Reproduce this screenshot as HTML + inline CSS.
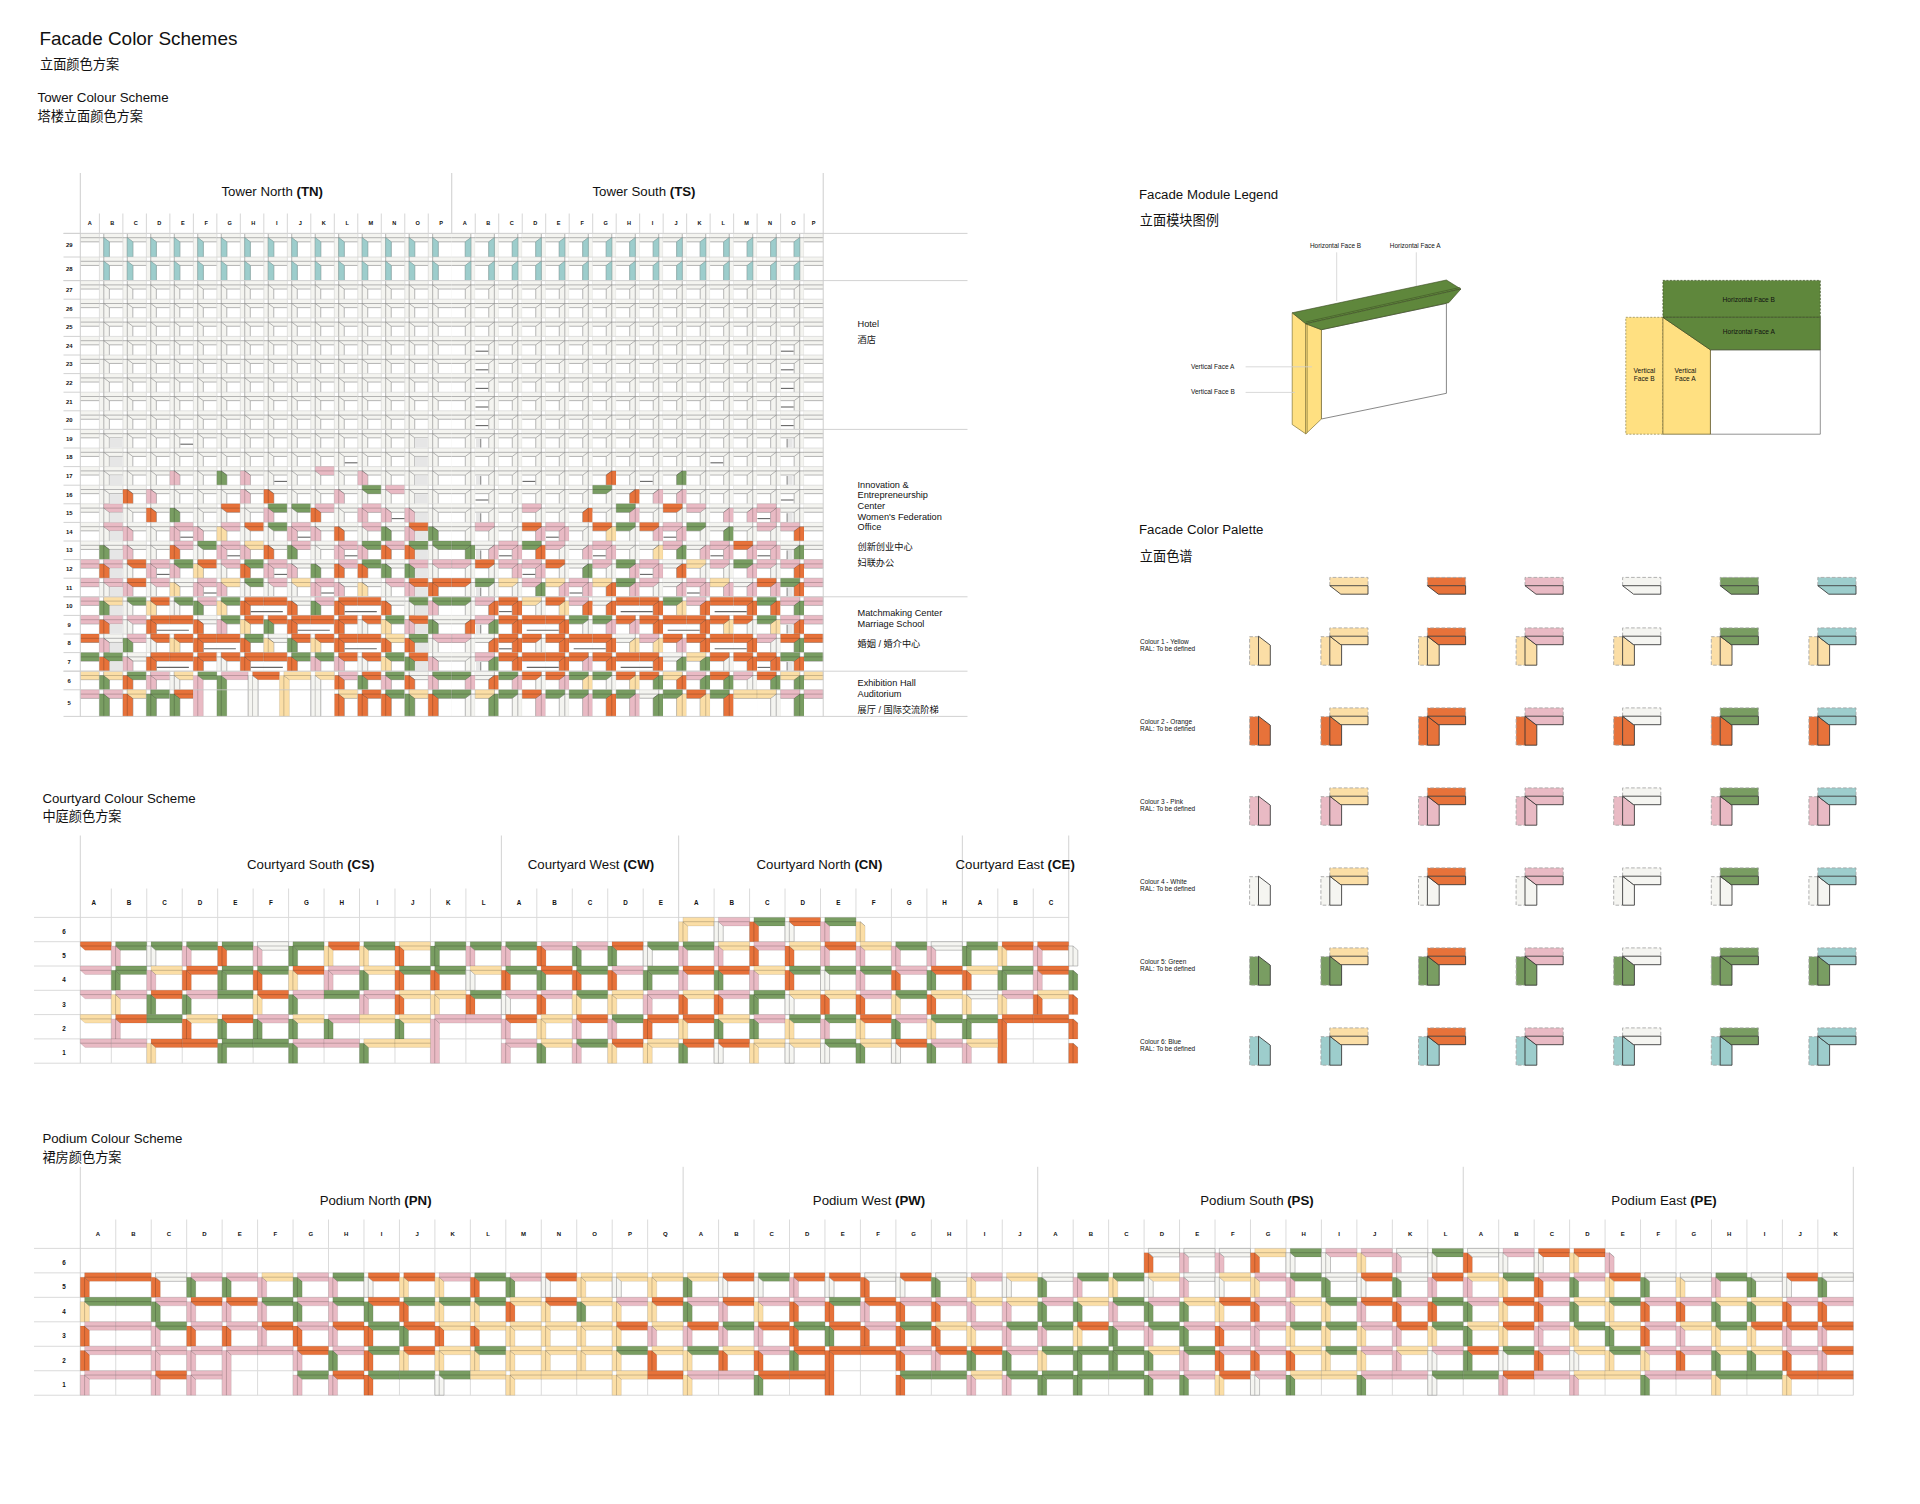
<!DOCTYPE html><html><head><meta charset="utf-8"><title>Facade Color Schemes</title><style>html,body{margin:0;padding:0;background:#fff}svg{display:block}</style></head><body><svg width="1920" height="1504" viewBox="0 0 1920 1504" font-family="'Liberation Sans','Noto Sans CJK SC',sans-serif" fill="#111"><defs><g id="d0"><rect width="19.1" height="23.6" fill="#f4f4f0"/><polygon points="0,8.45 19.1,8.45 19.1,23.6 0,23.6" fill="#fff"/><path d="M0 0L19.1 0" stroke="#d0d0d0" stroke-width=".6" fill="none"/><path d="M0 4.3L19.1 4.3M0 8.45L19.1 8.45" stroke="#8f8f8f" stroke-width=".65" fill="none"/></g><g id="d1"><rect width="23.49" height="23.6" fill="#f4f4f0"/><polygon points="0.6,0.6 4,0.6 4,3.9 0.6,3.9" fill="#fff"/><polygon points="9.95,8.45 23.49,8.45 23.49,23.6 9.95,23.6" fill="#fff"/><path d="M0 0L0 23.6M0 0L23.49 0" stroke="#d0d0d0" stroke-width=".6" fill="none"/><path d="M4.4 0L4.4 23.6M0 4.3L23.49 4.3M4.4 4.3L9.95 8.45M9.95 23.6L9.95 8.45M9.95 8.45L23.49 8.45" stroke="#8f8f8f" stroke-width=".65" fill="none"/></g><g id="d2"><polygon points="4.4,4.3 9.95,8.45 9.95,23.6 4.4,23.6" stroke="#6f9c9b" stroke-width=".4"/></g><g id="d3"><rect width="19.1" height="18.6" fill="#f4f4f0"/><polygon points="0,8.45 19.1,8.45 19.1,18.6 0,18.6" fill="#fff"/><path d="M0 0L19.1 0" stroke="#d0d0d0" stroke-width=".6" fill="none"/><path d="M0 4.3L19.1 4.3M0 8.45L19.1 8.45" stroke="#8f8f8f" stroke-width=".65" fill="none"/></g><g id="d4"><rect width="23.49" height="18.6" fill="#f4f4f0"/><polygon points="0.6,0.6 4,0.6 4,3.9 0.6,3.9" fill="#fff"/><polygon points="9.95,8.45 23.49,8.45 23.49,18.6 9.95,18.6" fill="#fff"/><path d="M0 0L0 18.6M0 0L23.49 0" stroke="#d0d0d0" stroke-width=".6" fill="none"/><path d="M4.4 0L4.4 18.6M0 4.3L23.49 4.3M4.4 4.3L9.95 8.45M9.95 18.6L9.95 8.45M9.95 8.45L23.49 8.45" stroke="#8f8f8f" stroke-width=".65" fill="none"/></g><g id="d5"><polygon points="0,4.3 4.4,4.3 9.95,8.45 9.95,18.6 0,18.6" stroke="#000" stroke-opacity=".2" stroke-width=".45"/><path d="M4.4 4.3L4.4 18.6M4.4 4.3L9.95 8.45" stroke="#000" stroke-opacity="0.32" stroke-width=".6" fill="none"/></g><g id="d6"><polygon points="4.4,0 23.49,0 23.49,8.45 9.95,8.45 4.4,4.3" stroke="#000" stroke-opacity=".2" stroke-width=".45"/><path d="M4.4 4.3L23.49 4.3" stroke="#000" stroke-opacity=".32" stroke-width=".6" fill="none"/></g><g id="d7"><polygon points="0,0 19.1,0 19.1,8.45 0,8.45" stroke="#000" stroke-opacity=".2" stroke-width=".45"/><path d="M0 4.3L19.1 4.3" stroke="#000" stroke-opacity=".32" stroke-width=".6" fill="none"/></g><g id="d8"><rect width="23.49" height="18.6" fill="#f4f4f0"/><polygon points="0,8.45 23.49,8.45 23.49,18.6 0,18.6" fill="#fff"/><path d="M0 0L23.49 0" stroke="#d0d0d0" stroke-width=".6" fill="none"/><path d="M0 4.3L23.49 4.3M0 8.45L23.49 8.45" stroke="#8f8f8f" stroke-width=".65" fill="none"/></g><g id="d9"><polygon points="0,0 23.49,0 23.49,8.45 0,8.45" stroke="#000" stroke-opacity=".2" stroke-width=".45"/><path d="M0 4.3L23.49 4.3" stroke="#000" stroke-opacity=".32" stroke-width=".6" fill="none"/></g><g id="d10"><rect width="19.1" height="26.6" fill="#f4f4f0"/><polygon points="0,8.45 19.1,8.45 19.1,26.6 0,26.6" fill="#fff"/><path d="M0 0L19.1 0" stroke="#d0d0d0" stroke-width=".6" fill="none"/><path d="M0 4.3L19.1 4.3M0 8.45L19.1 8.45" stroke="#8f8f8f" stroke-width=".65" fill="none"/></g><g id="d11"><rect width="23.49" height="26.6" fill="#f4f4f0"/><polygon points="0.6,0.6 4,0.6 4,3.9 0.6,3.9" fill="#fff"/><polygon points="9.95,8.45 23.49,8.45 23.49,26.6 9.95,26.6" fill="#fff"/><path d="M0 0L0 26.6M0 0L23.49 0" stroke="#d0d0d0" stroke-width=".6" fill="none"/><path d="M4.4 0L4.4 26.6M0 4.3L23.49 4.3M4.4 4.3L9.95 8.45M9.95 26.6L9.95 8.45M9.95 8.45L23.49 8.45" stroke="#8f8f8f" stroke-width=".65" fill="none"/></g><g id="d12"><polygon points="0,4.3 4.4,4.3 9.95,8.45 9.95,26.6 0,26.6" stroke="#000" stroke-opacity=".2" stroke-width=".45"/><path d="M4.4 4.3L4.4 26.6M4.4 4.3L9.95 8.45" stroke="#000" stroke-opacity="0.32" stroke-width=".6" fill="none"/></g><g id="d13"><rect width="23.49" height="23.6" fill="#f4f4f0"/><polygon points="22.89,0.6 19.49,0.6 19.49,3.9 22.89,3.9" fill="#fff"/><polygon points="13.54,8.45 0,8.45 0,23.6 13.54,23.6" fill="#fff"/><path d="M23.49 0L23.49 23.6M23.49 0L0 0" stroke="#d0d0d0" stroke-width=".6" fill="none"/><path d="M19.09 0L19.09 23.6M23.49 4.3L0 4.3M19.09 4.3L13.54 8.45M13.54 23.6L13.54 8.45M13.54 8.45L0 8.45" stroke="#8f8f8f" stroke-width=".65" fill="none"/></g><g id="d14"><polygon points="19.09,4.3 13.54,8.45 13.54,23.6 19.09,23.6" stroke="#6f9c9b" stroke-width=".4"/></g><g id="d15"><rect width="19.1" height="23.6" fill="#f4f4f0"/><polygon points="0,8.45 19.1,8.45 19.1,23.6 0,23.6" fill="#fff"/><path d="M19.1 0L0 0" stroke="#d0d0d0" stroke-width=".6" fill="none"/><path d="M19.1 4.3L0 4.3M19.1 8.45L0 8.45" stroke="#8f8f8f" stroke-width=".65" fill="none"/></g><g id="d16"><rect width="23.49" height="18.6" fill="#f4f4f0"/><polygon points="22.89,0.6 19.49,0.6 19.49,3.9 22.89,3.9" fill="#fff"/><polygon points="13.54,8.45 0,8.45 0,18.6 13.54,18.6" fill="#fff"/><path d="M23.49 0L23.49 18.6M23.49 0L0 0" stroke="#d0d0d0" stroke-width=".6" fill="none"/><path d="M19.09 0L19.09 18.6M23.49 4.3L0 4.3M19.09 4.3L13.54 8.45M13.54 18.6L13.54 8.45M13.54 8.45L0 8.45" stroke="#8f8f8f" stroke-width=".65" fill="none"/></g><g id="d17"><rect width="19.1" height="18.6" fill="#f4f4f0"/><polygon points="0,8.45 19.1,8.45 19.1,18.6 0,18.6" fill="#fff"/><path d="M19.1 0L0 0" stroke="#d0d0d0" stroke-width=".6" fill="none"/><path d="M19.1 4.3L0 4.3M19.1 8.45L0 8.45" stroke="#8f8f8f" stroke-width=".65" fill="none"/></g><g id="d18"><polygon points="23.49,4.3 19.09,4.3 13.54,8.45 13.54,18.6 23.49,18.6" stroke="#000" stroke-opacity=".2" stroke-width=".45"/><path d="M19.09 4.3L19.09 18.6M19.09 4.3L13.54 8.45" stroke="#000" stroke-opacity="0.32" stroke-width=".6" fill="none"/></g><g id="d19"><polygon points="19.09,0 0,0 0,8.45 13.54,8.45 19.09,4.3" stroke="#000" stroke-opacity=".2" stroke-width=".45"/><path d="M19.09 4.3L0 4.3" stroke="#000" stroke-opacity=".32" stroke-width=".6" fill="none"/></g><g id="d20"><polygon points="19.1,0 0,0 0,8.45 19.1,8.45" stroke="#000" stroke-opacity=".2" stroke-width=".45"/><path d="M19.1 4.3L0 4.3" stroke="#000" stroke-opacity=".32" stroke-width=".6" fill="none"/></g><g id="d21"><rect width="23.49" height="18.6" fill="#f4f4f0"/><polygon points="0,8.45 23.49,8.45 23.49,18.6 0,18.6" fill="#fff"/><path d="M23.49 0L0 0" stroke="#d0d0d0" stroke-width=".6" fill="none"/><path d="M23.49 4.3L0 4.3M23.49 8.45L0 8.45" stroke="#8f8f8f" stroke-width=".65" fill="none"/></g><g id="d22"><polygon points="23.49,0 0,0 0,8.45 23.49,8.45" stroke="#000" stroke-opacity=".2" stroke-width=".45"/><path d="M23.49 4.3L0 4.3" stroke="#000" stroke-opacity=".32" stroke-width=".6" fill="none"/></g><g id="d23"><rect width="23.49" height="26.6" fill="#f4f4f0"/><polygon points="22.89,0.6 19.49,0.6 19.49,3.9 22.89,3.9" fill="#fff"/><polygon points="13.54,8.45 0,8.45 0,26.6 13.54,26.6" fill="#fff"/><path d="M23.49 0L23.49 26.6M23.49 0L0 0" stroke="#d0d0d0" stroke-width=".6" fill="none"/><path d="M19.09 0L19.09 26.6M23.49 4.3L0 4.3M19.09 4.3L13.54 8.45M13.54 26.6L13.54 8.45M13.54 8.45L0 8.45" stroke="#8f8f8f" stroke-width=".65" fill="none"/></g><g id="d24"><polygon points="23.49,4.3 19.09,4.3 13.54,8.45 13.54,26.6 23.49,26.6" stroke="#000" stroke-opacity=".2" stroke-width=".45"/><path d="M19.09 4.3L19.09 26.6M19.09 4.3L13.54 8.45" stroke="#000" stroke-opacity="0.32" stroke-width=".6" fill="none"/></g><g id="d25"><rect width="23.49" height="26.6" fill="#f4f4f0"/><polygon points="0,8.45 23.49,8.45 23.49,26.6 0,26.6" fill="#fff"/><path d="M23.49 0L0 0" stroke="#d0d0d0" stroke-width=".6" fill="none"/><path d="M23.49 4.3L0 4.3M23.49 8.45L0 8.45" stroke="#8f8f8f" stroke-width=".65" fill="none"/></g><g id="d26"><rect width="19.1" height="26.6" fill="#f4f4f0"/><polygon points="0,8.45 19.1,8.45 19.1,26.6 0,26.6" fill="#fff"/><path d="M19.1 0L0 0" stroke="#d0d0d0" stroke-width=".6" fill="none"/><path d="M19.1 4.3L0 4.3M19.1 8.45L0 8.45" stroke="#8f8f8f" stroke-width=".65" fill="none"/></g><g id="d27"><polygon points="0,4.3 4.4,4.3 9.95,8.45 9.95,45.2 0,45.2" stroke="#000" stroke-opacity=".2" stroke-width=".45"/><path d="M4.4 4.3L4.4 45.2M4.4 4.3L9.95 8.45" stroke="#000" stroke-opacity="0.32" stroke-width=".6" fill="none"/></g><g id="d28"><polygon points="0,4.3 4.4,4.3 9.95,8.45 9.95,45.2 0,45.2" stroke="#000" stroke-opacity=".2" stroke-width=".45"/><path d="M4.4 4.3L4.4 45.2M4.4 4.3L9.95 8.45" stroke="#000" stroke-opacity="0.32" stroke-width=".6" fill="none"/></g><g id="d29"><polygon points="4.4,0 31.3,0 31.3,8.45 9.95,8.45 4.4,4.3" stroke="#000" stroke-opacity=".2" stroke-width=".45"/><path d="M4.4 4.3L31.3 4.3" stroke="#000" stroke-opacity=".32" stroke-width=".6" fill="none"/></g><g id="d30"><polygon points="0,4.3 4.4,4.3 9.95,8.45 9.95,45.2 0,45.2" stroke="#000" stroke-opacity=".2" stroke-width=".45"/><path d="M4.4 4.3L4.4 45.2M4.4 4.3L9.95 8.45" stroke="#000" stroke-opacity="0.32" stroke-width=".6" fill="none"/></g><g id="d31"><polygon points="4.4,0 31.36,0 31.36,8.45 9.95,8.45 4.4,4.3" stroke="#000" stroke-opacity=".2" stroke-width=".45"/><path d="M4.4 4.3L31.36 4.3" stroke="#000" stroke-opacity=".32" stroke-width=".6" fill="none"/></g><g id="d32"><polygon points="0,4.3 4.3,4.3 9.1,8.5 9.1,24.3 0,24.3" stroke="#000" stroke-opacity=".2" stroke-width=".45"/><path d="M4.3 4.3L4.3 24.3M4.3 4.3L9.1 8.5" stroke="#000" stroke-opacity="0.32" stroke-width=".6" fill="none"/></g><g id="d33"><polygon points="4.3,0 35.46,0 35.46,8.5 9.1,8.5 4.3,4.3" stroke="#000" stroke-opacity=".2" stroke-width=".45"/><path d="M4.3 4.3L35.46 4.3" stroke="#000" stroke-opacity=".32" stroke-width=".6" fill="none"/></g><g id="d34"><polygon points="0,4.3 4.3,4.3 9.1,8.5 9.1,24.3 0,24.3" fill="#f5f5f1" stroke="#9b9b9b" stroke-width=".6"/><path d="M4.3 4.3V24.3" stroke="#9b9b9b" stroke-width=".6"/></g><g id="d35"><polygon points="0,0 31,0 31,8.5 4.8,8.5 0,4.3" stroke="#000" stroke-opacity=".2" stroke-width=".45"/><path d="M0 4.3L31 4.3" stroke="#000" stroke-opacity=".32" stroke-width=".6" fill="none"/></g><g id="d36"><polygon points="4.3,0 35.46,0 35.46,8.5 9.1,8.5 4.3,4.3" fill="#f5f5f1" stroke="#9b9b9b" stroke-width=".6"/><path d="M4.3 4.3H35.46" stroke="#9b9b9b" stroke-width=".6"/></g><g id="d37"><polygon points="0,0 35.46,0 35.46,8.5 0,8.5" stroke="#000" stroke-opacity=".2" stroke-width=".45"/><path d="M0 4.3L35.46 4.3" stroke="#000" stroke-opacity=".32" stroke-width=".6" fill="none"/></g><g id="d38"><polygon points="0,4.3 4.3,4.3 9.1,8.5 9.1,48.6 0,48.6" stroke="#000" stroke-opacity=".2" stroke-width=".45"/><path d="M4.3 4.3L4.3 48.6M4.3 4.3L9.1 8.5" stroke="#000" stroke-opacity="0.32" stroke-width=".6" fill="none"/></g><g id="d39"><polygon points="0,4.3 4.3,4.3 9.1,8.5 9.1,24.47 0,24.47" stroke="#000" stroke-opacity=".2" stroke-width=".45"/><path d="M4.3 4.3L4.3 24.47M4.3 4.3L9.1 8.5" stroke="#000" stroke-opacity="0.32" stroke-width=".6" fill="none"/></g><g id="d40"><polygon points="0,4.3 4.3,4.3 9.1,8.5 9.1,24.47 0,24.47" fill="#f5f5f1" stroke="#9b9b9b" stroke-width=".6"/><path d="M4.3 4.3V24.47" stroke="#9b9b9b" stroke-width=".6"/></g><g id="d41"><polygon points="0,4.3 4.3,4.3 9.1,8.5 9.1,48.94 0,48.94" stroke="#000" stroke-opacity=".2" stroke-width=".45"/><path d="M4.3 4.3L4.3 48.94M4.3 4.3L9.1 8.5" stroke="#000" stroke-opacity="0.32" stroke-width=".6" fill="none"/></g></defs><g>
<use href="#d0" x="80.3" y="233.4"/>
<use href="#d1" x="99.4" y="233.4"/>
<use href="#d2" x="99.4" y="233.4" fill="#9dcdcc"/>
<use href="#d1" x="122.89" y="233.4"/>
<use href="#d2" x="122.89" y="233.4" fill="#9dcdcc"/>
<use href="#d1" x="146.38" y="233.4"/>
<use href="#d2" x="146.38" y="233.4" fill="#9dcdcc"/>
<use href="#d1" x="169.87" y="233.4"/>
<use href="#d2" x="169.87" y="233.4" fill="#9dcdcc"/>
<use href="#d1" x="193.36" y="233.4"/>
<use href="#d2" x="193.36" y="233.4" fill="#9dcdcc"/>
<use href="#d1" x="216.85" y="233.4"/>
<use href="#d2" x="216.85" y="233.4" fill="#9dcdcc"/>
<use href="#d1" x="240.34" y="233.4"/>
<use href="#d2" x="240.34" y="233.4" fill="#9dcdcc"/>
<use href="#d1" x="263.83" y="233.4"/>
<use href="#d2" x="263.83" y="233.4" fill="#9dcdcc"/>
<use href="#d1" x="287.32" y="233.4"/>
<use href="#d2" x="287.32" y="233.4" fill="#9dcdcc"/>
<use href="#d1" x="310.81" y="233.4"/>
<use href="#d2" x="310.81" y="233.4" fill="#9dcdcc"/>
<use href="#d1" x="334.3" y="233.4"/>
<use href="#d2" x="334.3" y="233.4" fill="#9dcdcc"/>
<use href="#d1" x="357.79" y="233.4"/>
<use href="#d2" x="357.79" y="233.4" fill="#9dcdcc"/>
<use href="#d1" x="381.28" y="233.4"/>
<use href="#d2" x="381.28" y="233.4" fill="#9dcdcc"/>
<use href="#d1" x="404.77" y="233.4"/>
<use href="#d2" x="404.77" y="233.4" fill="#9dcdcc"/>
<use href="#d1" x="428.26" y="233.4"/>
<use href="#d2" x="428.26" y="233.4" fill="#9dcdcc"/>
<use href="#d0" x="80.3" y="257"/>
<use href="#d1" x="99.4" y="257"/>
<use href="#d2" x="99.4" y="257" fill="#9dcdcc"/>
<use href="#d1" x="122.89" y="257"/>
<use href="#d2" x="122.89" y="257" fill="#9dcdcc"/>
<use href="#d1" x="146.38" y="257"/>
<use href="#d2" x="146.38" y="257" fill="#9dcdcc"/>
<use href="#d1" x="169.87" y="257"/>
<use href="#d2" x="169.87" y="257" fill="#9dcdcc"/>
<use href="#d1" x="193.36" y="257"/>
<use href="#d2" x="193.36" y="257" fill="#9dcdcc"/>
<use href="#d1" x="216.85" y="257"/>
<use href="#d2" x="216.85" y="257" fill="#9dcdcc"/>
<use href="#d1" x="240.34" y="257"/>
<use href="#d2" x="240.34" y="257" fill="#9dcdcc"/>
<use href="#d1" x="263.83" y="257"/>
<use href="#d2" x="263.83" y="257" fill="#9dcdcc"/>
<use href="#d1" x="287.32" y="257"/>
<use href="#d2" x="287.32" y="257" fill="#9dcdcc"/>
<use href="#d1" x="310.81" y="257"/>
<use href="#d2" x="310.81" y="257" fill="#9dcdcc"/>
<use href="#d1" x="334.3" y="257"/>
<use href="#d2" x="334.3" y="257" fill="#9dcdcc"/>
<use href="#d1" x="357.79" y="257"/>
<use href="#d2" x="357.79" y="257" fill="#9dcdcc"/>
<use href="#d1" x="381.28" y="257"/>
<use href="#d2" x="381.28" y="257" fill="#9dcdcc"/>
<use href="#d1" x="404.77" y="257"/>
<use href="#d2" x="404.77" y="257" fill="#9dcdcc"/>
<use href="#d1" x="428.26" y="257"/>
<use href="#d2" x="428.26" y="257" fill="#9dcdcc"/>
<use href="#d3" x="80.3" y="280.6"/>
<use href="#d4" x="99.4" y="280.6"/>
<use href="#d4" x="122.89" y="280.6"/>
<use href="#d4" x="146.38" y="280.6"/>
<use href="#d4" x="169.87" y="280.6"/>
<use href="#d4" x="193.36" y="280.6"/>
<use href="#d4" x="216.85" y="280.6"/>
<use href="#d4" x="240.34" y="280.6"/>
<use href="#d4" x="263.83" y="280.6"/>
<use href="#d4" x="287.32" y="280.6"/>
<use href="#d4" x="310.81" y="280.6"/>
<use href="#d4" x="334.3" y="280.6"/>
<use href="#d4" x="357.79" y="280.6"/>
<use href="#d4" x="381.28" y="280.6"/>
<use href="#d4" x="404.77" y="280.6"/>
<use href="#d4" x="428.26" y="280.6"/>
<use href="#d3" x="80.3" y="299.2"/>
<use href="#d4" x="99.4" y="299.2"/>
<use href="#d4" x="122.89" y="299.2"/>
<use href="#d4" x="146.38" y="299.2"/>
<use href="#d4" x="169.87" y="299.2"/>
<use href="#d4" x="193.36" y="299.2"/>
<use href="#d4" x="216.85" y="299.2"/>
<use href="#d4" x="240.34" y="299.2"/>
<use href="#d4" x="263.83" y="299.2"/>
<use href="#d4" x="287.32" y="299.2"/>
<use href="#d4" x="310.81" y="299.2"/>
<use href="#d4" x="334.3" y="299.2"/>
<use href="#d4" x="357.79" y="299.2"/>
<use href="#d4" x="381.28" y="299.2"/>
<use href="#d4" x="404.77" y="299.2"/>
<use href="#d4" x="428.26" y="299.2"/>
<use href="#d3" x="80.3" y="317.8"/>
<use href="#d4" x="99.4" y="317.8"/>
<use href="#d4" x="122.89" y="317.8"/>
<use href="#d4" x="146.38" y="317.8"/>
<use href="#d4" x="169.87" y="317.8"/>
<use href="#d4" x="193.36" y="317.8"/>
<use href="#d4" x="216.85" y="317.8"/>
<use href="#d4" x="240.34" y="317.8"/>
<use href="#d4" x="263.83" y="317.8"/>
<use href="#d4" x="287.32" y="317.8"/>
<use href="#d4" x="310.81" y="317.8"/>
<use href="#d4" x="334.3" y="317.8"/>
<use href="#d4" x="357.79" y="317.8"/>
<use href="#d4" x="381.28" y="317.8"/>
<use href="#d4" x="404.77" y="317.8"/>
<use href="#d4" x="428.26" y="317.8"/>
<use href="#d3" x="80.3" y="336.4"/>
<use href="#d4" x="99.4" y="336.4"/>
<use href="#d4" x="122.89" y="336.4"/>
<use href="#d4" x="146.38" y="336.4"/>
<use href="#d4" x="169.87" y="336.4"/>
<use href="#d4" x="193.36" y="336.4"/>
<use href="#d4" x="216.85" y="336.4"/>
<use href="#d4" x="240.34" y="336.4"/>
<use href="#d4" x="263.83" y="336.4"/>
<use href="#d4" x="287.32" y="336.4"/>
<use href="#d4" x="310.81" y="336.4"/>
<use href="#d4" x="334.3" y="336.4"/>
<use href="#d4" x="357.79" y="336.4"/>
<use href="#d4" x="381.28" y="336.4"/>
<use href="#d4" x="404.77" y="336.4"/>
<use href="#d4" x="428.26" y="336.4"/>
<use href="#d3" x="80.3" y="355"/>
<use href="#d4" x="99.4" y="355"/>
<use href="#d4" x="122.89" y="355"/>
<use href="#d4" x="146.38" y="355"/>
<use href="#d4" x="169.87" y="355"/>
<use href="#d4" x="193.36" y="355"/>
<use href="#d4" x="216.85" y="355"/>
<use href="#d4" x="240.34" y="355"/>
<use href="#d4" x="263.83" y="355"/>
<use href="#d4" x="287.32" y="355"/>
<use href="#d4" x="310.81" y="355"/>
<use href="#d4" x="334.3" y="355"/>
<use href="#d4" x="357.79" y="355"/>
<use href="#d4" x="381.28" y="355"/>
<use href="#d4" x="404.77" y="355"/>
<use href="#d4" x="428.26" y="355"/>
<use href="#d3" x="80.3" y="373.6"/>
<use href="#d4" x="99.4" y="373.6"/>
<use href="#d4" x="122.89" y="373.6"/>
<use href="#d4" x="146.38" y="373.6"/>
<use href="#d4" x="169.87" y="373.6"/>
<use href="#d4" x="193.36" y="373.6"/>
<use href="#d4" x="216.85" y="373.6"/>
<use href="#d4" x="240.34" y="373.6"/>
<use href="#d4" x="263.83" y="373.6"/>
<use href="#d4" x="287.32" y="373.6"/>
<use href="#d4" x="310.81" y="373.6"/>
<use href="#d4" x="334.3" y="373.6"/>
<use href="#d4" x="357.79" y="373.6"/>
<use href="#d4" x="381.28" y="373.6"/>
<use href="#d4" x="404.77" y="373.6"/>
<use href="#d4" x="428.26" y="373.6"/>
<use href="#d3" x="80.3" y="392.2"/>
<use href="#d4" x="99.4" y="392.2"/>
<use href="#d4" x="122.89" y="392.2"/>
<use href="#d4" x="146.38" y="392.2"/>
<use href="#d4" x="169.87" y="392.2"/>
<use href="#d4" x="193.36" y="392.2"/>
<use href="#d4" x="216.85" y="392.2"/>
<use href="#d4" x="240.34" y="392.2"/>
<use href="#d4" x="263.83" y="392.2"/>
<use href="#d4" x="287.32" y="392.2"/>
<use href="#d4" x="310.81" y="392.2"/>
<use href="#d4" x="334.3" y="392.2"/>
<use href="#d4" x="357.79" y="392.2"/>
<use href="#d4" x="381.28" y="392.2"/>
<use href="#d4" x="404.77" y="392.2"/>
<use href="#d4" x="428.26" y="392.2"/>
<use href="#d3" x="80.3" y="410.8"/>
<use href="#d4" x="99.4" y="410.8"/>
<use href="#d4" x="122.89" y="410.8"/>
<use href="#d4" x="146.38" y="410.8"/>
<use href="#d4" x="169.87" y="410.8"/>
<use href="#d4" x="193.36" y="410.8"/>
<use href="#d4" x="216.85" y="410.8"/>
<use href="#d4" x="240.34" y="410.8"/>
<use href="#d4" x="263.83" y="410.8"/>
<use href="#d4" x="287.32" y="410.8"/>
<use href="#d4" x="310.81" y="410.8"/>
<use href="#d4" x="334.3" y="410.8"/>
<use href="#d4" x="357.79" y="410.8"/>
<use href="#d4" x="381.28" y="410.8"/>
<use href="#d4" x="404.77" y="410.8"/>
<use href="#d4" x="428.26" y="410.8"/>
<use href="#d3" x="80.3" y="429.4"/>
<use href="#d4" x="99.4" y="429.4"/>
<use href="#d4" x="122.89" y="429.4"/>
<use href="#d4" x="146.38" y="429.4"/>
<use href="#d4" x="169.87" y="429.4"/>
<use href="#d4" x="193.36" y="429.4"/>
<use href="#d4" x="216.85" y="429.4"/>
<use href="#d4" x="240.34" y="429.4"/>
<use href="#d4" x="263.83" y="429.4"/>
<use href="#d4" x="287.32" y="429.4"/>
<use href="#d4" x="310.81" y="429.4"/>
<use href="#d4" x="334.3" y="429.4"/>
<use href="#d4" x="357.79" y="429.4"/>
<use href="#d4" x="381.28" y="429.4"/>
<use href="#d4" x="404.77" y="429.4"/>
<use href="#d4" x="428.26" y="429.4"/>
<use href="#d3" x="80.3" y="448"/>
<use href="#d4" x="99.4" y="448"/>
<use href="#d4" x="122.89" y="448"/>
<use href="#d4" x="146.38" y="448"/>
<use href="#d4" x="169.87" y="448"/>
<use href="#d4" x="193.36" y="448"/>
<use href="#d4" x="216.85" y="448"/>
<use href="#d4" x="240.34" y="448"/>
<use href="#d4" x="263.83" y="448"/>
<use href="#d4" x="287.32" y="448"/>
<use href="#d4" x="310.81" y="448"/>
<use href="#d4" x="334.3" y="448"/>
<use href="#d4" x="357.79" y="448"/>
<use href="#d4" x="381.28" y="448"/>
<use href="#d4" x="404.77" y="448"/>
<use href="#d4" x="428.26" y="448"/>
<use href="#d3" x="80.3" y="466.6"/>
<use href="#d4" x="99.4" y="466.6"/>
<use href="#d4" x="122.89" y="466.6"/>
<use href="#d4" x="146.38" y="466.6"/>
<use href="#d4" x="169.87" y="466.6"/>
<use href="#d5" x="169.87" y="466.6" fill="#e9bac4"/>
<use href="#d4" x="193.36" y="466.6"/>
<use href="#d4" x="216.85" y="466.6"/>
<use href="#d5" x="216.85" y="466.6" fill="#799d62"/>
<use href="#d4" x="240.34" y="466.6"/>
<use href="#d5" x="240.34" y="466.6" fill="#e9bac4"/>
<use href="#d4" x="263.83" y="466.6"/>
<use href="#d4" x="287.32" y="466.6"/>
<use href="#d4" x="310.81" y="466.6"/>
<use href="#d6" x="310.81" y="466.6" fill="#e9bac4"/>
<use href="#d4" x="334.3" y="466.6"/>
<use href="#d4" x="357.79" y="466.6"/>
<use href="#d5" x="357.79" y="466.6" fill="#e9bac4"/>
<use href="#d4" x="381.28" y="466.6"/>
<use href="#d4" x="404.77" y="466.6"/>
<use href="#d4" x="428.26" y="466.6"/>
<use href="#d3" x="80.3" y="485.2"/>
<use href="#d4" x="99.4" y="485.2"/>
<use href="#d4" x="122.89" y="485.2"/>
<use href="#d5" x="122.89" y="485.2" fill="#e7723a"/>
<use href="#d4" x="146.38" y="485.2"/>
<use href="#d5" x="146.38" y="485.2" fill="#e9bac4"/>
<use href="#d4" x="169.87" y="485.2"/>
<use href="#d4" x="193.36" y="485.2"/>
<use href="#d4" x="216.85" y="485.2"/>
<use href="#d4" x="240.34" y="485.2"/>
<use href="#d5" x="240.34" y="485.2" fill="#e9bac4"/>
<use href="#d4" x="263.83" y="485.2"/>
<use href="#d5" x="263.83" y="485.2" fill="#e7723a"/>
<use href="#d4" x="287.32" y="485.2"/>
<use href="#d4" x="310.81" y="485.2"/>
<use href="#d4" x="334.3" y="485.2"/>
<use href="#d5" x="334.3" y="485.2" fill="#e9bac4"/>
<use href="#d4" x="357.79" y="485.2"/>
<use href="#d6" x="357.79" y="485.2" fill="#799d62"/>
<use href="#d4" x="381.28" y="485.2"/>
<use href="#d6" x="381.28" y="485.2" fill="#e9bac4"/>
<use href="#d4" x="404.77" y="485.2"/>
<use href="#d4" x="428.26" y="485.2"/>
<use href="#d3" x="80.3" y="503.8"/>
<use href="#d4" x="99.4" y="503.8"/>
<use href="#d6" x="99.4" y="503.8" fill="#e9bac4"/>
<use href="#d4" x="122.89" y="503.8"/>
<use href="#d4" x="146.38" y="503.8"/>
<use href="#d5" x="146.38" y="503.8" fill="#e7723a"/>
<use href="#d4" x="169.87" y="503.8"/>
<use href="#d5" x="169.87" y="503.8" fill="#799d62"/>
<use href="#d4" x="193.36" y="503.8"/>
<use href="#d4" x="216.85" y="503.8"/>
<use href="#d6" x="216.85" y="503.8" fill="#e7723a"/>
<use href="#d4" x="240.34" y="503.8"/>
<use href="#d4" x="263.83" y="503.8"/>
<use href="#d5" x="263.83" y="503.8" fill="#e9bac4"/>
<use href="#d6" x="263.83" y="503.8" fill="#799d62"/>
<use href="#d4" x="287.32" y="503.8"/>
<use href="#d6" x="287.32" y="503.8" fill="#799d62"/>
<use href="#d4" x="310.81" y="503.8"/>
<use href="#d5" x="310.81" y="503.8" fill="#e7723a"/>
<use href="#d6" x="310.81" y="503.8" fill="#e9bac4"/>
<use href="#d4" x="334.3" y="503.8"/>
<use href="#d4" x="357.79" y="503.8"/>
<use href="#d5" x="357.79" y="503.8" fill="#e9bac4"/>
<use href="#d6" x="357.79" y="503.8" fill="#e9bac4"/>
<use href="#d4" x="381.28" y="503.8"/>
<use href="#d5" x="381.28" y="503.8" fill="#e9bac4"/>
<use href="#d4" x="404.77" y="503.8"/>
<use href="#d5" x="404.77" y="503.8" fill="#e9bac4"/>
<use href="#d4" x="428.26" y="503.8"/>
<use href="#d3" x="80.3" y="522.4"/>
<use href="#d4" x="99.4" y="522.4"/>
<use href="#d6" x="99.4" y="522.4" fill="#e9bac4"/>
<use href="#d4" x="122.89" y="522.4"/>
<use href="#d5" x="122.89" y="522.4" fill="#e9bac4"/>
<use href="#d4" x="146.38" y="522.4"/>
<use href="#d4" x="169.87" y="522.4"/>
<use href="#d5" x="169.87" y="522.4" fill="#e9bac4"/>
<use href="#d6" x="169.87" y="522.4" fill="#e9bac4"/>
<use href="#d4" x="193.36" y="522.4"/>
<use href="#d5" x="193.36" y="522.4" fill="#e9bac4"/>
<use href="#d4" x="216.85" y="522.4"/>
<use href="#d5" x="216.85" y="522.4" fill="#fbdea6"/>
<use href="#d6" x="216.85" y="522.4" fill="#e9bac4"/>
<use href="#d4" x="240.34" y="522.4"/>
<use href="#d6" x="240.34" y="522.4" fill="#e7723a"/>
<use href="#d4" x="263.83" y="522.4"/>
<use href="#d6" x="263.83" y="522.4" fill="#799d62"/>
<use href="#d4" x="287.32" y="522.4"/>
<use href="#d5" x="287.32" y="522.4" fill="#e9bac4"/>
<use href="#d6" x="287.32" y="522.4" fill="#e9bac4"/>
<use href="#d4" x="310.81" y="522.4"/>
<use href="#d5" x="310.81" y="522.4" fill="#e9bac4"/>
<use href="#d4" x="334.3" y="522.4"/>
<use href="#d5" x="334.3" y="522.4" fill="#e7723a"/>
<use href="#d4" x="357.79" y="522.4"/>
<use href="#d6" x="357.79" y="522.4" fill="#e9bac4"/>
<use href="#d4" x="381.28" y="522.4"/>
<use href="#d5" x="381.28" y="522.4" fill="#799d62"/>
<use href="#d4" x="404.77" y="522.4"/>
<use href="#d5" x="404.77" y="522.4" fill="#e9bac4"/>
<use href="#d6" x="404.77" y="522.4" fill="#e7723a"/>
<use href="#d4" x="428.26" y="522.4"/>
<use href="#d5" x="428.26" y="522.4" fill="#799d62"/>
<use href="#d3" x="80.3" y="541"/>
<use href="#d4" x="99.4" y="541"/>
<use href="#d5" x="99.4" y="541" fill="#799d62"/>
<use href="#d4" x="122.89" y="541"/>
<use href="#d5" x="122.89" y="541" fill="#e9bac4"/>
<use href="#d4" x="146.38" y="541"/>
<use href="#d4" x="169.87" y="541"/>
<use href="#d5" x="169.87" y="541" fill="#e7723a"/>
<use href="#d6" x="169.87" y="541" fill="#e9bac4"/>
<use href="#d4" x="193.36" y="541"/>
<use href="#d6" x="193.36" y="541" fill="#799d62"/>
<use href="#d4" x="216.85" y="541"/>
<use href="#d5" x="216.85" y="541" fill="#e9bac4"/>
<use href="#d6" x="216.85" y="541" fill="#e9bac4"/>
<use href="#d4" x="240.34" y="541"/>
<use href="#d5" x="240.34" y="541" fill="#e9bac4"/>
<use href="#d6" x="240.34" y="541" fill="#fbdea6"/>
<use href="#d4" x="263.83" y="541"/>
<use href="#d5" x="263.83" y="541" fill="#e7723a"/>
<use href="#d4" x="287.32" y="541"/>
<use href="#d5" x="287.32" y="541" fill="#799d62"/>
<use href="#d6" x="287.32" y="541" fill="#e9bac4"/>
<use href="#d4" x="310.81" y="541"/>
<use href="#d4" x="334.3" y="541"/>
<use href="#d5" x="334.3" y="541" fill="#e9bac4"/>
<use href="#d6" x="334.3" y="541" fill="#e9bac4"/>
<use href="#d4" x="357.79" y="541"/>
<use href="#d5" x="357.79" y="541" fill="#e9bac4"/>
<use href="#d6" x="357.79" y="541" fill="#799d62"/>
<use href="#d4" x="381.28" y="541"/>
<use href="#d5" x="381.28" y="541" fill="#e7723a"/>
<use href="#d6" x="381.28" y="541" fill="#e9bac4"/>
<use href="#d4" x="404.77" y="541"/>
<use href="#d5" x="404.77" y="541" fill="#e7723a"/>
<use href="#d6" x="404.77" y="541" fill="#799d62"/>
<use href="#d4" x="428.26" y="541"/>
<use href="#d6" x="428.26" y="541" fill="#799d62"/>
<use href="#d3" x="80.3" y="559.6"/>
<use href="#d7" x="80.3" y="559.6" fill="#e9bac4"/>
<use href="#d4" x="99.4" y="559.6"/>
<use href="#d5" x="99.4" y="559.6" fill="#e7723a"/>
<use href="#d6" x="99.4" y="559.6" fill="#e9bac4"/>
<use href="#d4" x="122.89" y="559.6"/>
<use href="#d6" x="122.89" y="559.6" fill="#e7723a"/>
<use href="#d4" x="146.38" y="559.6"/>
<use href="#d5" x="146.38" y="559.6" fill="#e9bac4"/>
<use href="#d6" x="146.38" y="559.6" fill="#e9bac4"/>
<use href="#d4" x="169.87" y="559.6"/>
<use href="#d5" x="169.87" y="559.6" fill="#e9bac4"/>
<use href="#d6" x="169.87" y="559.6" fill="#799d62"/>
<use href="#d4" x="193.36" y="559.6"/>
<use href="#d5" x="193.36" y="559.6" fill="#fbdea6"/>
<use href="#d6" x="193.36" y="559.6" fill="#e7723a"/>
<use href="#d4" x="216.85" y="559.6"/>
<use href="#d6" x="216.85" y="559.6" fill="#e9bac4"/>
<use href="#d4" x="240.34" y="559.6"/>
<use href="#d5" x="240.34" y="559.6" fill="#e7723a"/>
<use href="#d6" x="240.34" y="559.6" fill="#799d62"/>
<use href="#d4" x="263.83" y="559.6"/>
<use href="#d5" x="263.83" y="559.6" fill="#e9bac4"/>
<use href="#d6" x="263.83" y="559.6" fill="#e9bac4"/>
<use href="#d4" x="287.32" y="559.6"/>
<use href="#d5" x="287.32" y="559.6" fill="#e9bac4"/>
<use href="#d4" x="310.81" y="559.6"/>
<use href="#d5" x="310.81" y="559.6" fill="#799d62"/>
<use href="#d4" x="334.3" y="559.6"/>
<use href="#d5" x="334.3" y="559.6" fill="#e7723a"/>
<use href="#d6" x="334.3" y="559.6" fill="#e9bac4"/>
<use href="#d4" x="357.79" y="559.6"/>
<use href="#d5" x="357.79" y="559.6" fill="#e7723a"/>
<use href="#d6" x="357.79" y="559.6" fill="#799d62"/>
<use href="#d4" x="381.28" y="559.6"/>
<use href="#d5" x="381.28" y="559.6" fill="#799d62"/>
<use href="#d4" x="404.77" y="559.6"/>
<use href="#d5" x="404.77" y="559.6" fill="#799d62"/>
<use href="#d6" x="404.77" y="559.6" fill="#e9bac4"/>
<use href="#d4" x="428.26" y="559.6"/>
<use href="#d6" x="428.26" y="559.6" fill="#e9bac4"/>
<use href="#d3" x="80.3" y="578.2"/>
<use href="#d7" x="80.3" y="578.2" fill="#e9bac4"/>
<use href="#d4" x="99.4" y="578.2"/>
<use href="#d6" x="99.4" y="578.2" fill="#e9bac4"/>
<use href="#d4" x="122.89" y="578.2"/>
<use href="#d5" x="122.89" y="578.2" fill="#e9bac4"/>
<use href="#d6" x="122.89" y="578.2" fill="#e7723a"/>
<use href="#d4" x="146.38" y="578.2"/>
<use href="#d6" x="146.38" y="578.2" fill="#e9bac4"/>
<use href="#d4" x="169.87" y="578.2"/>
<use href="#d5" x="169.87" y="578.2" fill="#fbdea6"/>
<use href="#d4" x="193.36" y="578.2"/>
<use href="#d5" x="193.36" y="578.2" fill="#e9bac4"/>
<use href="#d6" x="193.36" y="578.2" fill="#e9bac4"/>
<use href="#d4" x="216.85" y="578.2"/>
<use href="#d5" x="216.85" y="578.2" fill="#e9bac4"/>
<use href="#d6" x="216.85" y="578.2" fill="#fbdea6"/>
<use href="#d4" x="240.34" y="578.2"/>
<use href="#d6" x="240.34" y="578.2" fill="#799d62"/>
<use href="#d4" x="263.83" y="578.2"/>
<use href="#d6" x="263.83" y="578.2" fill="#e9bac4"/>
<use href="#d4" x="287.32" y="578.2"/>
<use href="#d6" x="287.32" y="578.2" fill="#fbdea6"/>
<use href="#d4" x="310.81" y="578.2"/>
<use href="#d5" x="310.81" y="578.2" fill="#e9bac4"/>
<use href="#d6" x="310.81" y="578.2" fill="#e9bac4"/>
<use href="#d4" x="334.3" y="578.2"/>
<use href="#d5" x="334.3" y="578.2" fill="#e9bac4"/>
<use href="#d4" x="357.79" y="578.2"/>
<use href="#d5" x="357.79" y="578.2" fill="#fbdea6"/>
<use href="#d4" x="381.28" y="578.2"/>
<use href="#d6" x="381.28" y="578.2" fill="#e9bac4"/>
<use href="#d4" x="404.77" y="578.2"/>
<use href="#d5" x="404.77" y="578.2" fill="#e9bac4"/>
<use href="#d6" x="404.77" y="578.2" fill="#e7723a"/>
<use href="#d4" x="428.26" y="578.2"/>
<use href="#d5" x="428.26" y="578.2" fill="#e7723a"/>
<use href="#d6" x="428.26" y="578.2" fill="#e7723a"/>
<use href="#d3" x="80.3" y="596.8"/>
<use href="#d7" x="80.3" y="596.8" fill="#e9bac4"/>
<use href="#d4" x="99.4" y="596.8"/>
<use href="#d5" x="99.4" y="596.8" fill="#799d62"/>
<use href="#d6" x="99.4" y="596.8" fill="#fbdea6"/>
<use href="#d4" x="122.89" y="596.8"/>
<use href="#d6" x="122.89" y="596.8" fill="#799d62"/>
<use href="#d4" x="146.38" y="596.8"/>
<use href="#d5" x="146.38" y="596.8" fill="#fbdea6"/>
<use href="#d6" x="146.38" y="596.8" fill="#e7723a"/>
<use href="#d4" x="169.87" y="596.8"/>
<use href="#d6" x="169.87" y="596.8" fill="#799d62"/>
<use href="#d4" x="193.36" y="596.8"/>
<use href="#d5" x="193.36" y="596.8" fill="#799d62"/>
<use href="#d6" x="193.36" y="596.8" fill="#e9bac4"/>
<use href="#d4" x="216.85" y="596.8"/>
<use href="#d5" x="216.85" y="596.8" fill="#fbdea6"/>
<use href="#d6" x="216.85" y="596.8" fill="#799d62"/>
<use href="#d4" x="240.34" y="596.8"/>
<use href="#d5" x="240.34" y="596.8" fill="#e7723a"/>
<use href="#d6" x="240.34" y="596.8" fill="#e7723a"/>
<use href="#d8" x="263.83" y="596.8"/>
<use href="#d9" x="263.83" y="596.8" fill="#e7723a"/>
<use href="#d4" x="287.32" y="596.8"/>
<use href="#d5" x="287.32" y="596.8" fill="#e7723a"/>
<use href="#d4" x="310.81" y="596.8"/>
<use href="#d5" x="310.81" y="596.8" fill="#799d62"/>
<use href="#d6" x="310.81" y="596.8" fill="#e9bac4"/>
<use href="#d4" x="334.3" y="596.8"/>
<use href="#d5" x="334.3" y="596.8" fill="#e7723a"/>
<use href="#d6" x="334.3" y="596.8" fill="#e7723a"/>
<use href="#d8" x="357.79" y="596.8"/>
<use href="#d9" x="357.79" y="596.8" fill="#e7723a"/>
<use href="#d4" x="381.28" y="596.8"/>
<use href="#d5" x="381.28" y="596.8" fill="#e7723a"/>
<use href="#d4" x="404.77" y="596.8"/>
<use href="#d6" x="404.77" y="596.8" fill="#799d62"/>
<use href="#d4" x="428.26" y="596.8"/>
<use href="#d5" x="428.26" y="596.8" fill="#e9bac4"/>
<use href="#d6" x="428.26" y="596.8" fill="#799d62"/>
<use href="#d3" x="80.3" y="615.4"/>
<use href="#d7" x="80.3" y="615.4" fill="#e9bac4"/>
<use href="#d4" x="99.4" y="615.4"/>
<use href="#d5" x="99.4" y="615.4" fill="#e7723a"/>
<use href="#d6" x="99.4" y="615.4" fill="#e9bac4"/>
<use href="#d4" x="122.89" y="615.4"/>
<use href="#d6" x="122.89" y="615.4" fill="#e9bac4"/>
<use href="#d4" x="146.38" y="615.4"/>
<use href="#d5" x="146.38" y="615.4" fill="#e7723a"/>
<use href="#d6" x="146.38" y="615.4" fill="#e7723a"/>
<use href="#d8" x="169.87" y="615.4"/>
<use href="#d9" x="169.87" y="615.4" fill="#e7723a"/>
<use href="#d4" x="193.36" y="615.4"/>
<use href="#d5" x="193.36" y="615.4" fill="#e7723a"/>
<use href="#d4" x="216.85" y="615.4"/>
<use href="#d5" x="216.85" y="615.4" fill="#e9bac4"/>
<use href="#d6" x="216.85" y="615.4" fill="#799d62"/>
<use href="#d4" x="240.34" y="615.4"/>
<use href="#d5" x="240.34" y="615.4" fill="#fbdea6"/>
<use href="#d6" x="240.34" y="615.4" fill="#e7723a"/>
<use href="#d4" x="263.83" y="615.4"/>
<use href="#d5" x="263.83" y="615.4" fill="#799d62"/>
<use href="#d6" x="263.83" y="615.4" fill="#e7723a"/>
<use href="#d4" x="287.32" y="615.4"/>
<use href="#d5" x="287.32" y="615.4" fill="#e7723a"/>
<use href="#d6" x="287.32" y="615.4" fill="#e7723a"/>
<use href="#d8" x="310.81" y="615.4"/>
<use href="#d9" x="310.81" y="615.4" fill="#e7723a"/>
<use href="#d4" x="334.3" y="615.4"/>
<use href="#d5" x="334.3" y="615.4" fill="#e7723a"/>
<use href="#d6" x="334.3" y="615.4" fill="#e7723a"/>
<use href="#d4" x="357.79" y="615.4"/>
<use href="#d6" x="357.79" y="615.4" fill="#e7723a"/>
<use href="#d4" x="381.28" y="615.4"/>
<use href="#d5" x="381.28" y="615.4" fill="#fbdea6"/>
<use href="#d6" x="381.28" y="615.4" fill="#799d62"/>
<use href="#d4" x="404.77" y="615.4"/>
<use href="#d5" x="404.77" y="615.4" fill="#e9bac4"/>
<use href="#d6" x="404.77" y="615.4" fill="#e7723a"/>
<use href="#d4" x="428.26" y="615.4"/>
<use href="#d5" x="428.26" y="615.4" fill="#799d62"/>
<use href="#d3" x="80.3" y="634"/>
<use href="#d7" x="80.3" y="634" fill="#e7723a"/>
<use href="#d4" x="99.4" y="634"/>
<use href="#d5" x="99.4" y="634" fill="#e9bac4"/>
<use href="#d4" x="122.89" y="634"/>
<use href="#d5" x="122.89" y="634" fill="#799d62"/>
<use href="#d6" x="122.89" y="634" fill="#e9bac4"/>
<use href="#d4" x="146.38" y="634"/>
<use href="#d6" x="146.38" y="634" fill="#e7723a"/>
<use href="#d4" x="169.87" y="634"/>
<use href="#d5" x="169.87" y="634" fill="#fbdea6"/>
<use href="#d6" x="169.87" y="634" fill="#e7723a"/>
<use href="#d4" x="193.36" y="634"/>
<use href="#d5" x="193.36" y="634" fill="#e7723a"/>
<use href="#d6" x="193.36" y="634" fill="#e7723a"/>
<use href="#d8" x="216.85" y="634"/>
<use href="#d9" x="216.85" y="634" fill="#e7723a"/>
<use href="#d4" x="240.34" y="634"/>
<use href="#d5" x="240.34" y="634" fill="#e7723a"/>
<use href="#d6" x="240.34" y="634" fill="#799d62"/>
<use href="#d4" x="263.83" y="634"/>
<use href="#d5" x="263.83" y="634" fill="#fbdea6"/>
<use href="#d4" x="287.32" y="634"/>
<use href="#d5" x="287.32" y="634" fill="#799d62"/>
<use href="#d6" x="287.32" y="634" fill="#e7723a"/>
<use href="#d4" x="310.81" y="634"/>
<use href="#d5" x="310.81" y="634" fill="#fbdea6"/>
<use href="#d6" x="310.81" y="634" fill="#e7723a"/>
<use href="#d4" x="334.3" y="634"/>
<use href="#d5" x="334.3" y="634" fill="#e7723a"/>
<use href="#d6" x="334.3" y="634" fill="#e7723a"/>
<use href="#d8" x="357.79" y="634"/>
<use href="#d9" x="357.79" y="634" fill="#e7723a"/>
<use href="#d4" x="381.28" y="634"/>
<use href="#d5" x="381.28" y="634" fill="#e7723a"/>
<use href="#d6" x="381.28" y="634" fill="#fbdea6"/>
<use href="#d4" x="404.77" y="634"/>
<use href="#d5" x="404.77" y="634" fill="#e7723a"/>
<use href="#d6" x="404.77" y="634" fill="#799d62"/>
<use href="#d4" x="428.26" y="634"/>
<use href="#d6" x="428.26" y="634" fill="#e9bac4"/>
<use href="#d3" x="80.3" y="652.6"/>
<use href="#d7" x="80.3" y="652.6" fill="#799d62"/>
<use href="#d4" x="99.4" y="652.6"/>
<use href="#d5" x="99.4" y="652.6" fill="#e7723a"/>
<use href="#d6" x="99.4" y="652.6" fill="#799d62"/>
<use href="#d4" x="122.89" y="652.6"/>
<use href="#d5" x="122.89" y="652.6" fill="#e9bac4"/>
<use href="#d4" x="146.38" y="652.6"/>
<use href="#d5" x="146.38" y="652.6" fill="#e7723a"/>
<use href="#d6" x="146.38" y="652.6" fill="#e7723a"/>
<use href="#d8" x="169.87" y="652.6"/>
<use href="#d9" x="169.87" y="652.6" fill="#e7723a"/>
<use href="#d4" x="193.36" y="652.6"/>
<use href="#d5" x="193.36" y="652.6" fill="#e7723a"/>
<use href="#d6" x="193.36" y="652.6" fill="#e7723a"/>
<use href="#d4" x="216.85" y="652.6"/>
<use href="#d6" x="216.85" y="652.6" fill="#e7723a"/>
<use href="#d4" x="240.34" y="652.6"/>
<use href="#d5" x="240.34" y="652.6" fill="#e7723a"/>
<use href="#d6" x="240.34" y="652.6" fill="#e7723a"/>
<use href="#d8" x="263.83" y="652.6"/>
<use href="#d9" x="263.83" y="652.6" fill="#e7723a"/>
<use href="#d4" x="287.32" y="652.6"/>
<use href="#d5" x="287.32" y="652.6" fill="#e7723a"/>
<use href="#d6" x="287.32" y="652.6" fill="#799d62"/>
<use href="#d4" x="310.81" y="652.6"/>
<use href="#d5" x="310.81" y="652.6" fill="#e9bac4"/>
<use href="#d6" x="310.81" y="652.6" fill="#799d62"/>
<use href="#d4" x="334.3" y="652.6"/>
<use href="#d5" x="334.3" y="652.6" fill="#e9bac4"/>
<use href="#d6" x="334.3" y="652.6" fill="#e7723a"/>
<use href="#d4" x="357.79" y="652.6"/>
<use href="#d6" x="357.79" y="652.6" fill="#e7723a"/>
<use href="#d4" x="381.28" y="652.6"/>
<use href="#d5" x="381.28" y="652.6" fill="#fbdea6"/>
<use href="#d6" x="381.28" y="652.6" fill="#799d62"/>
<use href="#d4" x="404.77" y="652.6"/>
<use href="#d5" x="404.77" y="652.6" fill="#799d62"/>
<use href="#d6" x="404.77" y="652.6" fill="#e7723a"/>
<use href="#d4" x="428.26" y="652.6"/>
<use href="#d5" x="428.26" y="652.6" fill="#e9bac4"/>
<use href="#d3" x="80.3" y="671.2"/>
<use href="#d7" x="80.3" y="671.2" fill="#fbdea6"/>
<use href="#d4" x="99.4" y="671.2"/>
<use href="#d5" x="99.4" y="671.2" fill="#799d62"/>
<use href="#d6" x="99.4" y="671.2" fill="#fbdea6"/>
<use href="#d4" x="122.89" y="671.2"/>
<use href="#d5" x="122.89" y="671.2" fill="#e7723a"/>
<use href="#d6" x="122.89" y="671.2" fill="#799d62"/>
<use href="#d4" x="146.38" y="671.2"/>
<use href="#d5" x="146.38" y="671.2" fill="#e9bac4"/>
<use href="#d6" x="146.38" y="671.2" fill="#e9bac4"/>
<use href="#d4" x="169.87" y="671.2"/>
<use href="#d6" x="169.87" y="671.2" fill="#fbdea6"/>
<use href="#d4" x="334.3" y="671.2"/>
<use href="#d5" x="334.3" y="671.2" fill="#e7723a"/>
<use href="#d6" x="334.3" y="671.2" fill="#e9bac4"/>
<use href="#d4" x="357.79" y="671.2"/>
<use href="#d5" x="357.79" y="671.2" fill="#799d62"/>
<use href="#d6" x="357.79" y="671.2" fill="#e7723a"/>
<use href="#d4" x="381.28" y="671.2"/>
<use href="#d5" x="381.28" y="671.2" fill="#e9bac4"/>
<use href="#d6" x="381.28" y="671.2" fill="#799d62"/>
<use href="#d4" x="404.77" y="671.2"/>
<use href="#d5" x="404.77" y="671.2" fill="#e7723a"/>
<use href="#d4" x="428.26" y="671.2"/>
<use href="#d5" x="428.26" y="671.2" fill="#e9bac4"/>
<use href="#d6" x="428.26" y="671.2" fill="#799d62"/>
<use href="#d10" x="80.3" y="689.8"/>
<use href="#d7" x="80.3" y="689.8" fill="#e9bac4"/>
<use href="#d11" x="99.4" y="689.8"/>
<use href="#d12" x="99.4" y="689.8" fill="#799d62"/>
<use href="#d6" x="99.4" y="689.8" fill="#e9bac4"/>
<use href="#d11" x="122.89" y="689.8"/>
<use href="#d12" x="122.89" y="689.8" fill="#e7723a"/>
<use href="#d6" x="122.89" y="689.8" fill="#fbdea6"/>
<use href="#d11" x="146.38" y="689.8"/>
<use href="#d12" x="146.38" y="689.8" fill="#799d62"/>
<use href="#d6" x="146.38" y="689.8" fill="#799d62"/>
<use href="#d11" x="169.87" y="689.8"/>
<use href="#d12" x="169.87" y="689.8" fill="#799d62"/>
<use href="#d6" x="169.87" y="689.8" fill="#e7723a"/>
<use href="#d11" x="334.3" y="689.8"/>
<use href="#d12" x="334.3" y="689.8" fill="#e7723a"/>
<use href="#d6" x="334.3" y="689.8" fill="#fbdea6"/>
<use href="#d11" x="357.79" y="689.8"/>
<use href="#d12" x="357.79" y="689.8" fill="#e7723a"/>
<use href="#d6" x="357.79" y="689.8" fill="#e7723a"/>
<use href="#d11" x="381.28" y="689.8"/>
<use href="#d12" x="381.28" y="689.8" fill="#e7723a"/>
<use href="#d6" x="381.28" y="689.8" fill="#799d62"/>
<use href="#d11" x="404.77" y="689.8"/>
<use href="#d12" x="404.77" y="689.8" fill="#799d62"/>
<use href="#d6" x="404.77" y="689.8" fill="#fbdea6"/>
<use href="#d11" x="428.26" y="689.8"/>
<use href="#d12" x="428.26" y="689.8" fill="#e7723a"/>
<use href="#d6" x="428.26" y="689.8" fill="#799d62"/>
<use href="#d13" x="451.75" y="233.4"/>
<use href="#d14" x="451.75" y="233.4" fill="#9dcdcc"/>
<use href="#d13" x="475.24" y="233.4"/>
<use href="#d14" x="475.24" y="233.4" fill="#9dcdcc"/>
<use href="#d13" x="498.73" y="233.4"/>
<use href="#d14" x="498.73" y="233.4" fill="#9dcdcc"/>
<use href="#d13" x="522.22" y="233.4"/>
<use href="#d14" x="522.22" y="233.4" fill="#9dcdcc"/>
<use href="#d13" x="545.71" y="233.4"/>
<use href="#d14" x="545.71" y="233.4" fill="#9dcdcc"/>
<use href="#d13" x="569.2" y="233.4"/>
<use href="#d14" x="569.2" y="233.4" fill="#9dcdcc"/>
<use href="#d13" x="592.69" y="233.4"/>
<use href="#d14" x="592.69" y="233.4" fill="#9dcdcc"/>
<use href="#d13" x="616.18" y="233.4"/>
<use href="#d14" x="616.18" y="233.4" fill="#9dcdcc"/>
<use href="#d13" x="639.67" y="233.4"/>
<use href="#d14" x="639.67" y="233.4" fill="#9dcdcc"/>
<use href="#d13" x="663.16" y="233.4"/>
<use href="#d14" x="663.16" y="233.4" fill="#9dcdcc"/>
<use href="#d13" x="686.65" y="233.4"/>
<use href="#d14" x="686.65" y="233.4" fill="#9dcdcc"/>
<use href="#d13" x="710.14" y="233.4"/>
<use href="#d14" x="710.14" y="233.4" fill="#9dcdcc"/>
<use href="#d13" x="733.63" y="233.4"/>
<use href="#d14" x="733.63" y="233.4" fill="#9dcdcc"/>
<use href="#d13" x="757.12" y="233.4"/>
<use href="#d14" x="757.12" y="233.4" fill="#9dcdcc"/>
<use href="#d13" x="780.61" y="233.4"/>
<use href="#d14" x="780.61" y="233.4" fill="#9dcdcc"/>
<use href="#d15" x="804.1" y="233.4"/>
<use href="#d13" x="451.75" y="257"/>
<use href="#d14" x="451.75" y="257" fill="#9dcdcc"/>
<use href="#d13" x="475.24" y="257"/>
<use href="#d14" x="475.24" y="257" fill="#9dcdcc"/>
<use href="#d13" x="498.73" y="257"/>
<use href="#d14" x="498.73" y="257" fill="#9dcdcc"/>
<use href="#d13" x="522.22" y="257"/>
<use href="#d14" x="522.22" y="257" fill="#9dcdcc"/>
<use href="#d13" x="545.71" y="257"/>
<use href="#d14" x="545.71" y="257" fill="#9dcdcc"/>
<use href="#d13" x="569.2" y="257"/>
<use href="#d14" x="569.2" y="257" fill="#9dcdcc"/>
<use href="#d13" x="592.69" y="257"/>
<use href="#d14" x="592.69" y="257" fill="#9dcdcc"/>
<use href="#d13" x="616.18" y="257"/>
<use href="#d14" x="616.18" y="257" fill="#9dcdcc"/>
<use href="#d13" x="639.67" y="257"/>
<use href="#d14" x="639.67" y="257" fill="#9dcdcc"/>
<use href="#d13" x="663.16" y="257"/>
<use href="#d14" x="663.16" y="257" fill="#9dcdcc"/>
<use href="#d13" x="686.65" y="257"/>
<use href="#d14" x="686.65" y="257" fill="#9dcdcc"/>
<use href="#d13" x="710.14" y="257"/>
<use href="#d14" x="710.14" y="257" fill="#9dcdcc"/>
<use href="#d13" x="733.63" y="257"/>
<use href="#d14" x="733.63" y="257" fill="#9dcdcc"/>
<use href="#d13" x="757.12" y="257"/>
<use href="#d14" x="757.12" y="257" fill="#9dcdcc"/>
<use href="#d13" x="780.61" y="257"/>
<use href="#d14" x="780.61" y="257" fill="#9dcdcc"/>
<use href="#d15" x="804.1" y="257"/>
<use href="#d16" x="451.75" y="280.6"/>
<use href="#d16" x="475.24" y="280.6"/>
<use href="#d16" x="498.73" y="280.6"/>
<use href="#d16" x="522.22" y="280.6"/>
<use href="#d16" x="545.71" y="280.6"/>
<use href="#d16" x="569.2" y="280.6"/>
<use href="#d16" x="592.69" y="280.6"/>
<use href="#d16" x="616.18" y="280.6"/>
<use href="#d16" x="639.67" y="280.6"/>
<use href="#d16" x="663.16" y="280.6"/>
<use href="#d16" x="686.65" y="280.6"/>
<use href="#d16" x="710.14" y="280.6"/>
<use href="#d16" x="733.63" y="280.6"/>
<use href="#d16" x="757.12" y="280.6"/>
<use href="#d16" x="780.61" y="280.6"/>
<use href="#d17" x="804.1" y="280.6"/>
<use href="#d16" x="451.75" y="299.2"/>
<use href="#d16" x="475.24" y="299.2"/>
<use href="#d16" x="498.73" y="299.2"/>
<use href="#d16" x="522.22" y="299.2"/>
<use href="#d16" x="545.71" y="299.2"/>
<use href="#d16" x="569.2" y="299.2"/>
<use href="#d16" x="592.69" y="299.2"/>
<use href="#d16" x="616.18" y="299.2"/>
<use href="#d16" x="639.67" y="299.2"/>
<use href="#d16" x="663.16" y="299.2"/>
<use href="#d16" x="686.65" y="299.2"/>
<use href="#d16" x="710.14" y="299.2"/>
<use href="#d16" x="733.63" y="299.2"/>
<use href="#d16" x="757.12" y="299.2"/>
<use href="#d16" x="780.61" y="299.2"/>
<use href="#d17" x="804.1" y="299.2"/>
<use href="#d16" x="451.75" y="317.8"/>
<use href="#d16" x="475.24" y="317.8"/>
<use href="#d16" x="498.73" y="317.8"/>
<use href="#d16" x="522.22" y="317.8"/>
<use href="#d16" x="545.71" y="317.8"/>
<use href="#d16" x="569.2" y="317.8"/>
<use href="#d16" x="592.69" y="317.8"/>
<use href="#d16" x="616.18" y="317.8"/>
<use href="#d16" x="639.67" y="317.8"/>
<use href="#d16" x="663.16" y="317.8"/>
<use href="#d16" x="686.65" y="317.8"/>
<use href="#d16" x="710.14" y="317.8"/>
<use href="#d16" x="733.63" y="317.8"/>
<use href="#d16" x="757.12" y="317.8"/>
<use href="#d16" x="780.61" y="317.8"/>
<use href="#d17" x="804.1" y="317.8"/>
<use href="#d16" x="451.75" y="336.4"/>
<use href="#d16" x="475.24" y="336.4"/>
<use href="#d16" x="498.73" y="336.4"/>
<use href="#d16" x="522.22" y="336.4"/>
<use href="#d16" x="545.71" y="336.4"/>
<use href="#d16" x="569.2" y="336.4"/>
<use href="#d16" x="592.69" y="336.4"/>
<use href="#d16" x="616.18" y="336.4"/>
<use href="#d16" x="639.67" y="336.4"/>
<use href="#d16" x="663.16" y="336.4"/>
<use href="#d16" x="686.65" y="336.4"/>
<use href="#d16" x="710.14" y="336.4"/>
<use href="#d16" x="733.63" y="336.4"/>
<use href="#d16" x="757.12" y="336.4"/>
<use href="#d16" x="780.61" y="336.4"/>
<use href="#d17" x="804.1" y="336.4"/>
<use href="#d16" x="451.75" y="355"/>
<use href="#d16" x="475.24" y="355"/>
<use href="#d16" x="498.73" y="355"/>
<use href="#d16" x="522.22" y="355"/>
<use href="#d16" x="545.71" y="355"/>
<use href="#d16" x="569.2" y="355"/>
<use href="#d16" x="592.69" y="355"/>
<use href="#d16" x="616.18" y="355"/>
<use href="#d16" x="639.67" y="355"/>
<use href="#d16" x="663.16" y="355"/>
<use href="#d16" x="686.65" y="355"/>
<use href="#d16" x="710.14" y="355"/>
<use href="#d16" x="733.63" y="355"/>
<use href="#d16" x="757.12" y="355"/>
<use href="#d16" x="780.61" y="355"/>
<use href="#d17" x="804.1" y="355"/>
<use href="#d16" x="451.75" y="373.6"/>
<use href="#d16" x="475.24" y="373.6"/>
<use href="#d16" x="498.73" y="373.6"/>
<use href="#d16" x="522.22" y="373.6"/>
<use href="#d16" x="545.71" y="373.6"/>
<use href="#d16" x="569.2" y="373.6"/>
<use href="#d16" x="592.69" y="373.6"/>
<use href="#d16" x="616.18" y="373.6"/>
<use href="#d16" x="639.67" y="373.6"/>
<use href="#d16" x="663.16" y="373.6"/>
<use href="#d16" x="686.65" y="373.6"/>
<use href="#d16" x="710.14" y="373.6"/>
<use href="#d16" x="733.63" y="373.6"/>
<use href="#d16" x="757.12" y="373.6"/>
<use href="#d16" x="780.61" y="373.6"/>
<use href="#d17" x="804.1" y="373.6"/>
<use href="#d16" x="451.75" y="392.2"/>
<use href="#d16" x="475.24" y="392.2"/>
<use href="#d16" x="498.73" y="392.2"/>
<use href="#d16" x="522.22" y="392.2"/>
<use href="#d16" x="545.71" y="392.2"/>
<use href="#d16" x="569.2" y="392.2"/>
<use href="#d16" x="592.69" y="392.2"/>
<use href="#d16" x="616.18" y="392.2"/>
<use href="#d16" x="639.67" y="392.2"/>
<use href="#d16" x="663.16" y="392.2"/>
<use href="#d16" x="686.65" y="392.2"/>
<use href="#d16" x="710.14" y="392.2"/>
<use href="#d16" x="733.63" y="392.2"/>
<use href="#d16" x="757.12" y="392.2"/>
<use href="#d16" x="780.61" y="392.2"/>
<use href="#d17" x="804.1" y="392.2"/>
<use href="#d16" x="451.75" y="410.8"/>
<use href="#d16" x="475.24" y="410.8"/>
<use href="#d16" x="498.73" y="410.8"/>
<use href="#d16" x="522.22" y="410.8"/>
<use href="#d16" x="545.71" y="410.8"/>
<use href="#d16" x="569.2" y="410.8"/>
<use href="#d16" x="592.69" y="410.8"/>
<use href="#d16" x="616.18" y="410.8"/>
<use href="#d16" x="639.67" y="410.8"/>
<use href="#d16" x="663.16" y="410.8"/>
<use href="#d16" x="686.65" y="410.8"/>
<use href="#d16" x="710.14" y="410.8"/>
<use href="#d16" x="733.63" y="410.8"/>
<use href="#d16" x="757.12" y="410.8"/>
<use href="#d16" x="780.61" y="410.8"/>
<use href="#d17" x="804.1" y="410.8"/>
<use href="#d16" x="451.75" y="429.4"/>
<use href="#d16" x="475.24" y="429.4"/>
<use href="#d16" x="498.73" y="429.4"/>
<use href="#d16" x="522.22" y="429.4"/>
<use href="#d16" x="545.71" y="429.4"/>
<use href="#d16" x="569.2" y="429.4"/>
<use href="#d16" x="592.69" y="429.4"/>
<use href="#d16" x="616.18" y="429.4"/>
<use href="#d16" x="639.67" y="429.4"/>
<use href="#d16" x="663.16" y="429.4"/>
<use href="#d16" x="686.65" y="429.4"/>
<use href="#d16" x="710.14" y="429.4"/>
<use href="#d16" x="733.63" y="429.4"/>
<use href="#d16" x="757.12" y="429.4"/>
<use href="#d16" x="780.61" y="429.4"/>
<use href="#d17" x="804.1" y="429.4"/>
<use href="#d16" x="451.75" y="448"/>
<use href="#d16" x="475.24" y="448"/>
<use href="#d16" x="498.73" y="448"/>
<use href="#d16" x="522.22" y="448"/>
<use href="#d16" x="545.71" y="448"/>
<use href="#d16" x="569.2" y="448"/>
<use href="#d16" x="592.69" y="448"/>
<use href="#d16" x="616.18" y="448"/>
<use href="#d16" x="639.67" y="448"/>
<use href="#d16" x="663.16" y="448"/>
<use href="#d16" x="686.65" y="448"/>
<use href="#d16" x="710.14" y="448"/>
<use href="#d16" x="733.63" y="448"/>
<use href="#d16" x="757.12" y="448"/>
<use href="#d16" x="780.61" y="448"/>
<use href="#d17" x="804.1" y="448"/>
<use href="#d16" x="451.75" y="466.6"/>
<use href="#d16" x="475.24" y="466.6"/>
<use href="#d16" x="498.73" y="466.6"/>
<use href="#d16" x="522.22" y="466.6"/>
<use href="#d16" x="545.71" y="466.6"/>
<use href="#d16" x="569.2" y="466.6"/>
<use href="#d16" x="592.69" y="466.6"/>
<use href="#d18" x="592.69" y="466.6" fill="#e7723a"/>
<use href="#d16" x="616.18" y="466.6"/>
<use href="#d16" x="639.67" y="466.6"/>
<use href="#d16" x="663.16" y="466.6"/>
<use href="#d18" x="663.16" y="466.6" fill="#799d62"/>
<use href="#d16" x="686.65" y="466.6"/>
<use href="#d16" x="710.14" y="466.6"/>
<use href="#d16" x="733.63" y="466.6"/>
<use href="#d16" x="757.12" y="466.6"/>
<use href="#d16" x="780.61" y="466.6"/>
<use href="#d17" x="804.1" y="466.6"/>
<use href="#d16" x="451.75" y="485.2"/>
<use href="#d16" x="475.24" y="485.2"/>
<use href="#d16" x="498.73" y="485.2"/>
<use href="#d16" x="522.22" y="485.2"/>
<use href="#d16" x="545.71" y="485.2"/>
<use href="#d16" x="569.2" y="485.2"/>
<use href="#d16" x="592.69" y="485.2"/>
<use href="#d19" x="592.69" y="485.2" fill="#799d62"/>
<use href="#d16" x="616.18" y="485.2"/>
<use href="#d18" x="616.18" y="485.2" fill="#e7723a"/>
<use href="#d16" x="639.67" y="485.2"/>
<use href="#d18" x="639.67" y="485.2" fill="#e9bac4"/>
<use href="#d16" x="663.16" y="485.2"/>
<use href="#d18" x="663.16" y="485.2" fill="#e9bac4"/>
<use href="#d16" x="686.65" y="485.2"/>
<use href="#d16" x="710.14" y="485.2"/>
<use href="#d16" x="733.63" y="485.2"/>
<use href="#d16" x="757.12" y="485.2"/>
<use href="#d16" x="780.61" y="485.2"/>
<use href="#d17" x="804.1" y="485.2"/>
<use href="#d16" x="451.75" y="503.8"/>
<use href="#d16" x="475.24" y="503.8"/>
<use href="#d16" x="498.73" y="503.8"/>
<use href="#d16" x="522.22" y="503.8"/>
<use href="#d19" x="522.22" y="503.8" fill="#e9bac4"/>
<use href="#d16" x="545.71" y="503.8"/>
<use href="#d16" x="569.2" y="503.8"/>
<use href="#d18" x="569.2" y="503.8" fill="#e7723a"/>
<use href="#d16" x="592.69" y="503.8"/>
<use href="#d16" x="616.18" y="503.8"/>
<use href="#d18" x="616.18" y="503.8" fill="#e9bac4"/>
<use href="#d19" x="616.18" y="503.8" fill="#799d62"/>
<use href="#d16" x="639.67" y="503.8"/>
<use href="#d16" x="663.16" y="503.8"/>
<use href="#d19" x="663.16" y="503.8" fill="#e7723a"/>
<use href="#d16" x="686.65" y="503.8"/>
<use href="#d19" x="686.65" y="503.8" fill="#e9bac4"/>
<use href="#d16" x="710.14" y="503.8"/>
<use href="#d18" x="710.14" y="503.8" fill="#e9bac4"/>
<use href="#d16" x="733.63" y="503.8"/>
<use href="#d18" x="733.63" y="503.8" fill="#e9bac4"/>
<use href="#d16" x="757.12" y="503.8"/>
<use href="#d18" x="757.12" y="503.8" fill="#e9bac4"/>
<use href="#d19" x="757.12" y="503.8" fill="#e9bac4"/>
<use href="#d16" x="780.61" y="503.8"/>
<use href="#d17" x="804.1" y="503.8"/>
<use href="#d16" x="451.75" y="522.4"/>
<use href="#d16" x="475.24" y="522.4"/>
<use href="#d19" x="475.24" y="522.4" fill="#e9bac4"/>
<use href="#d16" x="498.73" y="522.4"/>
<use href="#d16" x="522.22" y="522.4"/>
<use href="#d18" x="522.22" y="522.4" fill="#e9bac4"/>
<use href="#d19" x="522.22" y="522.4" fill="#e7723a"/>
<use href="#d16" x="545.71" y="522.4"/>
<use href="#d18" x="545.71" y="522.4" fill="#e9bac4"/>
<use href="#d19" x="545.71" y="522.4" fill="#e9bac4"/>
<use href="#d16" x="569.2" y="522.4"/>
<use href="#d16" x="592.69" y="522.4"/>
<use href="#d18" x="592.69" y="522.4" fill="#fbdea6"/>
<use href="#d19" x="592.69" y="522.4" fill="#e7723a"/>
<use href="#d16" x="616.18" y="522.4"/>
<use href="#d19" x="616.18" y="522.4" fill="#799d62"/>
<use href="#d16" x="639.67" y="522.4"/>
<use href="#d18" x="639.67" y="522.4" fill="#e9bac4"/>
<use href="#d19" x="639.67" y="522.4" fill="#e7723a"/>
<use href="#d16" x="663.16" y="522.4"/>
<use href="#d18" x="663.16" y="522.4" fill="#e9bac4"/>
<use href="#d19" x="663.16" y="522.4" fill="#e9bac4"/>
<use href="#d16" x="686.65" y="522.4"/>
<use href="#d19" x="686.65" y="522.4" fill="#799d62"/>
<use href="#d16" x="710.14" y="522.4"/>
<use href="#d18" x="710.14" y="522.4" fill="#799d62"/>
<use href="#d16" x="733.63" y="522.4"/>
<use href="#d16" x="757.12" y="522.4"/>
<use href="#d19" x="757.12" y="522.4" fill="#e9bac4"/>
<use href="#d16" x="780.61" y="522.4"/>
<use href="#d18" x="780.61" y="522.4" fill="#e7723a"/>
<use href="#d19" x="780.61" y="522.4" fill="#e9bac4"/>
<use href="#d17" x="804.1" y="522.4"/>
<use href="#d16" x="451.75" y="541"/>
<use href="#d18" x="451.75" y="541" fill="#799d62"/>
<use href="#d19" x="451.75" y="541" fill="#799d62"/>
<use href="#d16" x="475.24" y="541"/>
<use href="#d18" x="475.24" y="541" fill="#e9bac4"/>
<use href="#d16" x="498.73" y="541"/>
<use href="#d18" x="498.73" y="541" fill="#e9bac4"/>
<use href="#d19" x="498.73" y="541" fill="#e9bac4"/>
<use href="#d16" x="522.22" y="541"/>
<use href="#d18" x="522.22" y="541" fill="#e7723a"/>
<use href="#d19" x="522.22" y="541" fill="#799d62"/>
<use href="#d16" x="545.71" y="541"/>
<use href="#d19" x="545.71" y="541" fill="#e9bac4"/>
<use href="#d16" x="569.2" y="541"/>
<use href="#d18" x="569.2" y="541" fill="#e9bac4"/>
<use href="#d16" x="592.69" y="541"/>
<use href="#d18" x="592.69" y="541" fill="#e9bac4"/>
<use href="#d19" x="592.69" y="541" fill="#e9bac4"/>
<use href="#d16" x="616.18" y="541"/>
<use href="#d16" x="639.67" y="541"/>
<use href="#d18" x="639.67" y="541" fill="#fbdea6"/>
<use href="#d16" x="663.16" y="541"/>
<use href="#d18" x="663.16" y="541" fill="#799d62"/>
<use href="#d19" x="663.16" y="541" fill="#e9bac4"/>
<use href="#d16" x="686.65" y="541"/>
<use href="#d18" x="686.65" y="541" fill="#e9bac4"/>
<use href="#d16" x="710.14" y="541"/>
<use href="#d18" x="710.14" y="541" fill="#e9bac4"/>
<use href="#d19" x="710.14" y="541" fill="#e9bac4"/>
<use href="#d16" x="733.63" y="541"/>
<use href="#d18" x="733.63" y="541" fill="#e9bac4"/>
<use href="#d19" x="733.63" y="541" fill="#e7723a"/>
<use href="#d16" x="757.12" y="541"/>
<use href="#d18" x="757.12" y="541" fill="#e9bac4"/>
<use href="#d19" x="757.12" y="541" fill="#e9bac4"/>
<use href="#d16" x="780.61" y="541"/>
<use href="#d18" x="780.61" y="541" fill="#799d62"/>
<use href="#d17" x="804.1" y="541"/>
<use href="#d16" x="451.75" y="559.6"/>
<use href="#d19" x="451.75" y="559.6" fill="#e9bac4"/>
<use href="#d16" x="475.24" y="559.6"/>
<use href="#d19" x="475.24" y="559.6" fill="#e7723a"/>
<use href="#d16" x="498.73" y="559.6"/>
<use href="#d18" x="498.73" y="559.6" fill="#e9bac4"/>
<use href="#d19" x="498.73" y="559.6" fill="#e9bac4"/>
<use href="#d16" x="522.22" y="559.6"/>
<use href="#d18" x="522.22" y="559.6" fill="#e9bac4"/>
<use href="#d19" x="522.22" y="559.6" fill="#e9bac4"/>
<use href="#d16" x="545.71" y="559.6"/>
<use href="#d19" x="545.71" y="559.6" fill="#e7723a"/>
<use href="#d16" x="569.2" y="559.6"/>
<use href="#d18" x="569.2" y="559.6" fill="#799d62"/>
<use href="#d16" x="592.69" y="559.6"/>
<use href="#d19" x="592.69" y="559.6" fill="#e9bac4"/>
<use href="#d16" x="616.18" y="559.6"/>
<use href="#d18" x="616.18" y="559.6" fill="#e9bac4"/>
<use href="#d19" x="616.18" y="559.6" fill="#799d62"/>
<use href="#d16" x="639.67" y="559.6"/>
<use href="#d18" x="639.67" y="559.6" fill="#e9bac4"/>
<use href="#d19" x="639.67" y="559.6" fill="#e9bac4"/>
<use href="#d16" x="663.16" y="559.6"/>
<use href="#d18" x="663.16" y="559.6" fill="#e7723a"/>
<use href="#d16" x="686.65" y="559.6"/>
<use href="#d19" x="686.65" y="559.6" fill="#fbdea6"/>
<use href="#d16" x="710.14" y="559.6"/>
<use href="#d19" x="710.14" y="559.6" fill="#e9bac4"/>
<use href="#d16" x="733.63" y="559.6"/>
<use href="#d18" x="733.63" y="559.6" fill="#e9bac4"/>
<use href="#d19" x="733.63" y="559.6" fill="#799d62"/>
<use href="#d16" x="757.12" y="559.6"/>
<use href="#d19" x="757.12" y="559.6" fill="#e9bac4"/>
<use href="#d16" x="780.61" y="559.6"/>
<use href="#d18" x="780.61" y="559.6" fill="#e7723a"/>
<use href="#d19" x="780.61" y="559.6" fill="#e9bac4"/>
<use href="#d17" x="804.1" y="559.6"/>
<use href="#d20" x="804.1" y="559.6" fill="#e9bac4"/>
<use href="#d16" x="451.75" y="578.2"/>
<use href="#d19" x="451.75" y="578.2" fill="#e7723a"/>
<use href="#d16" x="475.24" y="578.2"/>
<use href="#d19" x="475.24" y="578.2" fill="#799d62"/>
<use href="#d16" x="498.73" y="578.2"/>
<use href="#d19" x="498.73" y="578.2" fill="#fbdea6"/>
<use href="#d16" x="522.22" y="578.2"/>
<use href="#d18" x="522.22" y="578.2" fill="#799d62"/>
<use href="#d19" x="522.22" y="578.2" fill="#e9bac4"/>
<use href="#d16" x="545.71" y="578.2"/>
<use href="#d18" x="545.71" y="578.2" fill="#e9bac4"/>
<use href="#d19" x="545.71" y="578.2" fill="#fbdea6"/>
<use href="#d16" x="569.2" y="578.2"/>
<use href="#d18" x="569.2" y="578.2" fill="#e9bac4"/>
<use href="#d19" x="569.2" y="578.2" fill="#e9bac4"/>
<use href="#d16" x="592.69" y="578.2"/>
<use href="#d18" x="592.69" y="578.2" fill="#e7723a"/>
<use href="#d19" x="592.69" y="578.2" fill="#fbdea6"/>
<use href="#d16" x="616.18" y="578.2"/>
<use href="#d18" x="616.18" y="578.2" fill="#e9bac4"/>
<use href="#d19" x="616.18" y="578.2" fill="#799d62"/>
<use href="#d16" x="639.67" y="578.2"/>
<use href="#d19" x="639.67" y="578.2" fill="#e9bac4"/>
<use href="#d16" x="663.16" y="578.2"/>
<use href="#d18" x="663.16" y="578.2" fill="#e9bac4"/>
<use href="#d16" x="686.65" y="578.2"/>
<use href="#d18" x="686.65" y="578.2" fill="#e9bac4"/>
<use href="#d19" x="686.65" y="578.2" fill="#e9bac4"/>
<use href="#d16" x="710.14" y="578.2"/>
<use href="#d18" x="710.14" y="578.2" fill="#e9bac4"/>
<use href="#d19" x="710.14" y="578.2" fill="#fbdea6"/>
<use href="#d16" x="733.63" y="578.2"/>
<use href="#d18" x="733.63" y="578.2" fill="#e9bac4"/>
<use href="#d16" x="757.12" y="578.2"/>
<use href="#d18" x="757.12" y="578.2" fill="#e9bac4"/>
<use href="#d19" x="757.12" y="578.2" fill="#e7723a"/>
<use href="#d16" x="780.61" y="578.2"/>
<use href="#d18" x="780.61" y="578.2" fill="#e7723a"/>
<use href="#d19" x="780.61" y="578.2" fill="#799d62"/>
<use href="#d17" x="804.1" y="578.2"/>
<use href="#d20" x="804.1" y="578.2" fill="#e9bac4"/>
<use href="#d16" x="451.75" y="596.8"/>
<use href="#d19" x="451.75" y="596.8" fill="#799d62"/>
<use href="#d16" x="475.24" y="596.8"/>
<use href="#d18" x="475.24" y="596.8" fill="#e7723a"/>
<use href="#d19" x="475.24" y="596.8" fill="#e9bac4"/>
<use href="#d16" x="498.73" y="596.8"/>
<use href="#d18" x="498.73" y="596.8" fill="#e7723a"/>
<use href="#d19" x="498.73" y="596.8" fill="#e7723a"/>
<use href="#d16" x="522.22" y="596.8"/>
<use href="#d19" x="522.22" y="596.8" fill="#fbdea6"/>
<use href="#d16" x="545.71" y="596.8"/>
<use href="#d18" x="545.71" y="596.8" fill="#fbdea6"/>
<use href="#d19" x="545.71" y="596.8" fill="#e7723a"/>
<use href="#d16" x="569.2" y="596.8"/>
<use href="#d18" x="569.2" y="596.8" fill="#e7723a"/>
<use href="#d19" x="569.2" y="596.8" fill="#e9bac4"/>
<use href="#d16" x="592.69" y="596.8"/>
<use href="#d18" x="592.69" y="596.8" fill="#e7723a"/>
<use href="#d21" x="616.18" y="596.8"/>
<use href="#d22" x="616.18" y="596.8" fill="#e7723a"/>
<use href="#d16" x="639.67" y="596.8"/>
<use href="#d18" x="639.67" y="596.8" fill="#e7723a"/>
<use href="#d19" x="639.67" y="596.8" fill="#e7723a"/>
<use href="#d16" x="663.16" y="596.8"/>
<use href="#d18" x="663.16" y="596.8" fill="#fbdea6"/>
<use href="#d19" x="663.16" y="596.8" fill="#799d62"/>
<use href="#d16" x="686.65" y="596.8"/>
<use href="#d18" x="686.65" y="596.8" fill="#e7723a"/>
<use href="#d19" x="686.65" y="596.8" fill="#e9bac4"/>
<use href="#d21" x="710.14" y="596.8"/>
<use href="#d22" x="710.14" y="596.8" fill="#e7723a"/>
<use href="#d16" x="733.63" y="596.8"/>
<use href="#d18" x="733.63" y="596.8" fill="#e7723a"/>
<use href="#d19" x="733.63" y="596.8" fill="#e7723a"/>
<use href="#d16" x="757.12" y="596.8"/>
<use href="#d18" x="757.12" y="596.8" fill="#e7723a"/>
<use href="#d19" x="757.12" y="596.8" fill="#799d62"/>
<use href="#d16" x="780.61" y="596.8"/>
<use href="#d18" x="780.61" y="596.8" fill="#799d62"/>
<use href="#d19" x="780.61" y="596.8" fill="#e9bac4"/>
<use href="#d17" x="804.1" y="596.8"/>
<use href="#d20" x="804.1" y="596.8" fill="#e9bac4"/>
<use href="#d16" x="451.75" y="615.4"/>
<use href="#d18" x="451.75" y="615.4" fill="#e7723a"/>
<use href="#d16" x="475.24" y="615.4"/>
<use href="#d18" x="475.24" y="615.4" fill="#799d62"/>
<use href="#d19" x="475.24" y="615.4" fill="#e9bac4"/>
<use href="#d16" x="498.73" y="615.4"/>
<use href="#d18" x="498.73" y="615.4" fill="#e7723a"/>
<use href="#d19" x="498.73" y="615.4" fill="#e7723a"/>
<use href="#d21" x="522.22" y="615.4"/>
<use href="#d22" x="522.22" y="615.4" fill="#e7723a"/>
<use href="#d16" x="545.71" y="615.4"/>
<use href="#d18" x="545.71" y="615.4" fill="#e7723a"/>
<use href="#d19" x="545.71" y="615.4" fill="#e7723a"/>
<use href="#d16" x="569.2" y="615.4"/>
<use href="#d19" x="569.2" y="615.4" fill="#799d62"/>
<use href="#d16" x="592.69" y="615.4"/>
<use href="#d18" x="592.69" y="615.4" fill="#e9bac4"/>
<use href="#d19" x="592.69" y="615.4" fill="#799d62"/>
<use href="#d16" x="616.18" y="615.4"/>
<use href="#d18" x="616.18" y="615.4" fill="#e9bac4"/>
<use href="#d19" x="616.18" y="615.4" fill="#e7723a"/>
<use href="#d16" x="639.67" y="615.4"/>
<use href="#d18" x="639.67" y="615.4" fill="#e7723a"/>
<use href="#d19" x="639.67" y="615.4" fill="#e7723a"/>
<use href="#d21" x="663.16" y="615.4"/>
<use href="#d22" x="663.16" y="615.4" fill="#e7723a"/>
<use href="#d16" x="686.65" y="615.4"/>
<use href="#d18" x="686.65" y="615.4" fill="#e7723a"/>
<use href="#d19" x="686.65" y="615.4" fill="#e7723a"/>
<use href="#d16" x="710.14" y="615.4"/>
<use href="#d18" x="710.14" y="615.4" fill="#fbdea6"/>
<use href="#d19" x="710.14" y="615.4" fill="#e7723a"/>
<use href="#d16" x="733.63" y="615.4"/>
<use href="#d19" x="733.63" y="615.4" fill="#e7723a"/>
<use href="#d16" x="757.12" y="615.4"/>
<use href="#d18" x="757.12" y="615.4" fill="#fbdea6"/>
<use href="#d19" x="757.12" y="615.4" fill="#799d62"/>
<use href="#d16" x="780.61" y="615.4"/>
<use href="#d18" x="780.61" y="615.4" fill="#e7723a"/>
<use href="#d19" x="780.61" y="615.4" fill="#e9bac4"/>
<use href="#d17" x="804.1" y="615.4"/>
<use href="#d20" x="804.1" y="615.4" fill="#e9bac4"/>
<use href="#d16" x="451.75" y="634"/>
<use href="#d19" x="451.75" y="634" fill="#e9bac4"/>
<use href="#d16" x="475.24" y="634"/>
<use href="#d18" x="475.24" y="634" fill="#e7723a"/>
<use href="#d16" x="498.73" y="634"/>
<use href="#d18" x="498.73" y="634" fill="#e7723a"/>
<use href="#d19" x="498.73" y="634" fill="#e7723a"/>
<use href="#d16" x="522.22" y="634"/>
<use href="#d19" x="522.22" y="634" fill="#e7723a"/>
<use href="#d16" x="545.71" y="634"/>
<use href="#d18" x="545.71" y="634" fill="#e7723a"/>
<use href="#d19" x="545.71" y="634" fill="#e7723a"/>
<use href="#d21" x="569.2" y="634"/>
<use href="#d22" x="569.2" y="634" fill="#e7723a"/>
<use href="#d16" x="592.69" y="634"/>
<use href="#d18" x="592.69" y="634" fill="#e7723a"/>
<use href="#d19" x="592.69" y="634" fill="#e7723a"/>
<use href="#d16" x="616.18" y="634"/>
<use href="#d18" x="616.18" y="634" fill="#fbdea6"/>
<use href="#d16" x="639.67" y="634"/>
<use href="#d18" x="639.67" y="634" fill="#fbdea6"/>
<use href="#d19" x="639.67" y="634" fill="#e9bac4"/>
<use href="#d16" x="663.16" y="634"/>
<use href="#d18" x="663.16" y="634" fill="#e9bac4"/>
<use href="#d19" x="663.16" y="634" fill="#e7723a"/>
<use href="#d16" x="686.65" y="634"/>
<use href="#d18" x="686.65" y="634" fill="#e7723a"/>
<use href="#d19" x="686.65" y="634" fill="#e7723a"/>
<use href="#d21" x="710.14" y="634"/>
<use href="#d22" x="710.14" y="634" fill="#e7723a"/>
<use href="#d16" x="733.63" y="634"/>
<use href="#d18" x="733.63" y="634" fill="#e7723a"/>
<use href="#d19" x="733.63" y="634" fill="#e7723a"/>
<use href="#d16" x="757.12" y="634"/>
<use href="#d19" x="757.12" y="634" fill="#e9bac4"/>
<use href="#d16" x="780.61" y="634"/>
<use href="#d18" x="780.61" y="634" fill="#799d62"/>
<use href="#d19" x="780.61" y="634" fill="#e7723a"/>
<use href="#d17" x="804.1" y="634"/>
<use href="#d20" x="804.1" y="634" fill="#e7723a"/>
<use href="#d16" x="451.75" y="652.6"/>
<use href="#d16" x="475.24" y="652.6"/>
<use href="#d18" x="475.24" y="652.6" fill="#799d62"/>
<use href="#d19" x="475.24" y="652.6" fill="#e9bac4"/>
<use href="#d16" x="498.73" y="652.6"/>
<use href="#d18" x="498.73" y="652.6" fill="#e7723a"/>
<use href="#d19" x="498.73" y="652.6" fill="#e7723a"/>
<use href="#d21" x="522.22" y="652.6"/>
<use href="#d22" x="522.22" y="652.6" fill="#e7723a"/>
<use href="#d16" x="545.71" y="652.6"/>
<use href="#d18" x="545.71" y="652.6" fill="#e7723a"/>
<use href="#d19" x="545.71" y="652.6" fill="#e7723a"/>
<use href="#d16" x="569.2" y="652.6"/>
<use href="#d18" x="569.2" y="652.6" fill="#e9bac4"/>
<use href="#d19" x="569.2" y="652.6" fill="#e7723a"/>
<use href="#d16" x="592.69" y="652.6"/>
<use href="#d18" x="592.69" y="652.6" fill="#e7723a"/>
<use href="#d19" x="592.69" y="652.6" fill="#e7723a"/>
<use href="#d21" x="616.18" y="652.6"/>
<use href="#d22" x="616.18" y="652.6" fill="#e7723a"/>
<use href="#d16" x="639.67" y="652.6"/>
<use href="#d18" x="639.67" y="652.6" fill="#e7723a"/>
<use href="#d19" x="639.67" y="652.6" fill="#e7723a"/>
<use href="#d16" x="663.16" y="652.6"/>
<use href="#d18" x="663.16" y="652.6" fill="#799d62"/>
<use href="#d16" x="686.65" y="652.6"/>
<use href="#d18" x="686.65" y="652.6" fill="#799d62"/>
<use href="#d19" x="686.65" y="652.6" fill="#fbdea6"/>
<use href="#d16" x="710.14" y="652.6"/>
<use href="#d19" x="710.14" y="652.6" fill="#e7723a"/>
<use href="#d16" x="733.63" y="652.6"/>
<use href="#d18" x="733.63" y="652.6" fill="#e7723a"/>
<use href="#d19" x="733.63" y="652.6" fill="#e7723a"/>
<use href="#d16" x="757.12" y="652.6"/>
<use href="#d18" x="757.12" y="652.6" fill="#e7723a"/>
<use href="#d19" x="757.12" y="652.6" fill="#e7723a"/>
<use href="#d16" x="780.61" y="652.6"/>
<use href="#d18" x="780.61" y="652.6" fill="#e7723a"/>
<use href="#d19" x="780.61" y="652.6" fill="#799d62"/>
<use href="#d17" x="804.1" y="652.6"/>
<use href="#d20" x="804.1" y="652.6" fill="#799d62"/>
<use href="#d16" x="451.75" y="671.2"/>
<use href="#d18" x="451.75" y="671.2" fill="#e9bac4"/>
<use href="#d19" x="451.75" y="671.2" fill="#799d62"/>
<use href="#d16" x="475.24" y="671.2"/>
<use href="#d18" x="475.24" y="671.2" fill="#e7723a"/>
<use href="#d16" x="498.73" y="671.2"/>
<use href="#d18" x="498.73" y="671.2" fill="#e9bac4"/>
<use href="#d19" x="498.73" y="671.2" fill="#799d62"/>
<use href="#d16" x="522.22" y="671.2"/>
<use href="#d19" x="522.22" y="671.2" fill="#e7723a"/>
<use href="#d16" x="545.71" y="671.2"/>
<use href="#d18" x="545.71" y="671.2" fill="#e9bac4"/>
<use href="#d19" x="545.71" y="671.2" fill="#e7723a"/>
<use href="#d16" x="569.2" y="671.2"/>
<use href="#d18" x="569.2" y="671.2" fill="#fbdea6"/>
<use href="#d19" x="569.2" y="671.2" fill="#799d62"/>
<use href="#d16" x="592.69" y="671.2"/>
<use href="#d19" x="592.69" y="671.2" fill="#799d62"/>
<use href="#d16" x="616.18" y="671.2"/>
<use href="#d18" x="616.18" y="671.2" fill="#fbdea6"/>
<use href="#d19" x="616.18" y="671.2" fill="#e7723a"/>
<use href="#d16" x="639.67" y="671.2"/>
<use href="#d18" x="639.67" y="671.2" fill="#799d62"/>
<use href="#d19" x="639.67" y="671.2" fill="#e7723a"/>
<use href="#d16" x="663.16" y="671.2"/>
<use href="#d18" x="663.16" y="671.2" fill="#e7723a"/>
<use href="#d19" x="663.16" y="671.2" fill="#fbdea6"/>
<use href="#d16" x="686.65" y="671.2"/>
<use href="#d18" x="686.65" y="671.2" fill="#799d62"/>
<use href="#d19" x="686.65" y="671.2" fill="#e9bac4"/>
<use href="#d16" x="710.14" y="671.2"/>
<use href="#d18" x="710.14" y="671.2" fill="#799d62"/>
<use href="#d19" x="710.14" y="671.2" fill="#e7723a"/>
<use href="#d16" x="733.63" y="671.2"/>
<use href="#d19" x="733.63" y="671.2" fill="#e9bac4"/>
<use href="#d16" x="757.12" y="671.2"/>
<use href="#d18" x="757.12" y="671.2" fill="#799d62"/>
<use href="#d19" x="757.12" y="671.2" fill="#e7723a"/>
<use href="#d16" x="780.61" y="671.2"/>
<use href="#d18" x="780.61" y="671.2" fill="#799d62"/>
<use href="#d19" x="780.61" y="671.2" fill="#fbdea6"/>
<use href="#d17" x="804.1" y="671.2"/>
<use href="#d20" x="804.1" y="671.2" fill="#fbdea6"/>
<use href="#d23" x="451.75" y="689.8"/>
<use href="#d19" x="451.75" y="689.8" fill="#799d62"/>
<use href="#d23" x="475.24" y="689.8"/>
<use href="#d24" x="475.24" y="689.8" fill="#799d62"/>
<use href="#d19" x="475.24" y="689.8" fill="#fbdea6"/>
<use href="#d23" x="498.73" y="689.8"/>
<use href="#d19" x="498.73" y="689.8" fill="#799d62"/>
<use href="#d23" x="522.22" y="689.8"/>
<use href="#d24" x="522.22" y="689.8" fill="#e9bac4"/>
<use href="#d19" x="522.22" y="689.8" fill="#e7723a"/>
<use href="#d23" x="545.71" y="689.8"/>
<use href="#d19" x="545.71" y="689.8" fill="#799d62"/>
<use href="#d23" x="569.2" y="689.8"/>
<use href="#d24" x="569.2" y="689.8" fill="#e9bac4"/>
<use href="#d19" x="569.2" y="689.8" fill="#799d62"/>
<use href="#d23" x="592.69" y="689.8"/>
<use href="#d24" x="592.69" y="689.8" fill="#e7723a"/>
<use href="#d19" x="592.69" y="689.8" fill="#799d62"/>
<use href="#d23" x="616.18" y="689.8"/>
<use href="#d24" x="616.18" y="689.8" fill="#e9bac4"/>
<use href="#d19" x="616.18" y="689.8" fill="#799d62"/>
<use href="#d23" x="639.67" y="689.8"/>
<use href="#d24" x="639.67" y="689.8" fill="#799d62"/>
<use href="#d23" x="663.16" y="689.8"/>
<use href="#d24" x="663.16" y="689.8" fill="#fbdea6"/>
<use href="#d19" x="663.16" y="689.8" fill="#799d62"/>
<use href="#d23" x="686.65" y="689.8"/>
<use href="#d24" x="686.65" y="689.8" fill="#fbdea6"/>
<use href="#d19" x="686.65" y="689.8" fill="#e7723a"/>
<use href="#d23" x="710.14" y="689.8"/>
<use href="#d24" x="710.14" y="689.8" fill="#e7723a"/>
<use href="#d19" x="710.14" y="689.8" fill="#799d62"/>
<use href="#d25" x="733.63" y="689.8"/>
<use href="#d22" x="733.63" y="689.8" fill="#fbdea6"/>
<use href="#d23" x="757.12" y="689.8"/>
<use href="#d19" x="757.12" y="689.8" fill="#fbdea6"/>
<use href="#d23" x="780.61" y="689.8"/>
<use href="#d24" x="780.61" y="689.8" fill="#799d62"/>
<use href="#d19" x="780.61" y="689.8" fill="#e9bac4"/>
<use href="#d26" x="804.1" y="689.8"/>
<use href="#d20" x="804.1" y="689.8" fill="#e9bac4"/>
<path d="M250.79 611.6L282.82 611.6" stroke="#666" stroke-width="1.1"/>
<path d="M344.75 611.6L376.78 611.6" stroke="#666" stroke-width="1.1"/>
<path d="M156.83 630.2L188.86 630.2" stroke="#666" stroke-width="1.1"/>
<path d="M297.77 630.2L329.8 630.2" stroke="#666" stroke-width="1.1"/>
<path d="M203.81 648.8L235.84 648.8" stroke="#666" stroke-width="1.1"/>
<path d="M344.75 648.8L376.78 648.8" stroke="#666" stroke-width="1.1"/>
<path d="M156.83 667.4L188.86 667.4" stroke="#666" stroke-width="1.1"/>
<path d="M250.79 667.4L282.82 667.4" stroke="#666" stroke-width="1.1"/>
<path d="M620.68 611.6L652.71 611.6" stroke="#666" stroke-width="1.1"/>
<path d="M714.64 611.6L746.67 611.6" stroke="#666" stroke-width="1.1"/>
<path d="M526.72 630.2L558.75 630.2" stroke="#666" stroke-width="1.1"/>
<path d="M667.66 630.2L699.69 630.2" stroke="#666" stroke-width="1.1"/>
<path d="M573.7 648.8L605.73 648.8" stroke="#666" stroke-width="1.1"/>
<path d="M714.64 648.8L746.67 648.8" stroke="#666" stroke-width="1.1"/>
<path d="M526.72 667.4L558.75 667.4" stroke="#666" stroke-width="1.1"/>
<path d="M620.68 667.4L652.71 667.4" stroke="#666" stroke-width="1.1"/>
<rect x="109.75" y="661.45" width="12.74" height="9.55" fill="#e6e6e6"/>
<rect x="109.75" y="642.85" width="12.74" height="9.55" fill="#e6e6e6"/>
<rect x="109.75" y="624.25" width="12.74" height="9.55" fill="#e6e6e6"/>
<rect x="109.75" y="605.65" width="12.74" height="9.55" fill="#e6e6e6"/>
<rect x="109.75" y="587.05" width="12.74" height="9.55" fill="#e6e6e6"/>
<rect x="109.75" y="568.45" width="12.74" height="9.55" fill="#e6e6e6"/>
<rect x="109.75" y="549.85" width="12.74" height="9.55" fill="#e6e6e6"/>
<rect x="109.75" y="531.25" width="12.74" height="9.55" fill="#e6e6e6"/>
<rect x="109.75" y="512.65" width="12.74" height="9.55" fill="#e6e6e6"/>
<rect x="109.75" y="494.05" width="12.74" height="9.55" fill="#e6e6e6"/>
<rect x="109.75" y="475.45" width="12.74" height="9.55" fill="#e6e6e6"/>
<rect x="109.75" y="456.85" width="12.74" height="9.55" fill="#e6e6e6"/>
<rect x="109.75" y="438.25" width="12.74" height="9.55" fill="#e6e6e6"/>
<rect x="415.12" y="661.45" width="12.74" height="9.55" fill="#e6e6e6"/>
<rect x="415.12" y="642.85" width="12.74" height="9.55" fill="#e6e6e6"/>
<rect x="415.12" y="624.25" width="12.74" height="9.55" fill="#e6e6e6"/>
<rect x="415.12" y="605.65" width="12.74" height="9.55" fill="#e6e6e6"/>
<rect x="415.12" y="587.05" width="12.74" height="9.55" fill="#e6e6e6"/>
<rect x="415.12" y="568.45" width="12.74" height="9.55" fill="#e6e6e6"/>
<rect x="415.12" y="549.85" width="12.74" height="9.55" fill="#e6e6e6"/>
<rect x="415.12" y="531.25" width="12.74" height="9.55" fill="#e6e6e6"/>
<rect x="415.12" y="512.65" width="12.74" height="9.55" fill="#e6e6e6"/>
<rect x="415.12" y="494.05" width="12.74" height="9.55" fill="#e6e6e6"/>
<rect x="415.12" y="475.45" width="12.74" height="9.55" fill="#e6e6e6"/>
<rect x="415.12" y="456.85" width="12.74" height="9.55" fill="#e6e6e6"/>
<rect x="415.12" y="438.25" width="12.74" height="9.55" fill="#e6e6e6"/>
<path d="M180.32 444.2L193.06 444.2" stroke="#666" stroke-width="1.1"/>
<path d="M344.75 462.8L357.49 462.8" stroke="#666" stroke-width="1.1"/>
<path d="M274.28 481.4L287.02 481.4" stroke="#666" stroke-width="1.1"/>
<path d="M391.73 518.6L404.47 518.6" stroke="#666" stroke-width="1.1"/>
<path d="M180.32 537.2L193.06 537.2" stroke="#666" stroke-width="1.1"/>
<path d="M297.77 537.2L310.51 537.2" stroke="#666" stroke-width="1.1"/>
<path d="M227.3 555.8L240.04 555.8" stroke="#666" stroke-width="1.1"/>
<path d="M344.75 555.8L357.49 555.8" stroke="#666" stroke-width="1.1"/>
<path d="M156.83 574.4L169.57 574.4" stroke="#666" stroke-width="1.1"/>
<path d="M274.28 574.4L287.02 574.4" stroke="#666" stroke-width="1.1"/>
<path d="M203.81 593L216.55 593" stroke="#666" stroke-width="1.1"/>
<path d="M321.26 593L334 593" stroke="#666" stroke-width="1.1"/>
<path d="M522.52 481.4L535.26 481.4" stroke="#666" stroke-width="1.1"/>
<path d="M639.97 481.4L652.71 481.4" stroke="#666" stroke-width="1.1"/>
<path d="M710.44 462.8L723.18 462.8" stroke="#666" stroke-width="1.1"/>
<path d="M475.54 500L488.28 500" stroke="#666" stroke-width="1.1"/>
<path d="M780.91 500L793.65 500" stroke="#666" stroke-width="1.1"/>
<path d="M757.42 518.6L770.16 518.6" stroke="#666" stroke-width="1.1"/>
<path d="M546.01 537.2L558.75 537.2" stroke="#666" stroke-width="1.1"/>
<path d="M663.46 537.2L676.2 537.2" stroke="#666" stroke-width="1.1"/>
<path d="M499.03 555.8L511.77 555.8" stroke="#666" stroke-width="1.1"/>
<path d="M592.99 555.8L605.73 555.8" stroke="#666" stroke-width="1.1"/>
<path d="M710.44 555.8L723.18 555.8" stroke="#666" stroke-width="1.1"/>
<path d="M757.42 555.8L770.16 555.8" stroke="#666" stroke-width="1.1"/>
<path d="M522.52 574.4L535.26 574.4" stroke="#666" stroke-width="1.1"/>
<path d="M639.97 574.4L652.71 574.4" stroke="#666" stroke-width="1.1"/>
<path d="M569.5 593L582.24 593" stroke="#666" stroke-width="1.1"/>
<path d="M686.95 593L699.69 593" stroke="#666" stroke-width="1.1"/>
<path d="M499.03 611.6L511.77 611.6" stroke="#666" stroke-width="1.1"/>
<path d="M499.03 648.8L511.77 648.8" stroke="#666" stroke-width="1.1"/>
<path d="M757.42 667.4L770.16 667.4" stroke="#666" stroke-width="1.1"/>
<path d="M475.54 425.6L488.28 425.6" stroke="#666" stroke-width="1.1"/>
<path d="M475.54 407L488.28 407" stroke="#666" stroke-width="1.1"/>
<path d="M475.54 388.4L488.28 388.4" stroke="#666" stroke-width="1.1"/>
<path d="M475.54 369.8L488.28 369.8" stroke="#666" stroke-width="1.1"/>
<path d="M475.54 351.2L488.28 351.2" stroke="#666" stroke-width="1.1"/>
<path d="M780.91 425.6L793.65 425.6" stroke="#666" stroke-width="1.1"/>
<path d="M780.91 407L793.65 407" stroke="#666" stroke-width="1.1"/>
<path d="M780.91 388.4L793.65 388.4" stroke="#666" stroke-width="1.1"/>
<path d="M780.91 369.8L793.65 369.8" stroke="#666" stroke-width="1.1"/>
<path d="M780.91 351.2L793.65 351.2" stroke="#666" stroke-width="1.1"/>
<rect x="476.04" y="438.25" width="4.2" height="9.55" fill="#e6e6e6"/>
<path d="M480.74 438.85L480.74 447.5" stroke="#6d6d6d" stroke-width="0.9"/>
<rect x="476.04" y="475.45" width="4.2" height="9.55" fill="#e6e6e6"/>
<path d="M480.74 476.05L480.74 484.7" stroke="#6d6d6d" stroke-width="0.9"/>
<rect x="476.04" y="512.65" width="4.2" height="9.55" fill="#e6e6e6"/>
<path d="M480.74 513.25L480.74 521.9" stroke="#6d6d6d" stroke-width="0.9"/>
<rect x="476.04" y="549.85" width="4.2" height="9.55" fill="#e6e6e6"/>
<path d="M480.74 550.45L480.74 559.1" stroke="#6d6d6d" stroke-width="0.9"/>
<rect x="476.04" y="587.05" width="4.2" height="9.55" fill="#e6e6e6"/>
<path d="M480.74 587.65L480.74 596.3" stroke="#6d6d6d" stroke-width="0.9"/>
<rect x="476.04" y="624.25" width="4.2" height="9.55" fill="#e6e6e6"/>
<path d="M480.74 624.85L480.74 633.5" stroke="#6d6d6d" stroke-width="0.9"/>
<rect x="476.04" y="661.45" width="4.2" height="9.55" fill="#e6e6e6"/>
<path d="M480.74 662.05L480.74 670.7" stroke="#6d6d6d" stroke-width="0.9"/>
<rect x="787.61" y="438.25" width="5" height="9.55" fill="#e6e6e6"/>
<path d="M787.11 438.85L787.11 447.5" stroke="#6d6d6d" stroke-width="0.9"/>
<rect x="787.61" y="475.45" width="5" height="9.55" fill="#e6e6e6"/>
<path d="M787.11 476.05L787.11 484.7" stroke="#6d6d6d" stroke-width="0.9"/>
<rect x="787.61" y="512.65" width="5" height="9.55" fill="#e6e6e6"/>
<path d="M787.11 513.25L787.11 521.9" stroke="#6d6d6d" stroke-width="0.9"/>
<rect x="787.61" y="549.85" width="5" height="9.55" fill="#e6e6e6"/>
<path d="M787.11 550.45L787.11 559.1" stroke="#6d6d6d" stroke-width="0.9"/>
<rect x="787.61" y="587.05" width="5" height="9.55" fill="#e6e6e6"/>
<path d="M787.11 587.65L787.11 596.3" stroke="#6d6d6d" stroke-width="0.9"/>
<rect x="787.61" y="624.25" width="5" height="9.55" fill="#e6e6e6"/>
<path d="M787.11 624.85L787.11 633.5" stroke="#6d6d6d" stroke-width="0.9"/>
<rect x="787.61" y="661.45" width="5" height="9.55" fill="#e6e6e6"/>
<path d="M787.11 662.05L787.11 670.7" stroke="#6d6d6d" stroke-width="0.9"/>
<rect x="193.36" y="671.2" width="140.94" height="45.2" fill="#fff"/>
<use href="#d27" x="193.36" y="671.2" fill="#e9bac4"/>
<use href="#d6" x="193.36" y="671.2" fill="#799d62"/>
<use href="#d28" x="216.85" y="671.2" fill="#799d62"/>
<use href="#d29" x="216.85" y="671.2" fill="#e9bac4"/>
<use href="#d28" x="248.15" y="671.2" fill="#f5f5f1"/>
<path d="M248.15 675.5V716.4M258.1 679.65V716.4" stroke="#9b9b9b" stroke-width=".6" fill="none"/>
<use href="#d29" x="248.15" y="671.2" fill="#e7723a"/>
<use href="#d30" x="279.45" y="671.2" fill="#fbdea6"/>
<use href="#d31" x="279.45" y="671.2" fill="#fbdea6"/>
<use href="#d27" x="310.81" y="671.2" fill="#f5f5f1"/>
<path d="M310.81 675.5V716.4M320.76 679.65V716.4" stroke="#9b9b9b" stroke-width=".6" fill="none"/>
<use href="#d6" x="310.81" y="671.2" fill="#fbdea6"/>
<path d="M193.36 689.8L334.3 689.8" stroke="#c8c8c8" stroke-width="0.8"/>
</g>
<path d="M63.5 233.4L967.5 233.4" stroke="#d2d2d2" stroke-width="1"/>
<path d="M63.5 280.6L967.5 280.6" stroke="#d2d2d2" stroke-width="1"/>
<path d="M63.5 429.4L967.5 429.4" stroke="#d2d2d2" stroke-width="1"/>
<path d="M63.5 596.8L967.5 596.8" stroke="#d2d2d2" stroke-width="1"/>
<path d="M63.5 671.2L967.5 671.2" stroke="#d2d2d2" stroke-width="1"/>
<path d="M63.5 716.4L967.5 716.4" stroke="#d2d2d2" stroke-width="1"/>
<path d="M63.5 233.4L80.3 233.4" stroke="#d2d2d2" stroke-width="1"/>
<path d="M63.5 257L80.3 257" stroke="#d2d2d2" stroke-width="1"/>
<path d="M63.5 280.6L80.3 280.6" stroke="#d2d2d2" stroke-width="1"/>
<path d="M63.5 299.2L80.3 299.2" stroke="#d2d2d2" stroke-width="1"/>
<path d="M63.5 317.8L80.3 317.8" stroke="#d2d2d2" stroke-width="1"/>
<path d="M63.5 336.4L80.3 336.4" stroke="#d2d2d2" stroke-width="1"/>
<path d="M63.5 355L80.3 355" stroke="#d2d2d2" stroke-width="1"/>
<path d="M63.5 373.6L80.3 373.6" stroke="#d2d2d2" stroke-width="1"/>
<path d="M63.5 392.2L80.3 392.2" stroke="#d2d2d2" stroke-width="1"/>
<path d="M63.5 410.8L80.3 410.8" stroke="#d2d2d2" stroke-width="1"/>
<path d="M63.5 429.4L80.3 429.4" stroke="#d2d2d2" stroke-width="1"/>
<path d="M63.5 448L80.3 448" stroke="#d2d2d2" stroke-width="1"/>
<path d="M63.5 466.6L80.3 466.6" stroke="#d2d2d2" stroke-width="1"/>
<path d="M63.5 485.2L80.3 485.2" stroke="#d2d2d2" stroke-width="1"/>
<path d="M63.5 503.8L80.3 503.8" stroke="#d2d2d2" stroke-width="1"/>
<path d="M63.5 522.4L80.3 522.4" stroke="#d2d2d2" stroke-width="1"/>
<path d="M63.5 541L80.3 541" stroke="#d2d2d2" stroke-width="1"/>
<path d="M63.5 559.6L80.3 559.6" stroke="#d2d2d2" stroke-width="1"/>
<path d="M63.5 578.2L80.3 578.2" stroke="#d2d2d2" stroke-width="1"/>
<path d="M63.5 596.8L80.3 596.8" stroke="#d2d2d2" stroke-width="1"/>
<path d="M63.5 615.4L80.3 615.4" stroke="#d2d2d2" stroke-width="1"/>
<path d="M63.5 634L80.3 634" stroke="#d2d2d2" stroke-width="1"/>
<path d="M63.5 652.6L80.3 652.6" stroke="#d2d2d2" stroke-width="1"/>
<path d="M63.5 671.2L80.3 671.2" stroke="#d2d2d2" stroke-width="1"/>
<path d="M63.5 689.8L80.3 689.8" stroke="#d2d2d2" stroke-width="1"/>
<path d="M80.3 173L80.3 716.4" stroke="#cdcdcd" stroke-width="1"/>
<path d="M451.75 173L451.75 233.4" stroke="#cdcdcd" stroke-width="1"/>
<path d="M823.2 173L823.2 716.4" stroke="#cdcdcd" stroke-width="1"/>
<path d="M99.4 213.5L99.4 233.4" stroke="#d6d6d6" stroke-width="1"/>
<path d="M475.24 213.5L475.24 233.4" stroke="#d6d6d6" stroke-width="1"/>
<path d="M122.89 213.5L122.89 233.4" stroke="#d6d6d6" stroke-width="1"/>
<path d="M498.73 213.5L498.73 233.4" stroke="#d6d6d6" stroke-width="1"/>
<path d="M146.38 213.5L146.38 233.4" stroke="#d6d6d6" stroke-width="1"/>
<path d="M522.22 213.5L522.22 233.4" stroke="#d6d6d6" stroke-width="1"/>
<path d="M169.87 213.5L169.87 233.4" stroke="#d6d6d6" stroke-width="1"/>
<path d="M545.71 213.5L545.71 233.4" stroke="#d6d6d6" stroke-width="1"/>
<path d="M193.36 213.5L193.36 233.4" stroke="#d6d6d6" stroke-width="1"/>
<path d="M569.2 213.5L569.2 233.4" stroke="#d6d6d6" stroke-width="1"/>
<path d="M216.85 213.5L216.85 233.4" stroke="#d6d6d6" stroke-width="1"/>
<path d="M592.69 213.5L592.69 233.4" stroke="#d6d6d6" stroke-width="1"/>
<path d="M240.34 213.5L240.34 233.4" stroke="#d6d6d6" stroke-width="1"/>
<path d="M616.18 213.5L616.18 233.4" stroke="#d6d6d6" stroke-width="1"/>
<path d="M263.83 213.5L263.83 233.4" stroke="#d6d6d6" stroke-width="1"/>
<path d="M639.67 213.5L639.67 233.4" stroke="#d6d6d6" stroke-width="1"/>
<path d="M287.32 213.5L287.32 233.4" stroke="#d6d6d6" stroke-width="1"/>
<path d="M663.16 213.5L663.16 233.4" stroke="#d6d6d6" stroke-width="1"/>
<path d="M310.81 213.5L310.81 233.4" stroke="#d6d6d6" stroke-width="1"/>
<path d="M686.65 213.5L686.65 233.4" stroke="#d6d6d6" stroke-width="1"/>
<path d="M334.3 213.5L334.3 233.4" stroke="#d6d6d6" stroke-width="1"/>
<path d="M710.14 213.5L710.14 233.4" stroke="#d6d6d6" stroke-width="1"/>
<path d="M357.79 213.5L357.79 233.4" stroke="#d6d6d6" stroke-width="1"/>
<path d="M733.63 213.5L733.63 233.4" stroke="#d6d6d6" stroke-width="1"/>
<path d="M381.28 213.5L381.28 233.4" stroke="#d6d6d6" stroke-width="1"/>
<path d="M757.12 213.5L757.12 233.4" stroke="#d6d6d6" stroke-width="1"/>
<path d="M404.77 213.5L404.77 233.4" stroke="#d6d6d6" stroke-width="1"/>
<path d="M780.61 213.5L780.61 233.4" stroke="#d6d6d6" stroke-width="1"/>
<path d="M428.26 213.5L428.26 233.4" stroke="#d6d6d6" stroke-width="1"/>
<path d="M804.1 213.5L804.1 233.4" stroke="#d6d6d6" stroke-width="1"/>
<path d="M34 917.4L1068.72 917.4" stroke="#dadada" stroke-width="1"/>
<path d="M34 941.7L1068.72 941.7" stroke="#dadada" stroke-width="1"/>
<path d="M34 966L1068.72 966" stroke="#dadada" stroke-width="1"/>
<path d="M34 990.3L1068.72 990.3" stroke="#dadada" stroke-width="1"/>
<path d="M34 1014.6L1068.72 1014.6" stroke="#dadada" stroke-width="1"/>
<path d="M34 1038.9L1068.72 1038.9" stroke="#dadada" stroke-width="1"/>
<path d="M34 1063.2L1068.72 1063.2" stroke="#dadada" stroke-width="1"/>
<path d="M80.3 835.5L80.3 1063.2" stroke="#d2d2d2" stroke-width="1"/>
<path d="M111.3 888.5L111.3 1063.2" stroke="#dbdbdb" stroke-width="1"/>
<path d="M146.76 888.5L146.76 1063.2" stroke="#dbdbdb" stroke-width="1"/>
<path d="M182.22 888.5L182.22 1063.2" stroke="#dbdbdb" stroke-width="1"/>
<path d="M217.68 888.5L217.68 1063.2" stroke="#dbdbdb" stroke-width="1"/>
<path d="M253.14 888.5L253.14 1063.2" stroke="#dbdbdb" stroke-width="1"/>
<path d="M288.6 888.5L288.6 1063.2" stroke="#dbdbdb" stroke-width="1"/>
<path d="M324.06 888.5L324.06 1063.2" stroke="#dbdbdb" stroke-width="1"/>
<path d="M359.52 888.5L359.52 1063.2" stroke="#dbdbdb" stroke-width="1"/>
<path d="M394.98 888.5L394.98 1063.2" stroke="#dbdbdb" stroke-width="1"/>
<path d="M430.44 888.5L430.44 1063.2" stroke="#dbdbdb" stroke-width="1"/>
<path d="M465.9 888.5L465.9 1063.2" stroke="#dbdbdb" stroke-width="1"/>
<path d="M501.36 835.5L501.36 1063.2" stroke="#d2d2d2" stroke-width="1"/>
<path d="M536.82 888.5L536.82 1063.2" stroke="#dbdbdb" stroke-width="1"/>
<path d="M572.28 888.5L572.28 1063.2" stroke="#dbdbdb" stroke-width="1"/>
<path d="M607.74 888.5L607.74 1063.2" stroke="#dbdbdb" stroke-width="1"/>
<path d="M643.2 888.5L643.2 1063.2" stroke="#dbdbdb" stroke-width="1"/>
<path d="M678.66 835.5L678.66 1063.2" stroke="#d2d2d2" stroke-width="1"/>
<path d="M714.12 888.5L714.12 1063.2" stroke="#dbdbdb" stroke-width="1"/>
<path d="M749.58 888.5L749.58 1063.2" stroke="#dbdbdb" stroke-width="1"/>
<path d="M785.04 888.5L785.04 1063.2" stroke="#dbdbdb" stroke-width="1"/>
<path d="M820.5 888.5L820.5 1063.2" stroke="#dbdbdb" stroke-width="1"/>
<path d="M855.96 888.5L855.96 1063.2" stroke="#dbdbdb" stroke-width="1"/>
<path d="M891.42 888.5L891.42 1063.2" stroke="#dbdbdb" stroke-width="1"/>
<path d="M926.88 888.5L926.88 1063.2" stroke="#dbdbdb" stroke-width="1"/>
<path d="M962.34 835.5L962.34 1063.2" stroke="#d2d2d2" stroke-width="1"/>
<path d="M997.8 888.5L997.8 1063.2" stroke="#dbdbdb" stroke-width="1"/>
<path d="M1033.26 888.5L1033.26 1063.2" stroke="#dbdbdb" stroke-width="1"/>
<path d="M1068.72 835.5L1068.72 1063.2" stroke="#d2d2d2" stroke-width="1"/>
<use href="#d32" x="678.66" y="917.4" fill="#fbdea6"/>
<use href="#d33" x="678.66" y="917.4" fill="#fbdea6"/>
<use href="#d34" x="714.12" y="917.4"/>
<use href="#d33" x="714.12" y="917.4" fill="#e9bac4"/>
<use href="#d32" x="749.58" y="917.4" fill="#e7723a"/>
<use href="#d33" x="749.58" y="917.4" fill="#799d62"/>
<use href="#d34" x="785.04" y="917.4"/>
<use href="#d33" x="785.04" y="917.4" fill="#e7723a"/>
<use href="#d32" x="820.5" y="917.4" fill="#e9bac4"/>
<use href="#d33" x="820.5" y="917.4" fill="#799d62"/>
<use href="#d32" x="855.96" y="917.4" fill="#fbdea6"/>
<use href="#d35" x="80.3" y="941.7" fill="#e7723a"/>
<use href="#d32" x="111.3" y="941.7" fill="#e9bac4"/>
<use href="#d33" x="111.3" y="941.7" fill="#799d62"/>
<use href="#d34" x="146.76" y="941.7"/>
<use href="#d33" x="146.76" y="941.7" fill="#799d62"/>
<use href="#d32" x="182.22" y="941.7" fill="#e9bac4"/>
<use href="#d33" x="182.22" y="941.7" fill="#799d62"/>
<use href="#d32" x="217.68" y="941.7" fill="#e7723a"/>
<use href="#d33" x="217.68" y="941.7" fill="#799d62"/>
<use href="#d32" x="253.14" y="941.7" fill="#e9bac4"/>
<use href="#d36" x="253.14" y="941.7"/>
<use href="#d32" x="288.6" y="941.7" fill="#799d62"/>
<use href="#d33" x="288.6" y="941.7" fill="#799d62"/>
<use href="#d32" x="324.06" y="941.7" fill="#fbdea6"/>
<use href="#d33" x="324.06" y="941.7" fill="#e7723a"/>
<use href="#d32" x="359.52" y="941.7" fill="#fbdea6"/>
<use href="#d33" x="359.52" y="941.7" fill="#799d62"/>
<use href="#d32" x="394.98" y="941.7" fill="#e7723a"/>
<use href="#d33" x="394.98" y="941.7" fill="#fbdea6"/>
<use href="#d32" x="430.44" y="941.7" fill="#799d62"/>
<use href="#d33" x="430.44" y="941.7" fill="#799d62"/>
<use href="#d32" x="465.9" y="941.7" fill="#e9bac4"/>
<use href="#d33" x="465.9" y="941.7" fill="#799d62"/>
<use href="#d32" x="501.36" y="941.7" fill="#e9bac4"/>
<use href="#d33" x="501.36" y="941.7" fill="#799d62"/>
<use href="#d32" x="536.82" y="941.7" fill="#e7723a"/>
<use href="#d33" x="536.82" y="941.7" fill="#e9bac4"/>
<use href="#d32" x="572.28" y="941.7" fill="#799d62"/>
<use href="#d33" x="572.28" y="941.7" fill="#e9bac4"/>
<use href="#d32" x="607.74" y="941.7" fill="#799d62"/>
<use href="#d33" x="607.74" y="941.7" fill="#e7723a"/>
<use href="#d34" x="643.2" y="941.7"/>
<use href="#d33" x="643.2" y="941.7" fill="#799d62"/>
<use href="#d32" x="678.66" y="941.7" fill="#e9bac4"/>
<use href="#d33" x="678.66" y="941.7" fill="#799d62"/>
<use href="#d32" x="714.12" y="941.7" fill="#e9bac4"/>
<use href="#d33" x="714.12" y="941.7" fill="#fbdea6"/>
<use href="#d32" x="749.58" y="941.7" fill="#e7723a"/>
<use href="#d33" x="749.58" y="941.7" fill="#e9bac4"/>
<use href="#d32" x="785.04" y="941.7" fill="#e7723a"/>
<use href="#d33" x="785.04" y="941.7" fill="#fbdea6"/>
<use href="#d32" x="820.5" y="941.7" fill="#e9bac4"/>
<use href="#d33" x="820.5" y="941.7" fill="#e7723a"/>
<use href="#d32" x="855.96" y="941.7" fill="#e9bac4"/>
<use href="#d33" x="855.96" y="941.7" fill="#fbdea6"/>
<use href="#d32" x="891.42" y="941.7" fill="#e9bac4"/>
<use href="#d33" x="891.42" y="941.7" fill="#799d62"/>
<use href="#d32" x="926.88" y="941.7" fill="#e9bac4"/>
<use href="#d36" x="926.88" y="941.7"/>
<use href="#d32" x="962.34" y="941.7" fill="#799d62"/>
<use href="#d33" x="962.34" y="941.7" fill="#799d62"/>
<use href="#d32" x="997.8" y="941.7" fill="#fbdea6"/>
<use href="#d33" x="997.8" y="941.7" fill="#e7723a"/>
<use href="#d32" x="1033.26" y="941.7" fill="#e9bac4"/>
<use href="#d33" x="1033.26" y="941.7" fill="#e7723a"/>
<use href="#d34" x="1068.72" y="941.7"/>
<use href="#d35" x="80.3" y="966" fill="#e9bac4"/>
<use href="#d32" x="111.3" y="966" fill="#799d62"/>
<use href="#d33" x="111.3" y="966" fill="#799d62"/>
<use href="#d32" x="146.76" y="966" fill="#e9bac4"/>
<use href="#d33" x="146.76" y="966" fill="#fbdea6"/>
<use href="#d32" x="182.22" y="966" fill="#e7723a"/>
<use href="#d33" x="182.22" y="966" fill="#e7723a"/>
<use href="#d32" x="217.68" y="966" fill="#799d62"/>
<use href="#d33" x="217.68" y="966" fill="#799d62"/>
<use href="#d32" x="253.14" y="966" fill="#e7723a"/>
<use href="#d33" x="253.14" y="966" fill="#799d62"/>
<use href="#d32" x="288.6" y="966" fill="#fbdea6"/>
<use href="#d33" x="288.6" y="966" fill="#e7723a"/>
<use href="#d32" x="324.06" y="966" fill="#e9bac4"/>
<use href="#d33" x="324.06" y="966" fill="#e9bac4"/>
<use href="#d32" x="359.52" y="966" fill="#799d62"/>
<use href="#d33" x="359.52" y="966" fill="#fbdea6"/>
<use href="#d32" x="394.98" y="966" fill="#e7723a"/>
<use href="#d33" x="394.98" y="966" fill="#799d62"/>
<use href="#d32" x="430.44" y="966" fill="#e7723a"/>
<use href="#d33" x="430.44" y="966" fill="#799d62"/>
<use href="#d34" x="465.9" y="966"/>
<use href="#d33" x="465.9" y="966" fill="#fbdea6"/>
<use href="#d32" x="501.36" y="966" fill="#e7723a"/>
<use href="#d33" x="501.36" y="966" fill="#799d62"/>
<use href="#d32" x="536.82" y="966" fill="#799d62"/>
<use href="#d33" x="536.82" y="966" fill="#e7723a"/>
<use href="#d32" x="572.28" y="966" fill="#e7723a"/>
<use href="#d33" x="572.28" y="966" fill="#799d62"/>
<use href="#d32" x="607.74" y="966" fill="#e7723a"/>
<use href="#d33" x="607.74" y="966" fill="#e9bac4"/>
<use href="#d32" x="643.2" y="966" fill="#799d62"/>
<use href="#d33" x="643.2" y="966" fill="#799d62"/>
<use href="#d32" x="678.66" y="966" fill="#e9bac4"/>
<use href="#d33" x="678.66" y="966" fill="#e7723a"/>
<use href="#d32" x="714.12" y="966" fill="#799d62"/>
<use href="#d33" x="714.12" y="966" fill="#e7723a"/>
<use href="#d32" x="749.58" y="966" fill="#e9bac4"/>
<use href="#d33" x="749.58" y="966" fill="#fbdea6"/>
<use href="#d32" x="785.04" y="966" fill="#e7723a"/>
<use href="#d33" x="785.04" y="966" fill="#799d62"/>
<use href="#d34" x="820.5" y="966"/>
<use href="#d33" x="820.5" y="966" fill="#799d62"/>
<use href="#d32" x="855.96" y="966" fill="#e9bac4"/>
<use href="#d33" x="855.96" y="966" fill="#799d62"/>
<use href="#d32" x="891.42" y="966" fill="#e7723a"/>
<use href="#d33" x="891.42" y="966" fill="#e9bac4"/>
<use href="#d32" x="926.88" y="966" fill="#799d62"/>
<use href="#d33" x="926.88" y="966" fill="#e7723a"/>
<use href="#d32" x="962.34" y="966" fill="#e7723a"/>
<use href="#d33" x="962.34" y="966" fill="#fbdea6"/>
<use href="#d32" x="997.8" y="966" fill="#799d62"/>
<use href="#d33" x="997.8" y="966" fill="#799d62"/>
<use href="#d32" x="1033.26" y="966" fill="#e9bac4"/>
<use href="#d33" x="1033.26" y="966" fill="#e7723a"/>
<use href="#d32" x="1068.72" y="966" fill="#799d62"/>
<use href="#d35" x="80.3" y="990.3" fill="#e9bac4"/>
<use href="#d32" x="111.3" y="990.3" fill="#fbdea6"/>
<use href="#d33" x="111.3" y="990.3" fill="#e9bac4"/>
<use href="#d32" x="146.76" y="990.3" fill="#799d62"/>
<use href="#d33" x="146.76" y="990.3" fill="#e7723a"/>
<use href="#d32" x="182.22" y="990.3" fill="#799d62"/>
<use href="#d33" x="182.22" y="990.3" fill="#e9bac4"/>
<use href="#d37" x="217.68" y="990.3" fill="#799d62"/>
<use href="#d32" x="253.14" y="990.3" fill="#fbdea6"/>
<use href="#d33" x="253.14" y="990.3" fill="#e7723a"/>
<use href="#d32" x="288.6" y="990.3" fill="#799d62"/>
<use href="#d33" x="288.6" y="990.3" fill="#e9bac4"/>
<use href="#d37" x="324.06" y="990.3" fill="#799d62"/>
<use href="#d32" x="359.52" y="990.3" fill="#e9bac4"/>
<use href="#d33" x="359.52" y="990.3" fill="#e9bac4"/>
<use href="#d32" x="394.98" y="990.3" fill="#e7723a"/>
<use href="#d33" x="394.98" y="990.3" fill="#fbdea6"/>
<use href="#d32" x="430.44" y="990.3" fill="#fbdea6"/>
<use href="#d33" x="430.44" y="990.3" fill="#fbdea6"/>
<use href="#d32" x="465.9" y="990.3" fill="#e7723a"/>
<use href="#d33" x="465.9" y="990.3" fill="#799d62"/>
<use href="#d34" x="501.36" y="990.3"/>
<use href="#d33" x="501.36" y="990.3" fill="#e9bac4"/>
<use href="#d32" x="536.82" y="990.3" fill="#e7723a"/>
<use href="#d33" x="536.82" y="990.3" fill="#e9bac4"/>
<use href="#d32" x="572.28" y="990.3" fill="#fbdea6"/>
<use href="#d33" x="572.28" y="990.3" fill="#799d62"/>
<use href="#d32" x="607.74" y="990.3" fill="#fbdea6"/>
<use href="#d33" x="607.74" y="990.3" fill="#fbdea6"/>
<use href="#d32" x="643.2" y="990.3" fill="#e9bac4"/>
<use href="#d33" x="643.2" y="990.3" fill="#e9bac4"/>
<use href="#d32" x="678.66" y="990.3" fill="#e7723a"/>
<use href="#d33" x="678.66" y="990.3" fill="#fbdea6"/>
<use href="#d32" x="714.12" y="990.3" fill="#e7723a"/>
<use href="#d33" x="714.12" y="990.3" fill="#e9bac4"/>
<use href="#d32" x="749.58" y="990.3" fill="#799d62"/>
<use href="#d33" x="749.58" y="990.3" fill="#799d62"/>
<use href="#d34" x="785.04" y="990.3"/>
<use href="#d33" x="785.04" y="990.3" fill="#fbdea6"/>
<use href="#d32" x="820.5" y="990.3" fill="#e7723a"/>
<use href="#d33" x="820.5" y="990.3" fill="#fbdea6"/>
<use href="#d32" x="855.96" y="990.3" fill="#e7723a"/>
<use href="#d33" x="855.96" y="990.3" fill="#e9bac4"/>
<use href="#d32" x="891.42" y="990.3" fill="#fbdea6"/>
<use href="#d33" x="891.42" y="990.3" fill="#799d62"/>
<use href="#d32" x="926.88" y="990.3" fill="#e7723a"/>
<use href="#d33" x="926.88" y="990.3" fill="#fbdea6"/>
<use href="#d32" x="962.34" y="990.3" fill="#fbdea6"/>
<use href="#d36" x="962.34" y="990.3"/>
<use href="#d32" x="997.8" y="990.3" fill="#fbdea6"/>
<use href="#d33" x="997.8" y="990.3" fill="#e9bac4"/>
<use href="#d32" x="1033.26" y="990.3" fill="#e7723a"/>
<use href="#d33" x="1033.26" y="990.3" fill="#fbdea6"/>
<use href="#d32" x="1068.72" y="990.3" fill="#e7723a"/>
<use href="#d35" x="80.3" y="1014.6" fill="#fbdea6"/>
<use href="#d32" x="111.3" y="1014.6" fill="#e9bac4"/>
<use href="#d33" x="111.3" y="1014.6" fill="#e7723a"/>
<use href="#d37" x="146.76" y="1014.6" fill="#799d62"/>
<use href="#d32" x="182.22" y="1014.6" fill="#e7723a"/>
<use href="#d33" x="182.22" y="1014.6" fill="#fbdea6"/>
<use href="#d32" x="217.68" y="1014.6" fill="#799d62"/>
<use href="#d33" x="217.68" y="1014.6" fill="#e7723a"/>
<use href="#d32" x="253.14" y="1014.6" fill="#799d62"/>
<use href="#d33" x="253.14" y="1014.6" fill="#e9bac4"/>
<use href="#d32" x="288.6" y="1014.6" fill="#799d62"/>
<use href="#d33" x="288.6" y="1014.6" fill="#fbdea6"/>
<use href="#d32" x="324.06" y="1014.6" fill="#799d62"/>
<use href="#d33" x="324.06" y="1014.6" fill="#e9bac4"/>
<use href="#d37" x="359.52" y="1014.6" fill="#fbdea6"/>
<use href="#d32" x="394.98" y="1014.6" fill="#799d62"/>
<use href="#d33" x="394.98" y="1014.6" fill="#fbdea6"/>
<use href="#d38" x="430.44" y="1014.6" fill="#e9bac4"/>
<use href="#d33" x="430.44" y="1014.6" fill="#e9bac4"/>
<use href="#d37" x="465.9" y="1014.6" fill="#e9bac4"/>
<use href="#d32" x="501.36" y="1014.6" fill="#e9bac4"/>
<use href="#d33" x="501.36" y="1014.6" fill="#e7723a"/>
<use href="#d32" x="536.82" y="1014.6" fill="#fbdea6"/>
<use href="#d33" x="536.82" y="1014.6" fill="#fbdea6"/>
<use href="#d32" x="572.28" y="1014.6" fill="#e9bac4"/>
<use href="#d33" x="572.28" y="1014.6" fill="#e7723a"/>
<use href="#d32" x="607.74" y="1014.6" fill="#e9bac4"/>
<use href="#d33" x="607.74" y="1014.6" fill="#799d62"/>
<use href="#d32" x="643.2" y="1014.6" fill="#e7723a"/>
<use href="#d33" x="643.2" y="1014.6" fill="#e7723a"/>
<use href="#d32" x="678.66" y="1014.6" fill="#fbdea6"/>
<use href="#d33" x="678.66" y="1014.6" fill="#e7723a"/>
<use href="#d32" x="714.12" y="1014.6" fill="#799d62"/>
<use href="#d33" x="714.12" y="1014.6" fill="#fbdea6"/>
<use href="#d32" x="749.58" y="1014.6" fill="#799d62"/>
<use href="#d33" x="749.58" y="1014.6" fill="#e9bac4"/>
<use href="#d32" x="785.04" y="1014.6" fill="#fbdea6"/>
<use href="#d33" x="785.04" y="1014.6" fill="#799d62"/>
<use href="#d32" x="820.5" y="1014.6" fill="#e9bac4"/>
<use href="#d33" x="820.5" y="1014.6" fill="#799d62"/>
<use href="#d32" x="855.96" y="1014.6" fill="#fbdea6"/>
<use href="#d33" x="855.96" y="1014.6" fill="#e7723a"/>
<use href="#d32" x="891.42" y="1014.6" fill="#799d62"/>
<use href="#d33" x="891.42" y="1014.6" fill="#e9bac4"/>
<use href="#d32" x="926.88" y="1014.6" fill="#fbdea6"/>
<use href="#d33" x="926.88" y="1014.6" fill="#799d62"/>
<use href="#d32" x="962.34" y="1014.6" fill="#799d62"/>
<use href="#d33" x="962.34" y="1014.6" fill="#799d62"/>
<use href="#d38" x="997.8" y="1014.6" fill="#e7723a"/>
<use href="#d33" x="997.8" y="1014.6" fill="#e7723a"/>
<use href="#d37" x="1033.26" y="1014.6" fill="#e7723a"/>
<use href="#d32" x="1068.72" y="1014.6" fill="#e7723a"/>
<use href="#d35" x="80.3" y="1038.9" fill="#e9bac4"/>
<use href="#d37" x="111.3" y="1038.9" fill="#e9bac4"/>
<use href="#d32" x="146.76" y="1038.9" fill="#fbdea6"/>
<use href="#d33" x="146.76" y="1038.9" fill="#e7723a"/>
<use href="#d37" x="182.22" y="1038.9" fill="#e7723a"/>
<use href="#d32" x="217.68" y="1038.9" fill="#799d62"/>
<use href="#d33" x="217.68" y="1038.9" fill="#799d62"/>
<use href="#d37" x="253.14" y="1038.9" fill="#799d62"/>
<use href="#d32" x="288.6" y="1038.9" fill="#799d62"/>
<use href="#d33" x="288.6" y="1038.9" fill="#e9bac4"/>
<use href="#d37" x="324.06" y="1038.9" fill="#e9bac4"/>
<use href="#d32" x="359.52" y="1038.9" fill="#799d62"/>
<use href="#d33" x="359.52" y="1038.9" fill="#fbdea6"/>
<use href="#d37" x="394.98" y="1038.9" fill="#fbdea6"/>
<use href="#d32" x="501.36" y="1038.9" fill="#e9bac4"/>
<use href="#d33" x="501.36" y="1038.9" fill="#e9bac4"/>
<use href="#d32" x="536.82" y="1038.9" fill="#799d62"/>
<use href="#d33" x="536.82" y="1038.9" fill="#fbdea6"/>
<use href="#d32" x="572.28" y="1038.9" fill="#e9bac4"/>
<use href="#d33" x="572.28" y="1038.9" fill="#799d62"/>
<use href="#d32" x="607.74" y="1038.9" fill="#fbdea6"/>
<use href="#d33" x="607.74" y="1038.9" fill="#e7723a"/>
<use href="#d32" x="643.2" y="1038.9" fill="#fbdea6"/>
<use href="#d33" x="643.2" y="1038.9" fill="#fbdea6"/>
<use href="#d32" x="678.66" y="1038.9" fill="#799d62"/>
<use href="#d33" x="678.66" y="1038.9" fill="#e7723a"/>
<use href="#d34" x="714.12" y="1038.9"/>
<use href="#d33" x="714.12" y="1038.9" fill="#e7723a"/>
<use href="#d32" x="749.58" y="1038.9" fill="#fbdea6"/>
<use href="#d33" x="749.58" y="1038.9" fill="#fbdea6"/>
<use href="#d34" x="785.04" y="1038.9"/>
<use href="#d33" x="785.04" y="1038.9" fill="#fbdea6"/>
<use href="#d34" x="820.5" y="1038.9"/>
<use href="#d33" x="820.5" y="1038.9" fill="#799d62"/>
<use href="#d32" x="855.96" y="1038.9" fill="#799d62"/>
<use href="#d33" x="855.96" y="1038.9" fill="#fbdea6"/>
<use href="#d34" x="891.42" y="1038.9"/>
<use href="#d33" x="891.42" y="1038.9" fill="#e7723a"/>
<use href="#d32" x="926.88" y="1038.9" fill="#799d62"/>
<use href="#d33" x="926.88" y="1038.9" fill="#e9bac4"/>
<use href="#d32" x="962.34" y="1038.9" fill="#e9bac4"/>
<use href="#d33" x="962.34" y="1038.9" fill="#fbdea6"/>
<use href="#d32" x="1068.72" y="1038.9" fill="#e7723a"/>
<path d="M34 1248.4L1853.3 1248.4" stroke="#dadada" stroke-width="1"/>
<path d="M34 1272.87L1853.3 1272.87" stroke="#dadada" stroke-width="1"/>
<path d="M34 1297.34L1853.3 1297.34" stroke="#dadada" stroke-width="1"/>
<path d="M34 1321.81L1853.3 1321.81" stroke="#dadada" stroke-width="1"/>
<path d="M34 1346.28L1853.3 1346.28" stroke="#dadada" stroke-width="1"/>
<path d="M34 1370.75L1853.3 1370.75" stroke="#dadada" stroke-width="1"/>
<path d="M34 1395.22L1853.3 1395.22" stroke="#dadada" stroke-width="1"/>
<path d="M80.3 1166.8L80.3 1395.22" stroke="#d2d2d2" stroke-width="1"/>
<path d="M115.76 1219.5L115.76 1395.22" stroke="#dbdbdb" stroke-width="1"/>
<path d="M151.22 1219.5L151.22 1395.22" stroke="#dbdbdb" stroke-width="1"/>
<path d="M186.68 1219.5L186.68 1395.22" stroke="#dbdbdb" stroke-width="1"/>
<path d="M222.14 1219.5L222.14 1395.22" stroke="#dbdbdb" stroke-width="1"/>
<path d="M257.6 1219.5L257.6 1395.22" stroke="#dbdbdb" stroke-width="1"/>
<path d="M293.06 1219.5L293.06 1395.22" stroke="#dbdbdb" stroke-width="1"/>
<path d="M328.52 1219.5L328.52 1395.22" stroke="#dbdbdb" stroke-width="1"/>
<path d="M363.98 1219.5L363.98 1395.22" stroke="#dbdbdb" stroke-width="1"/>
<path d="M399.44 1219.5L399.44 1395.22" stroke="#dbdbdb" stroke-width="1"/>
<path d="M434.9 1219.5L434.9 1395.22" stroke="#dbdbdb" stroke-width="1"/>
<path d="M470.36 1219.5L470.36 1395.22" stroke="#dbdbdb" stroke-width="1"/>
<path d="M505.82 1219.5L505.82 1395.22" stroke="#dbdbdb" stroke-width="1"/>
<path d="M541.28 1219.5L541.28 1395.22" stroke="#dbdbdb" stroke-width="1"/>
<path d="M576.74 1219.5L576.74 1395.22" stroke="#dbdbdb" stroke-width="1"/>
<path d="M612.2 1219.5L612.2 1395.22" stroke="#dbdbdb" stroke-width="1"/>
<path d="M647.66 1219.5L647.66 1395.22" stroke="#dbdbdb" stroke-width="1"/>
<path d="M683.12 1166.8L683.12 1395.22" stroke="#d2d2d2" stroke-width="1"/>
<path d="M718.58 1219.5L718.58 1395.22" stroke="#dbdbdb" stroke-width="1"/>
<path d="M754.04 1219.5L754.04 1395.22" stroke="#dbdbdb" stroke-width="1"/>
<path d="M789.5 1219.5L789.5 1395.22" stroke="#dbdbdb" stroke-width="1"/>
<path d="M824.96 1219.5L824.96 1395.22" stroke="#dbdbdb" stroke-width="1"/>
<path d="M860.42 1219.5L860.42 1395.22" stroke="#dbdbdb" stroke-width="1"/>
<path d="M895.88 1219.5L895.88 1395.22" stroke="#dbdbdb" stroke-width="1"/>
<path d="M931.34 1219.5L931.34 1395.22" stroke="#dbdbdb" stroke-width="1"/>
<path d="M966.8 1219.5L966.8 1395.22" stroke="#dbdbdb" stroke-width="1"/>
<path d="M1002.26 1219.5L1002.26 1395.22" stroke="#dbdbdb" stroke-width="1"/>
<path d="M1037.72 1166.8L1037.72 1395.22" stroke="#d2d2d2" stroke-width="1"/>
<path d="M1073.18 1219.5L1073.18 1395.22" stroke="#dbdbdb" stroke-width="1"/>
<path d="M1108.64 1219.5L1108.64 1395.22" stroke="#dbdbdb" stroke-width="1"/>
<path d="M1144.1 1219.5L1144.1 1395.22" stroke="#dbdbdb" stroke-width="1"/>
<path d="M1179.56 1219.5L1179.56 1395.22" stroke="#dbdbdb" stroke-width="1"/>
<path d="M1215.02 1219.5L1215.02 1395.22" stroke="#dbdbdb" stroke-width="1"/>
<path d="M1250.48 1219.5L1250.48 1395.22" stroke="#dbdbdb" stroke-width="1"/>
<path d="M1285.94 1219.5L1285.94 1395.22" stroke="#dbdbdb" stroke-width="1"/>
<path d="M1321.4 1219.5L1321.4 1395.22" stroke="#dbdbdb" stroke-width="1"/>
<path d="M1356.86 1219.5L1356.86 1395.22" stroke="#dbdbdb" stroke-width="1"/>
<path d="M1392.32 1219.5L1392.32 1395.22" stroke="#dbdbdb" stroke-width="1"/>
<path d="M1427.78 1219.5L1427.78 1395.22" stroke="#dbdbdb" stroke-width="1"/>
<path d="M1463.24 1166.8L1463.24 1395.22" stroke="#d2d2d2" stroke-width="1"/>
<path d="M1498.7 1219.5L1498.7 1395.22" stroke="#dbdbdb" stroke-width="1"/>
<path d="M1534.16 1219.5L1534.16 1395.22" stroke="#dbdbdb" stroke-width="1"/>
<path d="M1569.62 1219.5L1569.62 1395.22" stroke="#dbdbdb" stroke-width="1"/>
<path d="M1605.08 1219.5L1605.08 1395.22" stroke="#dbdbdb" stroke-width="1"/>
<path d="M1640.54 1219.5L1640.54 1395.22" stroke="#dbdbdb" stroke-width="1"/>
<path d="M1676 1219.5L1676 1395.22" stroke="#dbdbdb" stroke-width="1"/>
<path d="M1711.46 1219.5L1711.46 1395.22" stroke="#dbdbdb" stroke-width="1"/>
<path d="M1746.92 1219.5L1746.92 1395.22" stroke="#dbdbdb" stroke-width="1"/>
<path d="M1782.38 1219.5L1782.38 1395.22" stroke="#dbdbdb" stroke-width="1"/>
<path d="M1817.84 1219.5L1817.84 1395.22" stroke="#dbdbdb" stroke-width="1"/>
<path d="M1853.3 1166.8L1853.3 1395.22" stroke="#d2d2d2" stroke-width="1"/>
<use href="#d39" x="1144.1" y="1248.4" fill="#e7723a"/>
<use href="#d36" x="1144.1" y="1248.4"/>
<use href="#d39" x="1179.56" y="1248.4" fill="#e9bac4"/>
<use href="#d36" x="1179.56" y="1248.4"/>
<use href="#d39" x="1215.02" y="1248.4" fill="#e9bac4"/>
<use href="#d36" x="1215.02" y="1248.4"/>
<use href="#d39" x="1250.48" y="1248.4" fill="#e7723a"/>
<use href="#d33" x="1250.48" y="1248.4" fill="#fbdea6"/>
<use href="#d40" x="1285.94" y="1248.4"/>
<use href="#d33" x="1285.94" y="1248.4" fill="#799d62"/>
<use href="#d40" x="1321.4" y="1248.4"/>
<use href="#d33" x="1321.4" y="1248.4" fill="#e9bac4"/>
<use href="#d39" x="1356.86" y="1248.4" fill="#fbdea6"/>
<use href="#d33" x="1356.86" y="1248.4" fill="#e9bac4"/>
<use href="#d39" x="1392.32" y="1248.4" fill="#e9bac4"/>
<use href="#d36" x="1392.32" y="1248.4"/>
<use href="#d40" x="1427.78" y="1248.4"/>
<use href="#d33" x="1427.78" y="1248.4" fill="#799d62"/>
<use href="#d39" x="1463.24" y="1248.4" fill="#e7723a"/>
<use href="#d36" x="1463.24" y="1248.4"/>
<use href="#d40" x="1498.7" y="1248.4"/>
<use href="#d33" x="1498.7" y="1248.4" fill="#e9bac4"/>
<use href="#d40" x="1534.16" y="1248.4"/>
<use href="#d33" x="1534.16" y="1248.4" fill="#e7723a"/>
<use href="#d39" x="1569.62" y="1248.4" fill="#fbdea6"/>
<use href="#d33" x="1569.62" y="1248.4" fill="#e7723a"/>
<use href="#d39" x="1605.08" y="1248.4" fill="#e9bac4"/>
<use href="#d39" x="80.3" y="1272.87" fill="#e7723a"/>
<use href="#d33" x="80.3" y="1272.87" fill="#e7723a"/>
<use href="#d37" x="115.76" y="1272.87" fill="#e7723a"/>
<use href="#d39" x="151.22" y="1272.87" fill="#e7723a"/>
<use href="#d36" x="151.22" y="1272.87"/>
<use href="#d39" x="186.68" y="1272.87" fill="#799d62"/>
<use href="#d33" x="186.68" y="1272.87" fill="#e9bac4"/>
<use href="#d39" x="222.14" y="1272.87" fill="#799d62"/>
<use href="#d33" x="222.14" y="1272.87" fill="#e9bac4"/>
<use href="#d39" x="257.6" y="1272.87" fill="#e9bac4"/>
<use href="#d33" x="257.6" y="1272.87" fill="#fbdea6"/>
<use href="#d39" x="293.06" y="1272.87" fill="#799d62"/>
<use href="#d33" x="293.06" y="1272.87" fill="#e9bac4"/>
<use href="#d39" x="328.52" y="1272.87" fill="#e9bac4"/>
<use href="#d33" x="328.52" y="1272.87" fill="#799d62"/>
<use href="#d40" x="363.98" y="1272.87"/>
<use href="#d33" x="363.98" y="1272.87" fill="#e7723a"/>
<use href="#d39" x="399.44" y="1272.87" fill="#fbdea6"/>
<use href="#d33" x="399.44" y="1272.87" fill="#e7723a"/>
<use href="#d39" x="434.9" y="1272.87" fill="#fbdea6"/>
<use href="#d33" x="434.9" y="1272.87" fill="#e9bac4"/>
<use href="#d39" x="470.36" y="1272.87" fill="#e7723a"/>
<use href="#d33" x="470.36" y="1272.87" fill="#799d62"/>
<use href="#d39" x="505.82" y="1272.87" fill="#799d62"/>
<use href="#d33" x="505.82" y="1272.87" fill="#e9bac4"/>
<use href="#d40" x="541.28" y="1272.87"/>
<use href="#d33" x="541.28" y="1272.87" fill="#e7723a"/>
<use href="#d39" x="576.74" y="1272.87" fill="#fbdea6"/>
<use href="#d33" x="576.74" y="1272.87" fill="#fbdea6"/>
<use href="#d40" x="612.2" y="1272.87"/>
<use href="#d33" x="612.2" y="1272.87" fill="#fbdea6"/>
<use href="#d39" x="647.66" y="1272.87" fill="#fbdea6"/>
<use href="#d33" x="647.66" y="1272.87" fill="#fbdea6"/>
<use href="#d39" x="683.12" y="1272.87" fill="#799d62"/>
<use href="#d33" x="683.12" y="1272.87" fill="#fbdea6"/>
<use href="#d40" x="718.58" y="1272.87"/>
<use href="#d33" x="718.58" y="1272.87" fill="#e7723a"/>
<use href="#d40" x="754.04" y="1272.87"/>
<use href="#d33" x="754.04" y="1272.87" fill="#799d62"/>
<use href="#d39" x="789.5" y="1272.87" fill="#e9bac4"/>
<use href="#d33" x="789.5" y="1272.87" fill="#e7723a"/>
<use href="#d40" x="824.96" y="1272.87"/>
<use href="#d33" x="824.96" y="1272.87" fill="#e7723a"/>
<use href="#d39" x="860.42" y="1272.87" fill="#e7723a"/>
<use href="#d36" x="860.42" y="1272.87"/>
<use href="#d40" x="895.88" y="1272.87"/>
<use href="#d33" x="895.88" y="1272.87" fill="#e7723a"/>
<use href="#d39" x="931.34" y="1272.87" fill="#799d62"/>
<use href="#d36" x="931.34" y="1272.87"/>
<use href="#d39" x="966.8" y="1272.87" fill="#fbdea6"/>
<use href="#d33" x="966.8" y="1272.87" fill="#e9bac4"/>
<use href="#d40" x="1002.26" y="1272.87"/>
<use href="#d33" x="1002.26" y="1272.87" fill="#fbdea6"/>
<use href="#d39" x="1037.72" y="1272.87" fill="#799d62"/>
<use href="#d36" x="1037.72" y="1272.87"/>
<use href="#d39" x="1073.18" y="1272.87" fill="#e9bac4"/>
<use href="#d33" x="1073.18" y="1272.87" fill="#799d62"/>
<use href="#d39" x="1108.64" y="1272.87" fill="#fbdea6"/>
<use href="#d33" x="1108.64" y="1272.87" fill="#799d62"/>
<use href="#d40" x="1144.1" y="1272.87"/>
<use href="#d33" x="1144.1" y="1272.87" fill="#fbdea6"/>
<use href="#d39" x="1179.56" y="1272.87" fill="#e9bac4"/>
<use href="#d36" x="1179.56" y="1272.87"/>
<use href="#d40" x="1215.02" y="1272.87"/>
<use href="#d33" x="1215.02" y="1272.87" fill="#fbdea6"/>
<use href="#d39" x="1250.48" y="1272.87" fill="#fbdea6"/>
<use href="#d33" x="1250.48" y="1272.87" fill="#e9bac4"/>
<use href="#d39" x="1285.94" y="1272.87" fill="#e9bac4"/>
<use href="#d33" x="1285.94" y="1272.87" fill="#799d62"/>
<use href="#d39" x="1321.4" y="1272.87" fill="#799d62"/>
<use href="#d36" x="1321.4" y="1272.87"/>
<use href="#d40" x="1356.86" y="1272.87"/>
<use href="#d33" x="1356.86" y="1272.87" fill="#e7723a"/>
<use href="#d39" x="1392.32" y="1272.87" fill="#799d62"/>
<use href="#d36" x="1392.32" y="1272.87"/>
<use href="#d39" x="1427.78" y="1272.87" fill="#e9bac4"/>
<use href="#d33" x="1427.78" y="1272.87" fill="#e7723a"/>
<use href="#d39" x="1463.24" y="1272.87" fill="#e9bac4"/>
<use href="#d33" x="1463.24" y="1272.87" fill="#fbdea6"/>
<use href="#d39" x="1498.7" y="1272.87" fill="#fbdea6"/>
<use href="#d33" x="1498.7" y="1272.87" fill="#799d62"/>
<use href="#d39" x="1534.16" y="1272.87" fill="#e7723a"/>
<use href="#d33" x="1534.16" y="1272.87" fill="#e9bac4"/>
<use href="#d39" x="1569.62" y="1272.87" fill="#799d62"/>
<use href="#d33" x="1569.62" y="1272.87" fill="#e9bac4"/>
<use href="#d39" x="1605.08" y="1272.87" fill="#fbdea6"/>
<use href="#d33" x="1605.08" y="1272.87" fill="#e7723a"/>
<use href="#d39" x="1640.54" y="1272.87" fill="#799d62"/>
<use href="#d36" x="1640.54" y="1272.87"/>
<use href="#d39" x="1676" y="1272.87" fill="#fbdea6"/>
<use href="#d36" x="1676" y="1272.87"/>
<use href="#d39" x="1711.46" y="1272.87" fill="#e9bac4"/>
<use href="#d33" x="1711.46" y="1272.87" fill="#799d62"/>
<use href="#d39" x="1746.92" y="1272.87" fill="#799d62"/>
<use href="#d36" x="1746.92" y="1272.87"/>
<use href="#d40" x="1782.38" y="1272.87"/>
<use href="#d33" x="1782.38" y="1272.87" fill="#e7723a"/>
<use href="#d39" x="1817.84" y="1272.87" fill="#799d62"/>
<use href="#d36" x="1817.84" y="1272.87"/>
<use href="#d39" x="80.3" y="1297.34" fill="#fbdea6"/>
<use href="#d33" x="80.3" y="1297.34" fill="#799d62"/>
<use href="#d37" x="115.76" y="1297.34" fill="#799d62"/>
<use href="#d39" x="151.22" y="1297.34" fill="#799d62"/>
<use href="#d33" x="151.22" y="1297.34" fill="#e9bac4"/>
<use href="#d39" x="186.68" y="1297.34" fill="#e9bac4"/>
<use href="#d33" x="186.68" y="1297.34" fill="#e7723a"/>
<use href="#d39" x="222.14" y="1297.34" fill="#e9bac4"/>
<use href="#d33" x="222.14" y="1297.34" fill="#e7723a"/>
<use href="#d39" x="257.6" y="1297.34" fill="#e9bac4"/>
<use href="#d33" x="257.6" y="1297.34" fill="#799d62"/>
<use href="#d39" x="293.06" y="1297.34" fill="#799d62"/>
<use href="#d33" x="293.06" y="1297.34" fill="#e9bac4"/>
<use href="#d39" x="328.52" y="1297.34" fill="#e9bac4"/>
<use href="#d33" x="328.52" y="1297.34" fill="#799d62"/>
<use href="#d39" x="363.98" y="1297.34" fill="#799d62"/>
<use href="#d33" x="363.98" y="1297.34" fill="#e7723a"/>
<use href="#d39" x="399.44" y="1297.34" fill="#e7723a"/>
<use href="#d33" x="399.44" y="1297.34" fill="#799d62"/>
<use href="#d39" x="434.9" y="1297.34" fill="#fbdea6"/>
<use href="#d33" x="434.9" y="1297.34" fill="#799d62"/>
<use href="#d39" x="470.36" y="1297.34" fill="#fbdea6"/>
<use href="#d33" x="470.36" y="1297.34" fill="#799d62"/>
<use href="#d39" x="505.82" y="1297.34" fill="#e7723a"/>
<use href="#d33" x="505.82" y="1297.34" fill="#fbdea6"/>
<use href="#d39" x="541.28" y="1297.34" fill="#fbdea6"/>
<use href="#d33" x="541.28" y="1297.34" fill="#e7723a"/>
<use href="#d39" x="576.74" y="1297.34" fill="#799d62"/>
<use href="#d33" x="576.74" y="1297.34" fill="#fbdea6"/>
<use href="#d39" x="612.2" y="1297.34" fill="#fbdea6"/>
<use href="#d33" x="612.2" y="1297.34" fill="#e9bac4"/>
<use href="#d39" x="647.66" y="1297.34" fill="#fbdea6"/>
<use href="#d33" x="647.66" y="1297.34" fill="#e7723a"/>
<use href="#d39" x="683.12" y="1297.34" fill="#799d62"/>
<use href="#d33" x="683.12" y="1297.34" fill="#e9bac4"/>
<use href="#d39" x="718.58" y="1297.34" fill="#e9bac4"/>
<use href="#d33" x="718.58" y="1297.34" fill="#e7723a"/>
<use href="#d39" x="754.04" y="1297.34" fill="#fbdea6"/>
<use href="#d33" x="754.04" y="1297.34" fill="#e9bac4"/>
<use href="#d39" x="789.5" y="1297.34" fill="#e7723a"/>
<use href="#d33" x="789.5" y="1297.34" fill="#e9bac4"/>
<use href="#d39" x="824.96" y="1297.34" fill="#e7723a"/>
<use href="#d33" x="824.96" y="1297.34" fill="#799d62"/>
<use href="#d39" x="860.42" y="1297.34" fill="#e9bac4"/>
<use href="#d33" x="860.42" y="1297.34" fill="#e7723a"/>
<use href="#d39" x="895.88" y="1297.34" fill="#e7723a"/>
<use href="#d33" x="895.88" y="1297.34" fill="#e9bac4"/>
<use href="#d39" x="931.34" y="1297.34" fill="#e7723a"/>
<use href="#d33" x="931.34" y="1297.34" fill="#e9bac4"/>
<use href="#d39" x="966.8" y="1297.34" fill="#e9bac4"/>
<use href="#d33" x="966.8" y="1297.34" fill="#fbdea6"/>
<use href="#d39" x="1002.26" y="1297.34" fill="#e9bac4"/>
<use href="#d33" x="1002.26" y="1297.34" fill="#fbdea6"/>
<use href="#d39" x="1037.72" y="1297.34" fill="#799d62"/>
<use href="#d33" x="1037.72" y="1297.34" fill="#e9bac4"/>
<use href="#d39" x="1073.18" y="1297.34" fill="#799d62"/>
<use href="#d33" x="1073.18" y="1297.34" fill="#fbdea6"/>
<use href="#d39" x="1108.64" y="1297.34" fill="#e9bac4"/>
<use href="#d33" x="1108.64" y="1297.34" fill="#799d62"/>
<use href="#d39" x="1144.1" y="1297.34" fill="#799d62"/>
<use href="#d33" x="1144.1" y="1297.34" fill="#e9bac4"/>
<use href="#d39" x="1179.56" y="1297.34" fill="#799d62"/>
<use href="#d33" x="1179.56" y="1297.34" fill="#fbdea6"/>
<use href="#d39" x="1215.02" y="1297.34" fill="#fbdea6"/>
<use href="#d33" x="1215.02" y="1297.34" fill="#e7723a"/>
<use href="#d39" x="1250.48" y="1297.34" fill="#e7723a"/>
<use href="#d33" x="1250.48" y="1297.34" fill="#e9bac4"/>
<use href="#d39" x="1285.94" y="1297.34" fill="#e9bac4"/>
<use href="#d33" x="1285.94" y="1297.34" fill="#fbdea6"/>
<use href="#d39" x="1321.4" y="1297.34" fill="#fbdea6"/>
<use href="#d33" x="1321.4" y="1297.34" fill="#799d62"/>
<use href="#d39" x="1356.86" y="1297.34" fill="#e9bac4"/>
<use href="#d33" x="1356.86" y="1297.34" fill="#e7723a"/>
<use href="#d39" x="1392.32" y="1297.34" fill="#e7723a"/>
<use href="#d33" x="1392.32" y="1297.34" fill="#e9bac4"/>
<use href="#d39" x="1427.78" y="1297.34" fill="#e7723a"/>
<use href="#d33" x="1427.78" y="1297.34" fill="#799d62"/>
<use href="#d39" x="1463.24" y="1297.34" fill="#799d62"/>
<use href="#d33" x="1463.24" y="1297.34" fill="#e9bac4"/>
<use href="#d39" x="1498.7" y="1297.34" fill="#fbdea6"/>
<use href="#d33" x="1498.7" y="1297.34" fill="#e7723a"/>
<use href="#d39" x="1534.16" y="1297.34" fill="#e7723a"/>
<use href="#d33" x="1534.16" y="1297.34" fill="#e9bac4"/>
<use href="#d39" x="1569.62" y="1297.34" fill="#799d62"/>
<use href="#d33" x="1569.62" y="1297.34" fill="#fbdea6"/>
<use href="#d39" x="1605.08" y="1297.34" fill="#fbdea6"/>
<use href="#d33" x="1605.08" y="1297.34" fill="#799d62"/>
<use href="#d39" x="1640.54" y="1297.34" fill="#e7723a"/>
<use href="#d33" x="1640.54" y="1297.34" fill="#e9bac4"/>
<use href="#d39" x="1676" y="1297.34" fill="#e7723a"/>
<use href="#d33" x="1676" y="1297.34" fill="#e9bac4"/>
<use href="#d39" x="1711.46" y="1297.34" fill="#799d62"/>
<use href="#d33" x="1711.46" y="1297.34" fill="#fbdea6"/>
<use href="#d39" x="1746.92" y="1297.34" fill="#799d62"/>
<use href="#d33" x="1746.92" y="1297.34" fill="#fbdea6"/>
<use href="#d39" x="1782.38" y="1297.34" fill="#e7723a"/>
<use href="#d33" x="1782.38" y="1297.34" fill="#e9bac4"/>
<use href="#d39" x="1817.84" y="1297.34" fill="#e7723a"/>
<use href="#d33" x="1817.84" y="1297.34" fill="#e9bac4"/>
<use href="#d39" x="80.3" y="1321.81" fill="#e7723a"/>
<use href="#d33" x="80.3" y="1321.81" fill="#e9bac4"/>
<use href="#d37" x="115.76" y="1321.81" fill="#e9bac4"/>
<use href="#d39" x="151.22" y="1321.81" fill="#e9bac4"/>
<use href="#d33" x="151.22" y="1321.81" fill="#799d62"/>
<use href="#d39" x="186.68" y="1321.81" fill="#e7723a"/>
<use href="#d33" x="186.68" y="1321.81" fill="#e9bac4"/>
<use href="#d39" x="222.14" y="1321.81" fill="#e7723a"/>
<use href="#d33" x="222.14" y="1321.81" fill="#e9bac4"/>
<use href="#d39" x="257.6" y="1321.81" fill="#e9bac4"/>
<use href="#d33" x="257.6" y="1321.81" fill="#e7723a"/>
<use href="#d39" x="293.06" y="1321.81" fill="#e7723a"/>
<use href="#d33" x="293.06" y="1321.81" fill="#e9bac4"/>
<use href="#d39" x="328.52" y="1321.81" fill="#e9bac4"/>
<use href="#d33" x="328.52" y="1321.81" fill="#e7723a"/>
<use href="#d39" x="363.98" y="1321.81" fill="#e7723a"/>
<use href="#d33" x="363.98" y="1321.81" fill="#799d62"/>
<use href="#d39" x="399.44" y="1321.81" fill="#799d62"/>
<use href="#d33" x="399.44" y="1321.81" fill="#e7723a"/>
<use href="#d39" x="434.9" y="1321.81" fill="#e7723a"/>
<use href="#d33" x="434.9" y="1321.81" fill="#fbdea6"/>
<use href="#d39" x="470.36" y="1321.81" fill="#e7723a"/>
<use href="#d33" x="470.36" y="1321.81" fill="#fbdea6"/>
<use href="#d39" x="505.82" y="1321.81" fill="#fbdea6"/>
<use href="#d33" x="505.82" y="1321.81" fill="#fbdea6"/>
<use href="#d39" x="541.28" y="1321.81" fill="#fbdea6"/>
<use href="#d33" x="541.28" y="1321.81" fill="#fbdea6"/>
<use href="#d39" x="576.74" y="1321.81" fill="#fbdea6"/>
<use href="#d33" x="576.74" y="1321.81" fill="#fbdea6"/>
<use href="#d39" x="612.2" y="1321.81" fill="#fbdea6"/>
<use href="#d33" x="612.2" y="1321.81" fill="#e7723a"/>
<use href="#d39" x="647.66" y="1321.81" fill="#e9bac4"/>
<use href="#d33" x="647.66" y="1321.81" fill="#fbdea6"/>
<use href="#d39" x="683.12" y="1321.81" fill="#e9bac4"/>
<use href="#d33" x="683.12" y="1321.81" fill="#e7723a"/>
<use href="#d39" x="718.58" y="1321.81" fill="#e9bac4"/>
<use href="#d33" x="718.58" y="1321.81" fill="#799d62"/>
<use href="#d39" x="754.04" y="1321.81" fill="#e9bac4"/>
<use href="#d33" x="754.04" y="1321.81" fill="#e7723a"/>
<use href="#d39" x="789.5" y="1321.81" fill="#e7723a"/>
<use href="#d33" x="789.5" y="1321.81" fill="#799d62"/>
<use href="#d39" x="824.96" y="1321.81" fill="#799d62"/>
<use href="#d33" x="824.96" y="1321.81" fill="#e7723a"/>
<use href="#d39" x="860.42" y="1321.81" fill="#e7723a"/>
<use href="#d33" x="860.42" y="1321.81" fill="#e9bac4"/>
<use href="#d39" x="895.88" y="1321.81" fill="#e7723a"/>
<use href="#d33" x="895.88" y="1321.81" fill="#799d62"/>
<use href="#d39" x="931.34" y="1321.81" fill="#e7723a"/>
<use href="#d33" x="931.34" y="1321.81" fill="#fbdea6"/>
<use href="#d39" x="966.8" y="1321.81" fill="#fbdea6"/>
<use href="#d33" x="966.8" y="1321.81" fill="#e9bac4"/>
<use href="#d39" x="1002.26" y="1321.81" fill="#e9bac4"/>
<use href="#d33" x="1002.26" y="1321.81" fill="#799d62"/>
<use href="#d39" x="1037.72" y="1321.81" fill="#e9bac4"/>
<use href="#d33" x="1037.72" y="1321.81" fill="#799d62"/>
<use href="#d39" x="1073.18" y="1321.81" fill="#fbdea6"/>
<use href="#d33" x="1073.18" y="1321.81" fill="#e7723a"/>
<use href="#d39" x="1108.64" y="1321.81" fill="#799d62"/>
<use href="#d33" x="1108.64" y="1321.81" fill="#e9bac4"/>
<use href="#d39" x="1144.1" y="1321.81" fill="#e9bac4"/>
<use href="#d33" x="1144.1" y="1321.81" fill="#799d62"/>
<use href="#d39" x="1179.56" y="1321.81" fill="#799d62"/>
<use href="#d33" x="1179.56" y="1321.81" fill="#e9bac4"/>
<use href="#d39" x="1215.02" y="1321.81" fill="#e7723a"/>
<use href="#d33" x="1215.02" y="1321.81" fill="#e9bac4"/>
<use href="#d39" x="1250.48" y="1321.81" fill="#e9bac4"/>
<use href="#d33" x="1250.48" y="1321.81" fill="#e9bac4"/>
<use href="#d39" x="1285.94" y="1321.81" fill="#fbdea6"/>
<use href="#d33" x="1285.94" y="1321.81" fill="#799d62"/>
<use href="#d39" x="1321.4" y="1321.81" fill="#fbdea6"/>
<use href="#d33" x="1321.4" y="1321.81" fill="#799d62"/>
<use href="#d39" x="1356.86" y="1321.81" fill="#fbdea6"/>
<use href="#d33" x="1356.86" y="1321.81" fill="#e9bac4"/>
<use href="#d39" x="1392.32" y="1321.81" fill="#e9bac4"/>
<use href="#d33" x="1392.32" y="1321.81" fill="#e7723a"/>
<use href="#d39" x="1427.78" y="1321.81" fill="#fbdea6"/>
<use href="#d33" x="1427.78" y="1321.81" fill="#799d62"/>
<use href="#d39" x="1463.24" y="1321.81" fill="#799d62"/>
<use href="#d33" x="1463.24" y="1321.81" fill="#fbdea6"/>
<use href="#d39" x="1498.7" y="1321.81" fill="#fbdea6"/>
<use href="#d33" x="1498.7" y="1321.81" fill="#e7723a"/>
<use href="#d39" x="1534.16" y="1321.81" fill="#e9bac4"/>
<use href="#d33" x="1534.16" y="1321.81" fill="#e9bac4"/>
<use href="#d39" x="1569.62" y="1321.81" fill="#fbdea6"/>
<use href="#d33" x="1569.62" y="1321.81" fill="#799d62"/>
<use href="#d39" x="1605.08" y="1321.81" fill="#799d62"/>
<use href="#d33" x="1605.08" y="1321.81" fill="#fbdea6"/>
<use href="#d39" x="1640.54" y="1321.81" fill="#e7723a"/>
<use href="#d33" x="1640.54" y="1321.81" fill="#e9bac4"/>
<use href="#d39" x="1676" y="1321.81" fill="#e9bac4"/>
<use href="#d33" x="1676" y="1321.81" fill="#fbdea6"/>
<use href="#d39" x="1711.46" y="1321.81" fill="#fbdea6"/>
<use href="#d33" x="1711.46" y="1321.81" fill="#799d62"/>
<use href="#d39" x="1746.92" y="1321.81" fill="#fbdea6"/>
<use href="#d33" x="1746.92" y="1321.81" fill="#e7723a"/>
<use href="#d39" x="1782.38" y="1321.81" fill="#e9bac4"/>
<use href="#d33" x="1782.38" y="1321.81" fill="#e7723a"/>
<use href="#d39" x="1817.84" y="1321.81" fill="#e9bac4"/>
<use href="#d33" x="1817.84" y="1321.81" fill="#e7723a"/>
<use href="#d39" x="80.3" y="1346.28" fill="#e7723a"/>
<use href="#d33" x="80.3" y="1346.28" fill="#e9bac4"/>
<use href="#d37" x="115.76" y="1346.28" fill="#e9bac4"/>
<use href="#d39" x="151.22" y="1346.28" fill="#e9bac4"/>
<use href="#d33" x="151.22" y="1346.28" fill="#e9bac4"/>
<use href="#d39" x="186.68" y="1346.28" fill="#e9bac4"/>
<use href="#d33" x="186.68" y="1346.28" fill="#e9bac4"/>
<use href="#d41" x="222.14" y="1346.28" fill="#e9bac4"/>
<use href="#d33" x="222.14" y="1346.28" fill="#e9bac4"/>
<use href="#d37" x="257.6" y="1346.28" fill="#e9bac4"/>
<use href="#d39" x="293.06" y="1346.28" fill="#e9bac4"/>
<use href="#d33" x="293.06" y="1346.28" fill="#e7723a"/>
<use href="#d39" x="328.52" y="1346.28" fill="#799d62"/>
<use href="#d33" x="328.52" y="1346.28" fill="#e9bac4"/>
<use href="#d39" x="363.98" y="1346.28" fill="#e7723a"/>
<use href="#d33" x="363.98" y="1346.28" fill="#799d62"/>
<use href="#d39" x="399.44" y="1346.28" fill="#fbdea6"/>
<use href="#d33" x="399.44" y="1346.28" fill="#e7723a"/>
<use href="#d39" x="434.9" y="1346.28" fill="#fbdea6"/>
<use href="#d33" x="434.9" y="1346.28" fill="#fbdea6"/>
<use href="#d39" x="470.36" y="1346.28" fill="#fbdea6"/>
<use href="#d33" x="470.36" y="1346.28" fill="#799d62"/>
<use href="#d39" x="505.82" y="1346.28" fill="#fbdea6"/>
<use href="#d33" x="505.82" y="1346.28" fill="#fbdea6"/>
<use href="#d39" x="541.28" y="1346.28" fill="#fbdea6"/>
<use href="#d33" x="541.28" y="1346.28" fill="#fbdea6"/>
<use href="#d39" x="576.74" y="1346.28" fill="#fbdea6"/>
<use href="#d33" x="576.74" y="1346.28" fill="#fbdea6"/>
<use href="#d39" x="612.2" y="1346.28" fill="#fbdea6"/>
<use href="#d33" x="612.2" y="1346.28" fill="#799d62"/>
<use href="#d39" x="647.66" y="1346.28" fill="#e7723a"/>
<use href="#d33" x="647.66" y="1346.28" fill="#fbdea6"/>
<use href="#d39" x="683.12" y="1346.28" fill="#fbdea6"/>
<use href="#d33" x="683.12" y="1346.28" fill="#799d62"/>
<use href="#d39" x="718.58" y="1346.28" fill="#e7723a"/>
<use href="#d33" x="718.58" y="1346.28" fill="#fbdea6"/>
<use href="#d39" x="754.04" y="1346.28" fill="#e7723a"/>
<use href="#d33" x="754.04" y="1346.28" fill="#e9bac4"/>
<use href="#d39" x="789.5" y="1346.28" fill="#799d62"/>
<use href="#d33" x="789.5" y="1346.28" fill="#e7723a"/>
<use href="#d41" x="824.96" y="1346.28" fill="#e7723a"/>
<use href="#d33" x="824.96" y="1346.28" fill="#e7723a"/>
<use href="#d37" x="860.42" y="1346.28" fill="#e7723a"/>
<use href="#d39" x="895.88" y="1346.28" fill="#e7723a"/>
<use href="#d33" x="895.88" y="1346.28" fill="#e9bac4"/>
<use href="#d39" x="931.34" y="1346.28" fill="#e9bac4"/>
<use href="#d33" x="931.34" y="1346.28" fill="#e7723a"/>
<use href="#d39" x="966.8" y="1346.28" fill="#799d62"/>
<use href="#d33" x="966.8" y="1346.28" fill="#e7723a"/>
<use href="#d39" x="1002.26" y="1346.28" fill="#799d62"/>
<use href="#d33" x="1002.26" y="1346.28" fill="#e9bac4"/>
<use href="#d39" x="1037.72" y="1346.28" fill="#fbdea6"/>
<use href="#d33" x="1037.72" y="1346.28" fill="#799d62"/>
<use href="#d39" x="1073.18" y="1346.28" fill="#799d62"/>
<use href="#d33" x="1073.18" y="1346.28" fill="#799d62"/>
<use href="#d39" x="1108.64" y="1346.28" fill="#799d62"/>
<use href="#d33" x="1108.64" y="1346.28" fill="#799d62"/>
<use href="#d39" x="1144.1" y="1346.28" fill="#799d62"/>
<use href="#d33" x="1144.1" y="1346.28" fill="#fbdea6"/>
<use href="#d39" x="1179.56" y="1346.28" fill="#e9bac4"/>
<use href="#d33" x="1179.56" y="1346.28" fill="#799d62"/>
<use href="#d39" x="1215.02" y="1346.28" fill="#e7723a"/>
<use href="#d33" x="1215.02" y="1346.28" fill="#e9bac4"/>
<use href="#d39" x="1250.48" y="1346.28" fill="#e7723a"/>
<use href="#d33" x="1250.48" y="1346.28" fill="#e9bac4"/>
<use href="#d39" x="1285.94" y="1346.28" fill="#e7723a"/>
<use href="#d33" x="1285.94" y="1346.28" fill="#fbdea6"/>
<use href="#d39" x="1321.4" y="1346.28" fill="#fbdea6"/>
<use href="#d33" x="1321.4" y="1346.28" fill="#799d62"/>
<use href="#d39" x="1356.86" y="1346.28" fill="#fbdea6"/>
<use href="#d33" x="1356.86" y="1346.28" fill="#e9bac4"/>
<use href="#d39" x="1392.32" y="1346.28" fill="#e9bac4"/>
<use href="#d33" x="1392.32" y="1346.28" fill="#fbdea6"/>
<use href="#d40" x="1427.78" y="1346.28"/>
<use href="#d33" x="1427.78" y="1346.28" fill="#e9bac4"/>
<use href="#d39" x="1463.24" y="1346.28" fill="#799d62"/>
<use href="#d33" x="1463.24" y="1346.28" fill="#e7723a"/>
<use href="#d40" x="1498.7" y="1346.28"/>
<use href="#d33" x="1498.7" y="1346.28" fill="#799d62"/>
<use href="#d39" x="1534.16" y="1346.28" fill="#e7723a"/>
<use href="#d33" x="1534.16" y="1346.28" fill="#e9bac4"/>
<use href="#d40" x="1569.62" y="1346.28"/>
<use href="#d33" x="1569.62" y="1346.28" fill="#fbdea6"/>
<use href="#d39" x="1605.08" y="1346.28" fill="#fbdea6"/>
<use href="#d33" x="1605.08" y="1346.28" fill="#799d62"/>
<use href="#d39" x="1640.54" y="1346.28" fill="#fbdea6"/>
<use href="#d33" x="1640.54" y="1346.28" fill="#e9bac4"/>
<use href="#d39" x="1676" y="1346.28" fill="#e7723a"/>
<use href="#d33" x="1676" y="1346.28" fill="#e9bac4"/>
<use href="#d39" x="1711.46" y="1346.28" fill="#799d62"/>
<use href="#d33" x="1711.46" y="1346.28" fill="#fbdea6"/>
<use href="#d39" x="1746.92" y="1346.28" fill="#799d62"/>
<use href="#d33" x="1746.92" y="1346.28" fill="#fbdea6"/>
<use href="#d39" x="1782.38" y="1346.28" fill="#e7723a"/>
<use href="#d33" x="1782.38" y="1346.28" fill="#e9bac4"/>
<use href="#d39" x="1817.84" y="1346.28" fill="#e9bac4"/>
<use href="#d33" x="1817.84" y="1346.28" fill="#e7723a"/>
<use href="#d39" x="80.3" y="1370.75" fill="#e9bac4"/>
<use href="#d33" x="80.3" y="1370.75" fill="#e9bac4"/>
<use href="#d37" x="115.76" y="1370.75" fill="#e9bac4"/>
<use href="#d39" x="151.22" y="1370.75" fill="#e9bac4"/>
<use href="#d33" x="151.22" y="1370.75" fill="#e7723a"/>
<use href="#d39" x="186.68" y="1370.75" fill="#e9bac4"/>
<use href="#d33" x="186.68" y="1370.75" fill="#e9bac4"/>
<use href="#d39" x="293.06" y="1370.75" fill="#e9bac4"/>
<use href="#d33" x="293.06" y="1370.75" fill="#799d62"/>
<use href="#d39" x="328.52" y="1370.75" fill="#e9bac4"/>
<use href="#d33" x="328.52" y="1370.75" fill="#e7723a"/>
<use href="#d39" x="363.98" y="1370.75" fill="#e7723a"/>
<use href="#d33" x="363.98" y="1370.75" fill="#799d62"/>
<use href="#d37" x="399.44" y="1370.75" fill="#799d62"/>
<use href="#d40" x="434.9" y="1370.75"/>
<use href="#d33" x="434.9" y="1370.75" fill="#799d62"/>
<use href="#d37" x="470.36" y="1370.75" fill="#fbdea6"/>
<use href="#d39" x="505.82" y="1370.75" fill="#fbdea6"/>
<use href="#d33" x="505.82" y="1370.75" fill="#fbdea6"/>
<use href="#d37" x="541.28" y="1370.75" fill="#fbdea6"/>
<use href="#d37" x="576.74" y="1370.75" fill="#fbdea6"/>
<use href="#d39" x="612.2" y="1370.75" fill="#fbdea6"/>
<use href="#d33" x="612.2" y="1370.75" fill="#fbdea6"/>
<use href="#d37" x="647.66" y="1370.75" fill="#e7723a"/>
<use href="#d39" x="683.12" y="1370.75" fill="#fbdea6"/>
<use href="#d33" x="683.12" y="1370.75" fill="#e9bac4"/>
<use href="#d37" x="718.58" y="1370.75" fill="#e9bac4"/>
<use href="#d39" x="754.04" y="1370.75" fill="#799d62"/>
<use href="#d33" x="754.04" y="1370.75" fill="#e7723a"/>
<use href="#d37" x="789.5" y="1370.75" fill="#e7723a"/>
<use href="#d39" x="895.88" y="1370.75" fill="#e7723a"/>
<use href="#d33" x="895.88" y="1370.75" fill="#799d62"/>
<use href="#d37" x="931.34" y="1370.75" fill="#799d62"/>
<use href="#d39" x="966.8" y="1370.75" fill="#e9bac4"/>
<use href="#d33" x="966.8" y="1370.75" fill="#fbdea6"/>
<use href="#d39" x="1002.26" y="1370.75" fill="#e9bac4"/>
<use href="#d33" x="1002.26" y="1370.75" fill="#799d62"/>
<use href="#d39" x="1037.72" y="1370.75" fill="#799d62"/>
<use href="#d33" x="1037.72" y="1370.75" fill="#799d62"/>
<use href="#d39" x="1073.18" y="1370.75" fill="#799d62"/>
<use href="#d33" x="1073.18" y="1370.75" fill="#799d62"/>
<use href="#d37" x="1108.64" y="1370.75" fill="#799d62"/>
<use href="#d39" x="1144.1" y="1370.75" fill="#799d62"/>
<use href="#d33" x="1144.1" y="1370.75" fill="#e9bac4"/>
<use href="#d39" x="1179.56" y="1370.75" fill="#799d62"/>
<use href="#d33" x="1179.56" y="1370.75" fill="#e9bac4"/>
<use href="#d39" x="1215.02" y="1370.75" fill="#fbdea6"/>
<use href="#d33" x="1215.02" y="1370.75" fill="#e7723a"/>
<use href="#d40" x="1250.48" y="1370.75"/>
<use href="#d33" x="1250.48" y="1370.75" fill="#e9bac4"/>
<use href="#d39" x="1285.94" y="1370.75" fill="#799d62"/>
<use href="#d33" x="1285.94" y="1370.75" fill="#fbdea6"/>
<use href="#d37" x="1321.4" y="1370.75" fill="#fbdea6"/>
<use href="#d39" x="1356.86" y="1370.75" fill="#799d62"/>
<use href="#d33" x="1356.86" y="1370.75" fill="#e9bac4"/>
<use href="#d37" x="1392.32" y="1370.75" fill="#e9bac4"/>
<use href="#d40" x="1427.78" y="1370.75"/>
<use href="#d33" x="1427.78" y="1370.75" fill="#799d62"/>
<use href="#d37" x="1463.24" y="1370.75" fill="#799d62"/>
<use href="#d39" x="1498.7" y="1370.75" fill="#e9bac4"/>
<use href="#d33" x="1498.7" y="1370.75" fill="#e7723a"/>
<use href="#d37" x="1534.16" y="1370.75" fill="#e9bac4"/>
<use href="#d39" x="1569.62" y="1370.75" fill="#e9bac4"/>
<use href="#d33" x="1569.62" y="1370.75" fill="#fbdea6"/>
<use href="#d37" x="1605.08" y="1370.75" fill="#fbdea6"/>
<use href="#d39" x="1640.54" y="1370.75" fill="#799d62"/>
<use href="#d33" x="1640.54" y="1370.75" fill="#e9bac4"/>
<use href="#d37" x="1676" y="1370.75" fill="#e9bac4"/>
<use href="#d39" x="1711.46" y="1370.75" fill="#fbdea6"/>
<use href="#d33" x="1711.46" y="1370.75" fill="#799d62"/>
<use href="#d37" x="1746.92" y="1370.75" fill="#799d62"/>
<use href="#d39" x="1782.38" y="1370.75" fill="#fbdea6"/>
<use href="#d33" x="1782.38" y="1370.75" fill="#e7723a"/>
<use href="#d37" x="1817.84" y="1370.75" fill="#e7723a"/>
<path d="M1336.7 252.3L1336.7 301" stroke="#d0d0d0" stroke-width="0.8"/>
<path d="M1416.3 252.3L1416.3 306" stroke="#d0d0d0" stroke-width="0.8"/>
<polygon points="1321.4,329.7 1446.4,303.4 1446.4,393.3 1321.4,419" fill="#fff" stroke="#555" stroke-width="0.7"/>
<polygon points="1292.2,312.8 1305.8,323.75 1305.8,433.9 1292.2,424.5" fill="#ffe081" stroke="#6b6226" stroke-width="0.6"/>
<polygon points="1305.8,323.75 1321.4,329.7 1321.4,419 1305.8,433.9" fill="#ffe081" stroke="#6b6226" stroke-width="0.6"/>
<polygon points="1292.2,312.8 1446.4,280 1460.9,289 1305.8,323.75" fill="#5f873c" stroke="#3a4a22" stroke-width="0.6"/>
<polygon points="1305.8,323.75 1460.9,289 1448.75,302.7 1321.4,329.7" fill="#5f873c" stroke="#3a4a22" stroke-width="0.6"/>
<path d="M1307.3 324.6L1307.3 432.6" stroke="#6b6226" stroke-width="0.5"/>
<path d="M1305.8 322L1460.2 287.4" stroke="#3a4a22" stroke-width="0.5"/>
<path d="M1245.6 366.8L1312 366.8" stroke="#cfcfcf" stroke-width="0.8"/>
<path d="M1245.6 392.4L1295 392.4" stroke="#cfcfcf" stroke-width="0.8"/>
<text x="1335.5" y="247.6" font-size="6.45" text-anchor="middle">Horizontal Face B</text>
<text x="1415.2" y="247.6" font-size="6.45" text-anchor="middle">Horizontal Face A</text>
<text x="1191" y="368.9" font-size="6.5">Vertical Face A</text>
<text x="1191" y="393.5" font-size="6.5">Vertical Face B</text>
<polygon points="1710.4,349.8 1820.3,349.8 1820.3,434.2 1710.4,434.2" fill="#fff" stroke="#777" stroke-width="0.8"/>
<polygon points="1625.8,317.3 1662.9,317.3 1662.9,434.2 1625.8,434.2" fill="#ffe081" stroke="#8a8350" stroke-width="0.7" stroke-dasharray="2 1.5"/>
<polygon points="1662.9,317.3 1710.4,349.8 1710.4,434.2 1662.9,434.2" fill="#ffe081" stroke="#5d5626" stroke-width="0.7"/>
<polygon points="1662.9,280.4 1820.3,280.4 1820.3,317.3 1662.9,317.3" fill="#5f873c" stroke="#3c4d24" stroke-width="0.7" stroke-dasharray="2 1.5"/>
<polygon points="1662.9,317.3 1820.3,317.3 1820.3,349.8 1710.4,349.8" fill="#5f873c" stroke="#3a4a22" stroke-width="0.7"/>
<text x="1748.8" y="302.3" font-size="6.6" text-anchor="middle">Horizontal Face B</text>
<text x="1748.8" y="334.1" font-size="6.6" text-anchor="middle">Horizontal Face A</text>
<text x="1644.3" y="373.2" font-size="6.6" text-anchor="middle">Vertical</text>
<text x="1644.3" y="380.7" font-size="6.6" text-anchor="middle">Face B</text>
<text x="1685.3" y="373.2" font-size="6.6" text-anchor="middle">Vertical</text>
<text x="1685.3" y="380.7" font-size="6.6" text-anchor="middle">Face A</text>
<rect x="1329.8" y="577.4" width="38.2" height="8.3" fill="#fbdea6"/>
<path d="M1329.8 585.7V577.4H1368V585.7" fill="none" stroke="#a4a4a4" stroke-width=".85" stroke-dasharray="3.6 2"/>
<polygon points="1329.8,585.7 1368,585.7 1368,594.2 1340.8,594.2" fill="#fbdea6" stroke="#333" stroke-width="0.85"/>
<rect x="1427.4" y="577.4" width="38.2" height="8.3" fill="#e7723a"/>
<path d="M1427.4 585.7V577.4H1465.6V585.7" fill="none" stroke="#a4a4a4" stroke-width=".85" stroke-dasharray="3.6 2"/>
<polygon points="1427.4,585.7 1465.6,585.7 1465.6,594.2 1438.4,594.2" fill="#e7723a" stroke="#333" stroke-width="0.85"/>
<rect x="1525" y="577.4" width="38.2" height="8.3" fill="#e9bac4"/>
<path d="M1525 585.7V577.4H1563.2V585.7" fill="none" stroke="#a4a4a4" stroke-width=".85" stroke-dasharray="3.6 2"/>
<polygon points="1525,585.7 1563.2,585.7 1563.2,594.2 1536,594.2" fill="#e9bac4" stroke="#333" stroke-width="0.85"/>
<rect x="1622.6" y="577.4" width="38.2" height="8.3" fill="#f5f5f1"/>
<path d="M1622.6 585.7V577.4H1660.8V585.7" fill="none" stroke="#a4a4a4" stroke-width=".85" stroke-dasharray="3.6 2"/>
<polygon points="1622.6,585.7 1660.8,585.7 1660.8,594.2 1633.6,594.2" fill="#f5f5f1" stroke="#333" stroke-width="0.85"/>
<rect x="1720.2" y="577.4" width="38.2" height="8.3" fill="#799d62"/>
<path d="M1720.2 585.7V577.4H1758.4V585.7" fill="none" stroke="#a4a4a4" stroke-width=".85" stroke-dasharray="3.6 2"/>
<polygon points="1720.2,585.7 1758.4,585.7 1758.4,594.2 1731.2,594.2" fill="#799d62" stroke="#333" stroke-width="0.85"/>
<rect x="1817.8" y="577.4" width="38.2" height="8.3" fill="#9dcdcc"/>
<path d="M1817.8 585.7V577.4H1856V585.7" fill="none" stroke="#a4a4a4" stroke-width=".85" stroke-dasharray="3.6 2"/>
<polygon points="1817.8,585.7 1856,585.7 1856,594.2 1828.8,594.2" fill="#9dcdcc" stroke="#333" stroke-width="0.85"/>
<rect x="1249.6" y="636.7" width="8.9" height="28.5" fill="#fbdea6"/>
<path d="M1258.5 636.7H1249.6V665.2H1258.5" fill="none" stroke="#a4a4a4" stroke-width=".85" stroke-dasharray="3.6 2"/>
<polygon points="1258.5,636.2 1270.3,645.2 1270.3,665.2 1258.5,665.2" fill="#fbdea6" stroke="#333" stroke-width="0.85"/>
<rect x="1320.9" y="636.7" width="8.9" height="28.5" fill="#fbdea6"/>
<path d="M1329.8 636.7H1320.9V665.2H1329.8" fill="none" stroke="#a4a4a4" stroke-width=".85" stroke-dasharray="3.6 2"/>
<polygon points="1329.8,636.2 1341.6,645.2 1341.6,665.2 1329.8,665.2" fill="#fbdea6" stroke="#333" stroke-width="0.85"/>
<rect x="1329.8" y="627.9" width="38.2" height="8.3" fill="#fbdea6"/>
<path d="M1329.8 636.2V627.9H1368V636.2" fill="none" stroke="#a4a4a4" stroke-width=".85" stroke-dasharray="3.6 2"/>
<polygon points="1329.8,636.2 1368,636.2 1368,644.7 1340.8,644.7" fill="#fbdea6" stroke="#333" stroke-width="0.85"/>
<rect x="1418.5" y="636.7" width="8.9" height="28.5" fill="#fbdea6"/>
<path d="M1427.4 636.7H1418.5V665.2H1427.4" fill="none" stroke="#a4a4a4" stroke-width=".85" stroke-dasharray="3.6 2"/>
<polygon points="1427.4,636.2 1439.2,645.2 1439.2,665.2 1427.4,665.2" fill="#fbdea6" stroke="#333" stroke-width="0.85"/>
<rect x="1427.4" y="627.9" width="38.2" height="8.3" fill="#e7723a"/>
<path d="M1427.4 636.2V627.9H1465.6V636.2" fill="none" stroke="#a4a4a4" stroke-width=".85" stroke-dasharray="3.6 2"/>
<polygon points="1427.4,636.2 1465.6,636.2 1465.6,644.7 1438.4,644.7" fill="#e7723a" stroke="#333" stroke-width="0.85"/>
<rect x="1516.1" y="636.7" width="8.9" height="28.5" fill="#fbdea6"/>
<path d="M1525 636.7H1516.1V665.2H1525" fill="none" stroke="#a4a4a4" stroke-width=".85" stroke-dasharray="3.6 2"/>
<polygon points="1525,636.2 1536.8,645.2 1536.8,665.2 1525,665.2" fill="#fbdea6" stroke="#333" stroke-width="0.85"/>
<rect x="1525" y="627.9" width="38.2" height="8.3" fill="#e9bac4"/>
<path d="M1525 636.2V627.9H1563.2V636.2" fill="none" stroke="#a4a4a4" stroke-width=".85" stroke-dasharray="3.6 2"/>
<polygon points="1525,636.2 1563.2,636.2 1563.2,644.7 1536,644.7" fill="#e9bac4" stroke="#333" stroke-width="0.85"/>
<rect x="1613.7" y="636.7" width="8.9" height="28.5" fill="#fbdea6"/>
<path d="M1622.6 636.7H1613.7V665.2H1622.6" fill="none" stroke="#a4a4a4" stroke-width=".85" stroke-dasharray="3.6 2"/>
<polygon points="1622.6,636.2 1634.4,645.2 1634.4,665.2 1622.6,665.2" fill="#fbdea6" stroke="#333" stroke-width="0.85"/>
<rect x="1622.6" y="627.9" width="38.2" height="8.3" fill="#f5f5f1"/>
<path d="M1622.6 636.2V627.9H1660.8V636.2" fill="none" stroke="#a4a4a4" stroke-width=".85" stroke-dasharray="3.6 2"/>
<polygon points="1622.6,636.2 1660.8,636.2 1660.8,644.7 1633.6,644.7" fill="#f5f5f1" stroke="#333" stroke-width="0.85"/>
<rect x="1711.3" y="636.7" width="8.9" height="28.5" fill="#fbdea6"/>
<path d="M1720.2 636.7H1711.3V665.2H1720.2" fill="none" stroke="#a4a4a4" stroke-width=".85" stroke-dasharray="3.6 2"/>
<polygon points="1720.2,636.2 1732,645.2 1732,665.2 1720.2,665.2" fill="#fbdea6" stroke="#333" stroke-width="0.85"/>
<rect x="1720.2" y="627.9" width="38.2" height="8.3" fill="#799d62"/>
<path d="M1720.2 636.2V627.9H1758.4V636.2" fill="none" stroke="#a4a4a4" stroke-width=".85" stroke-dasharray="3.6 2"/>
<polygon points="1720.2,636.2 1758.4,636.2 1758.4,644.7 1731.2,644.7" fill="#799d62" stroke="#333" stroke-width="0.85"/>
<rect x="1808.9" y="636.7" width="8.9" height="28.5" fill="#fbdea6"/>
<path d="M1817.8 636.7H1808.9V665.2H1817.8" fill="none" stroke="#a4a4a4" stroke-width=".85" stroke-dasharray="3.6 2"/>
<polygon points="1817.8,636.2 1829.6,645.2 1829.6,665.2 1817.8,665.2" fill="#fbdea6" stroke="#333" stroke-width="0.85"/>
<rect x="1817.8" y="627.9" width="38.2" height="8.3" fill="#9dcdcc"/>
<path d="M1817.8 636.2V627.9H1856V636.2" fill="none" stroke="#a4a4a4" stroke-width=".85" stroke-dasharray="3.6 2"/>
<polygon points="1817.8,636.2 1856,636.2 1856,644.7 1828.8,644.7" fill="#9dcdcc" stroke="#333" stroke-width="0.85"/>
<text x="1140" y="643.6" font-size="6.5">Colour 1 - Yellow</text>
<text x="1140" y="651.1" font-size="6.5">RAL: To be defined</text>
<rect x="1249.6" y="716.7" width="8.9" height="28.5" fill="#e7723a"/>
<path d="M1258.5 716.7H1249.6V745.2H1258.5" fill="none" stroke="#a4a4a4" stroke-width=".85" stroke-dasharray="3.6 2"/>
<polygon points="1258.5,716.2 1270.3,725.2 1270.3,745.2 1258.5,745.2" fill="#e7723a" stroke="#333" stroke-width="0.85"/>
<rect x="1320.9" y="716.7" width="8.9" height="28.5" fill="#e7723a"/>
<path d="M1329.8 716.7H1320.9V745.2H1329.8" fill="none" stroke="#a4a4a4" stroke-width=".85" stroke-dasharray="3.6 2"/>
<polygon points="1329.8,716.2 1341.6,725.2 1341.6,745.2 1329.8,745.2" fill="#e7723a" stroke="#333" stroke-width="0.85"/>
<rect x="1329.8" y="707.9" width="38.2" height="8.3" fill="#fbdea6"/>
<path d="M1329.8 716.2V707.9H1368V716.2" fill="none" stroke="#a4a4a4" stroke-width=".85" stroke-dasharray="3.6 2"/>
<polygon points="1329.8,716.2 1368,716.2 1368,724.7 1340.8,724.7" fill="#fbdea6" stroke="#333" stroke-width="0.85"/>
<rect x="1418.5" y="716.7" width="8.9" height="28.5" fill="#e7723a"/>
<path d="M1427.4 716.7H1418.5V745.2H1427.4" fill="none" stroke="#a4a4a4" stroke-width=".85" stroke-dasharray="3.6 2"/>
<polygon points="1427.4,716.2 1439.2,725.2 1439.2,745.2 1427.4,745.2" fill="#e7723a" stroke="#333" stroke-width="0.85"/>
<rect x="1427.4" y="707.9" width="38.2" height="8.3" fill="#e7723a"/>
<path d="M1427.4 716.2V707.9H1465.6V716.2" fill="none" stroke="#a4a4a4" stroke-width=".85" stroke-dasharray="3.6 2"/>
<polygon points="1427.4,716.2 1465.6,716.2 1465.6,724.7 1438.4,724.7" fill="#e7723a" stroke="#333" stroke-width="0.85"/>
<rect x="1516.1" y="716.7" width="8.9" height="28.5" fill="#e7723a"/>
<path d="M1525 716.7H1516.1V745.2H1525" fill="none" stroke="#a4a4a4" stroke-width=".85" stroke-dasharray="3.6 2"/>
<polygon points="1525,716.2 1536.8,725.2 1536.8,745.2 1525,745.2" fill="#e7723a" stroke="#333" stroke-width="0.85"/>
<rect x="1525" y="707.9" width="38.2" height="8.3" fill="#e9bac4"/>
<path d="M1525 716.2V707.9H1563.2V716.2" fill="none" stroke="#a4a4a4" stroke-width=".85" stroke-dasharray="3.6 2"/>
<polygon points="1525,716.2 1563.2,716.2 1563.2,724.7 1536,724.7" fill="#e9bac4" stroke="#333" stroke-width="0.85"/>
<rect x="1613.7" y="716.7" width="8.9" height="28.5" fill="#e7723a"/>
<path d="M1622.6 716.7H1613.7V745.2H1622.6" fill="none" stroke="#a4a4a4" stroke-width=".85" stroke-dasharray="3.6 2"/>
<polygon points="1622.6,716.2 1634.4,725.2 1634.4,745.2 1622.6,745.2" fill="#e7723a" stroke="#333" stroke-width="0.85"/>
<rect x="1622.6" y="707.9" width="38.2" height="8.3" fill="#f5f5f1"/>
<path d="M1622.6 716.2V707.9H1660.8V716.2" fill="none" stroke="#a4a4a4" stroke-width=".85" stroke-dasharray="3.6 2"/>
<polygon points="1622.6,716.2 1660.8,716.2 1660.8,724.7 1633.6,724.7" fill="#f5f5f1" stroke="#333" stroke-width="0.85"/>
<rect x="1711.3" y="716.7" width="8.9" height="28.5" fill="#e7723a"/>
<path d="M1720.2 716.7H1711.3V745.2H1720.2" fill="none" stroke="#a4a4a4" stroke-width=".85" stroke-dasharray="3.6 2"/>
<polygon points="1720.2,716.2 1732,725.2 1732,745.2 1720.2,745.2" fill="#e7723a" stroke="#333" stroke-width="0.85"/>
<rect x="1720.2" y="707.9" width="38.2" height="8.3" fill="#799d62"/>
<path d="M1720.2 716.2V707.9H1758.4V716.2" fill="none" stroke="#a4a4a4" stroke-width=".85" stroke-dasharray="3.6 2"/>
<polygon points="1720.2,716.2 1758.4,716.2 1758.4,724.7 1731.2,724.7" fill="#799d62" stroke="#333" stroke-width="0.85"/>
<rect x="1808.9" y="716.7" width="8.9" height="28.5" fill="#e7723a"/>
<path d="M1817.8 716.7H1808.9V745.2H1817.8" fill="none" stroke="#a4a4a4" stroke-width=".85" stroke-dasharray="3.6 2"/>
<polygon points="1817.8,716.2 1829.6,725.2 1829.6,745.2 1817.8,745.2" fill="#e7723a" stroke="#333" stroke-width="0.85"/>
<rect x="1817.8" y="707.9" width="38.2" height="8.3" fill="#9dcdcc"/>
<path d="M1817.8 716.2V707.9H1856V716.2" fill="none" stroke="#a4a4a4" stroke-width=".85" stroke-dasharray="3.6 2"/>
<polygon points="1817.8,716.2 1856,716.2 1856,724.7 1828.8,724.7" fill="#9dcdcc" stroke="#333" stroke-width="0.85"/>
<text x="1140" y="723.6" font-size="6.5">Colour 2 - Orange</text>
<text x="1140" y="731.1" font-size="6.5">RAL: To be defined</text>
<rect x="1249.6" y="796.7" width="8.9" height="28.5" fill="#e9bac4"/>
<path d="M1258.5 796.7H1249.6V825.2H1258.5" fill="none" stroke="#a4a4a4" stroke-width=".85" stroke-dasharray="3.6 2"/>
<polygon points="1258.5,796.2 1270.3,805.2 1270.3,825.2 1258.5,825.2" fill="#e9bac4" stroke="#333" stroke-width="0.85"/>
<rect x="1320.9" y="796.7" width="8.9" height="28.5" fill="#e9bac4"/>
<path d="M1329.8 796.7H1320.9V825.2H1329.8" fill="none" stroke="#a4a4a4" stroke-width=".85" stroke-dasharray="3.6 2"/>
<polygon points="1329.8,796.2 1341.6,805.2 1341.6,825.2 1329.8,825.2" fill="#e9bac4" stroke="#333" stroke-width="0.85"/>
<rect x="1329.8" y="787.9" width="38.2" height="8.3" fill="#fbdea6"/>
<path d="M1329.8 796.2V787.9H1368V796.2" fill="none" stroke="#a4a4a4" stroke-width=".85" stroke-dasharray="3.6 2"/>
<polygon points="1329.8,796.2 1368,796.2 1368,804.7 1340.8,804.7" fill="#fbdea6" stroke="#333" stroke-width="0.85"/>
<rect x="1418.5" y="796.7" width="8.9" height="28.5" fill="#e9bac4"/>
<path d="M1427.4 796.7H1418.5V825.2H1427.4" fill="none" stroke="#a4a4a4" stroke-width=".85" stroke-dasharray="3.6 2"/>
<polygon points="1427.4,796.2 1439.2,805.2 1439.2,825.2 1427.4,825.2" fill="#e9bac4" stroke="#333" stroke-width="0.85"/>
<rect x="1427.4" y="787.9" width="38.2" height="8.3" fill="#e7723a"/>
<path d="M1427.4 796.2V787.9H1465.6V796.2" fill="none" stroke="#a4a4a4" stroke-width=".85" stroke-dasharray="3.6 2"/>
<polygon points="1427.4,796.2 1465.6,796.2 1465.6,804.7 1438.4,804.7" fill="#e7723a" stroke="#333" stroke-width="0.85"/>
<rect x="1516.1" y="796.7" width="8.9" height="28.5" fill="#e9bac4"/>
<path d="M1525 796.7H1516.1V825.2H1525" fill="none" stroke="#a4a4a4" stroke-width=".85" stroke-dasharray="3.6 2"/>
<polygon points="1525,796.2 1536.8,805.2 1536.8,825.2 1525,825.2" fill="#e9bac4" stroke="#333" stroke-width="0.85"/>
<rect x="1525" y="787.9" width="38.2" height="8.3" fill="#e9bac4"/>
<path d="M1525 796.2V787.9H1563.2V796.2" fill="none" stroke="#a4a4a4" stroke-width=".85" stroke-dasharray="3.6 2"/>
<polygon points="1525,796.2 1563.2,796.2 1563.2,804.7 1536,804.7" fill="#e9bac4" stroke="#333" stroke-width="0.85"/>
<rect x="1613.7" y="796.7" width="8.9" height="28.5" fill="#e9bac4"/>
<path d="M1622.6 796.7H1613.7V825.2H1622.6" fill="none" stroke="#a4a4a4" stroke-width=".85" stroke-dasharray="3.6 2"/>
<polygon points="1622.6,796.2 1634.4,805.2 1634.4,825.2 1622.6,825.2" fill="#e9bac4" stroke="#333" stroke-width="0.85"/>
<rect x="1622.6" y="787.9" width="38.2" height="8.3" fill="#f5f5f1"/>
<path d="M1622.6 796.2V787.9H1660.8V796.2" fill="none" stroke="#a4a4a4" stroke-width=".85" stroke-dasharray="3.6 2"/>
<polygon points="1622.6,796.2 1660.8,796.2 1660.8,804.7 1633.6,804.7" fill="#f5f5f1" stroke="#333" stroke-width="0.85"/>
<rect x="1711.3" y="796.7" width="8.9" height="28.5" fill="#e9bac4"/>
<path d="M1720.2 796.7H1711.3V825.2H1720.2" fill="none" stroke="#a4a4a4" stroke-width=".85" stroke-dasharray="3.6 2"/>
<polygon points="1720.2,796.2 1732,805.2 1732,825.2 1720.2,825.2" fill="#e9bac4" stroke="#333" stroke-width="0.85"/>
<rect x="1720.2" y="787.9" width="38.2" height="8.3" fill="#799d62"/>
<path d="M1720.2 796.2V787.9H1758.4V796.2" fill="none" stroke="#a4a4a4" stroke-width=".85" stroke-dasharray="3.6 2"/>
<polygon points="1720.2,796.2 1758.4,796.2 1758.4,804.7 1731.2,804.7" fill="#799d62" stroke="#333" stroke-width="0.85"/>
<rect x="1808.9" y="796.7" width="8.9" height="28.5" fill="#e9bac4"/>
<path d="M1817.8 796.7H1808.9V825.2H1817.8" fill="none" stroke="#a4a4a4" stroke-width=".85" stroke-dasharray="3.6 2"/>
<polygon points="1817.8,796.2 1829.6,805.2 1829.6,825.2 1817.8,825.2" fill="#e9bac4" stroke="#333" stroke-width="0.85"/>
<rect x="1817.8" y="787.9" width="38.2" height="8.3" fill="#9dcdcc"/>
<path d="M1817.8 796.2V787.9H1856V796.2" fill="none" stroke="#a4a4a4" stroke-width=".85" stroke-dasharray="3.6 2"/>
<polygon points="1817.8,796.2 1856,796.2 1856,804.7 1828.8,804.7" fill="#9dcdcc" stroke="#333" stroke-width="0.85"/>
<text x="1140" y="803.6" font-size="6.5">Colour 3 - Pink</text>
<text x="1140" y="811.1" font-size="6.5">RAL: To be defined</text>
<rect x="1249.6" y="876.7" width="8.9" height="28.5" fill="#f5f5f1"/>
<path d="M1258.5 876.7H1249.6V905.2H1258.5" fill="none" stroke="#a4a4a4" stroke-width=".85" stroke-dasharray="3.6 2"/>
<polygon points="1258.5,876.2 1270.3,885.2 1270.3,905.2 1258.5,905.2" fill="#f5f5f1" stroke="#333" stroke-width="0.85"/>
<rect x="1320.9" y="876.7" width="8.9" height="28.5" fill="#f5f5f1"/>
<path d="M1329.8 876.7H1320.9V905.2H1329.8" fill="none" stroke="#a4a4a4" stroke-width=".85" stroke-dasharray="3.6 2"/>
<polygon points="1329.8,876.2 1341.6,885.2 1341.6,905.2 1329.8,905.2" fill="#f5f5f1" stroke="#333" stroke-width="0.85"/>
<rect x="1329.8" y="867.9" width="38.2" height="8.3" fill="#fbdea6"/>
<path d="M1329.8 876.2V867.9H1368V876.2" fill="none" stroke="#a4a4a4" stroke-width=".85" stroke-dasharray="3.6 2"/>
<polygon points="1329.8,876.2 1368,876.2 1368,884.7 1340.8,884.7" fill="#fbdea6" stroke="#333" stroke-width="0.85"/>
<rect x="1418.5" y="876.7" width="8.9" height="28.5" fill="#f5f5f1"/>
<path d="M1427.4 876.7H1418.5V905.2H1427.4" fill="none" stroke="#a4a4a4" stroke-width=".85" stroke-dasharray="3.6 2"/>
<polygon points="1427.4,876.2 1439.2,885.2 1439.2,905.2 1427.4,905.2" fill="#f5f5f1" stroke="#333" stroke-width="0.85"/>
<rect x="1427.4" y="867.9" width="38.2" height="8.3" fill="#e7723a"/>
<path d="M1427.4 876.2V867.9H1465.6V876.2" fill="none" stroke="#a4a4a4" stroke-width=".85" stroke-dasharray="3.6 2"/>
<polygon points="1427.4,876.2 1465.6,876.2 1465.6,884.7 1438.4,884.7" fill="#e7723a" stroke="#333" stroke-width="0.85"/>
<rect x="1516.1" y="876.7" width="8.9" height="28.5" fill="#f5f5f1"/>
<path d="M1525 876.7H1516.1V905.2H1525" fill="none" stroke="#a4a4a4" stroke-width=".85" stroke-dasharray="3.6 2"/>
<polygon points="1525,876.2 1536.8,885.2 1536.8,905.2 1525,905.2" fill="#f5f5f1" stroke="#333" stroke-width="0.85"/>
<rect x="1525" y="867.9" width="38.2" height="8.3" fill="#e9bac4"/>
<path d="M1525 876.2V867.9H1563.2V876.2" fill="none" stroke="#a4a4a4" stroke-width=".85" stroke-dasharray="3.6 2"/>
<polygon points="1525,876.2 1563.2,876.2 1563.2,884.7 1536,884.7" fill="#e9bac4" stroke="#333" stroke-width="0.85"/>
<rect x="1613.7" y="876.7" width="8.9" height="28.5" fill="#f5f5f1"/>
<path d="M1622.6 876.7H1613.7V905.2H1622.6" fill="none" stroke="#a4a4a4" stroke-width=".85" stroke-dasharray="3.6 2"/>
<polygon points="1622.6,876.2 1634.4,885.2 1634.4,905.2 1622.6,905.2" fill="#f5f5f1" stroke="#333" stroke-width="0.85"/>
<rect x="1622.6" y="867.9" width="38.2" height="8.3" fill="#f5f5f1"/>
<path d="M1622.6 876.2V867.9H1660.8V876.2" fill="none" stroke="#a4a4a4" stroke-width=".85" stroke-dasharray="3.6 2"/>
<polygon points="1622.6,876.2 1660.8,876.2 1660.8,884.7 1633.6,884.7" fill="#f5f5f1" stroke="#333" stroke-width="0.85"/>
<rect x="1711.3" y="876.7" width="8.9" height="28.5" fill="#f5f5f1"/>
<path d="M1720.2 876.7H1711.3V905.2H1720.2" fill="none" stroke="#a4a4a4" stroke-width=".85" stroke-dasharray="3.6 2"/>
<polygon points="1720.2,876.2 1732,885.2 1732,905.2 1720.2,905.2" fill="#f5f5f1" stroke="#333" stroke-width="0.85"/>
<rect x="1720.2" y="867.9" width="38.2" height="8.3" fill="#799d62"/>
<path d="M1720.2 876.2V867.9H1758.4V876.2" fill="none" stroke="#a4a4a4" stroke-width=".85" stroke-dasharray="3.6 2"/>
<polygon points="1720.2,876.2 1758.4,876.2 1758.4,884.7 1731.2,884.7" fill="#799d62" stroke="#333" stroke-width="0.85"/>
<rect x="1808.9" y="876.7" width="8.9" height="28.5" fill="#f5f5f1"/>
<path d="M1817.8 876.7H1808.9V905.2H1817.8" fill="none" stroke="#a4a4a4" stroke-width=".85" stroke-dasharray="3.6 2"/>
<polygon points="1817.8,876.2 1829.6,885.2 1829.6,905.2 1817.8,905.2" fill="#f5f5f1" stroke="#333" stroke-width="0.85"/>
<rect x="1817.8" y="867.9" width="38.2" height="8.3" fill="#9dcdcc"/>
<path d="M1817.8 876.2V867.9H1856V876.2" fill="none" stroke="#a4a4a4" stroke-width=".85" stroke-dasharray="3.6 2"/>
<polygon points="1817.8,876.2 1856,876.2 1856,884.7 1828.8,884.7" fill="#9dcdcc" stroke="#333" stroke-width="0.85"/>
<text x="1140" y="883.6" font-size="6.5">Colour 4 - White</text>
<text x="1140" y="891.1" font-size="6.5">RAL: To be defined</text>
<rect x="1249.6" y="956.7" width="8.9" height="28.5" fill="#799d62"/>
<path d="M1258.5 956.7H1249.6V985.2H1258.5" fill="none" stroke="#a4a4a4" stroke-width=".85" stroke-dasharray="3.6 2"/>
<polygon points="1258.5,956.2 1270.3,965.2 1270.3,985.2 1258.5,985.2" fill="#799d62" stroke="#333" stroke-width="0.85"/>
<rect x="1320.9" y="956.7" width="8.9" height="28.5" fill="#799d62"/>
<path d="M1329.8 956.7H1320.9V985.2H1329.8" fill="none" stroke="#a4a4a4" stroke-width=".85" stroke-dasharray="3.6 2"/>
<polygon points="1329.8,956.2 1341.6,965.2 1341.6,985.2 1329.8,985.2" fill="#799d62" stroke="#333" stroke-width="0.85"/>
<rect x="1329.8" y="947.9" width="38.2" height="8.3" fill="#fbdea6"/>
<path d="M1329.8 956.2V947.9H1368V956.2" fill="none" stroke="#a4a4a4" stroke-width=".85" stroke-dasharray="3.6 2"/>
<polygon points="1329.8,956.2 1368,956.2 1368,964.7 1340.8,964.7" fill="#fbdea6" stroke="#333" stroke-width="0.85"/>
<rect x="1418.5" y="956.7" width="8.9" height="28.5" fill="#799d62"/>
<path d="M1427.4 956.7H1418.5V985.2H1427.4" fill="none" stroke="#a4a4a4" stroke-width=".85" stroke-dasharray="3.6 2"/>
<polygon points="1427.4,956.2 1439.2,965.2 1439.2,985.2 1427.4,985.2" fill="#799d62" stroke="#333" stroke-width="0.85"/>
<rect x="1427.4" y="947.9" width="38.2" height="8.3" fill="#e7723a"/>
<path d="M1427.4 956.2V947.9H1465.6V956.2" fill="none" stroke="#a4a4a4" stroke-width=".85" stroke-dasharray="3.6 2"/>
<polygon points="1427.4,956.2 1465.6,956.2 1465.6,964.7 1438.4,964.7" fill="#e7723a" stroke="#333" stroke-width="0.85"/>
<rect x="1516.1" y="956.7" width="8.9" height="28.5" fill="#799d62"/>
<path d="M1525 956.7H1516.1V985.2H1525" fill="none" stroke="#a4a4a4" stroke-width=".85" stroke-dasharray="3.6 2"/>
<polygon points="1525,956.2 1536.8,965.2 1536.8,985.2 1525,985.2" fill="#799d62" stroke="#333" stroke-width="0.85"/>
<rect x="1525" y="947.9" width="38.2" height="8.3" fill="#e9bac4"/>
<path d="M1525 956.2V947.9H1563.2V956.2" fill="none" stroke="#a4a4a4" stroke-width=".85" stroke-dasharray="3.6 2"/>
<polygon points="1525,956.2 1563.2,956.2 1563.2,964.7 1536,964.7" fill="#e9bac4" stroke="#333" stroke-width="0.85"/>
<rect x="1613.7" y="956.7" width="8.9" height="28.5" fill="#799d62"/>
<path d="M1622.6 956.7H1613.7V985.2H1622.6" fill="none" stroke="#a4a4a4" stroke-width=".85" stroke-dasharray="3.6 2"/>
<polygon points="1622.6,956.2 1634.4,965.2 1634.4,985.2 1622.6,985.2" fill="#799d62" stroke="#333" stroke-width="0.85"/>
<rect x="1622.6" y="947.9" width="38.2" height="8.3" fill="#f5f5f1"/>
<path d="M1622.6 956.2V947.9H1660.8V956.2" fill="none" stroke="#a4a4a4" stroke-width=".85" stroke-dasharray="3.6 2"/>
<polygon points="1622.6,956.2 1660.8,956.2 1660.8,964.7 1633.6,964.7" fill="#f5f5f1" stroke="#333" stroke-width="0.85"/>
<rect x="1711.3" y="956.7" width="8.9" height="28.5" fill="#799d62"/>
<path d="M1720.2 956.7H1711.3V985.2H1720.2" fill="none" stroke="#a4a4a4" stroke-width=".85" stroke-dasharray="3.6 2"/>
<polygon points="1720.2,956.2 1732,965.2 1732,985.2 1720.2,985.2" fill="#799d62" stroke="#333" stroke-width="0.85"/>
<rect x="1720.2" y="947.9" width="38.2" height="8.3" fill="#799d62"/>
<path d="M1720.2 956.2V947.9H1758.4V956.2" fill="none" stroke="#a4a4a4" stroke-width=".85" stroke-dasharray="3.6 2"/>
<polygon points="1720.2,956.2 1758.4,956.2 1758.4,964.7 1731.2,964.7" fill="#799d62" stroke="#333" stroke-width="0.85"/>
<rect x="1808.9" y="956.7" width="8.9" height="28.5" fill="#799d62"/>
<path d="M1817.8 956.7H1808.9V985.2H1817.8" fill="none" stroke="#a4a4a4" stroke-width=".85" stroke-dasharray="3.6 2"/>
<polygon points="1817.8,956.2 1829.6,965.2 1829.6,985.2 1817.8,985.2" fill="#799d62" stroke="#333" stroke-width="0.85"/>
<rect x="1817.8" y="947.9" width="38.2" height="8.3" fill="#9dcdcc"/>
<path d="M1817.8 956.2V947.9H1856V956.2" fill="none" stroke="#a4a4a4" stroke-width=".85" stroke-dasharray="3.6 2"/>
<polygon points="1817.8,956.2 1856,956.2 1856,964.7 1828.8,964.7" fill="#9dcdcc" stroke="#333" stroke-width="0.85"/>
<text x="1140" y="963.6" font-size="6.5">Colour 5: Green</text>
<text x="1140" y="971.1" font-size="6.5">RAL: To be defined</text>
<rect x="1249.6" y="1036.7" width="8.9" height="28.5" fill="#9dcdcc"/>
<path d="M1258.5 1036.7H1249.6V1065.2H1258.5" fill="none" stroke="#a4a4a4" stroke-width=".85" stroke-dasharray="3.6 2"/>
<polygon points="1258.5,1036.2 1270.3,1045.2 1270.3,1065.2 1258.5,1065.2" fill="#9dcdcc" stroke="#333" stroke-width="0.85"/>
<rect x="1320.9" y="1036.7" width="8.9" height="28.5" fill="#9dcdcc"/>
<path d="M1329.8 1036.7H1320.9V1065.2H1329.8" fill="none" stroke="#a4a4a4" stroke-width=".85" stroke-dasharray="3.6 2"/>
<polygon points="1329.8,1036.2 1341.6,1045.2 1341.6,1065.2 1329.8,1065.2" fill="#9dcdcc" stroke="#333" stroke-width="0.85"/>
<rect x="1329.8" y="1027.9" width="38.2" height="8.3" fill="#fbdea6"/>
<path d="M1329.8 1036.2V1027.9H1368V1036.2" fill="none" stroke="#a4a4a4" stroke-width=".85" stroke-dasharray="3.6 2"/>
<polygon points="1329.8,1036.2 1368,1036.2 1368,1044.7 1340.8,1044.7" fill="#fbdea6" stroke="#333" stroke-width="0.85"/>
<rect x="1418.5" y="1036.7" width="8.9" height="28.5" fill="#9dcdcc"/>
<path d="M1427.4 1036.7H1418.5V1065.2H1427.4" fill="none" stroke="#a4a4a4" stroke-width=".85" stroke-dasharray="3.6 2"/>
<polygon points="1427.4,1036.2 1439.2,1045.2 1439.2,1065.2 1427.4,1065.2" fill="#9dcdcc" stroke="#333" stroke-width="0.85"/>
<rect x="1427.4" y="1027.9" width="38.2" height="8.3" fill="#e7723a"/>
<path d="M1427.4 1036.2V1027.9H1465.6V1036.2" fill="none" stroke="#a4a4a4" stroke-width=".85" stroke-dasharray="3.6 2"/>
<polygon points="1427.4,1036.2 1465.6,1036.2 1465.6,1044.7 1438.4,1044.7" fill="#e7723a" stroke="#333" stroke-width="0.85"/>
<rect x="1516.1" y="1036.7" width="8.9" height="28.5" fill="#9dcdcc"/>
<path d="M1525 1036.7H1516.1V1065.2H1525" fill="none" stroke="#a4a4a4" stroke-width=".85" stroke-dasharray="3.6 2"/>
<polygon points="1525,1036.2 1536.8,1045.2 1536.8,1065.2 1525,1065.2" fill="#9dcdcc" stroke="#333" stroke-width="0.85"/>
<rect x="1525" y="1027.9" width="38.2" height="8.3" fill="#e9bac4"/>
<path d="M1525 1036.2V1027.9H1563.2V1036.2" fill="none" stroke="#a4a4a4" stroke-width=".85" stroke-dasharray="3.6 2"/>
<polygon points="1525,1036.2 1563.2,1036.2 1563.2,1044.7 1536,1044.7" fill="#e9bac4" stroke="#333" stroke-width="0.85"/>
<rect x="1613.7" y="1036.7" width="8.9" height="28.5" fill="#9dcdcc"/>
<path d="M1622.6 1036.7H1613.7V1065.2H1622.6" fill="none" stroke="#a4a4a4" stroke-width=".85" stroke-dasharray="3.6 2"/>
<polygon points="1622.6,1036.2 1634.4,1045.2 1634.4,1065.2 1622.6,1065.2" fill="#9dcdcc" stroke="#333" stroke-width="0.85"/>
<rect x="1622.6" y="1027.9" width="38.2" height="8.3" fill="#f5f5f1"/>
<path d="M1622.6 1036.2V1027.9H1660.8V1036.2" fill="none" stroke="#a4a4a4" stroke-width=".85" stroke-dasharray="3.6 2"/>
<polygon points="1622.6,1036.2 1660.8,1036.2 1660.8,1044.7 1633.6,1044.7" fill="#f5f5f1" stroke="#333" stroke-width="0.85"/>
<rect x="1711.3" y="1036.7" width="8.9" height="28.5" fill="#9dcdcc"/>
<path d="M1720.2 1036.7H1711.3V1065.2H1720.2" fill="none" stroke="#a4a4a4" stroke-width=".85" stroke-dasharray="3.6 2"/>
<polygon points="1720.2,1036.2 1732,1045.2 1732,1065.2 1720.2,1065.2" fill="#9dcdcc" stroke="#333" stroke-width="0.85"/>
<rect x="1720.2" y="1027.9" width="38.2" height="8.3" fill="#799d62"/>
<path d="M1720.2 1036.2V1027.9H1758.4V1036.2" fill="none" stroke="#a4a4a4" stroke-width=".85" stroke-dasharray="3.6 2"/>
<polygon points="1720.2,1036.2 1758.4,1036.2 1758.4,1044.7 1731.2,1044.7" fill="#799d62" stroke="#333" stroke-width="0.85"/>
<rect x="1808.9" y="1036.7" width="8.9" height="28.5" fill="#9dcdcc"/>
<path d="M1817.8 1036.7H1808.9V1065.2H1817.8" fill="none" stroke="#a4a4a4" stroke-width=".85" stroke-dasharray="3.6 2"/>
<polygon points="1817.8,1036.2 1829.6,1045.2 1829.6,1065.2 1817.8,1065.2" fill="#9dcdcc" stroke="#333" stroke-width="0.85"/>
<rect x="1817.8" y="1027.9" width="38.2" height="8.3" fill="#9dcdcc"/>
<path d="M1817.8 1036.2V1027.9H1856V1036.2" fill="none" stroke="#a4a4a4" stroke-width=".85" stroke-dasharray="3.6 2"/>
<polygon points="1817.8,1036.2 1856,1036.2 1856,1044.7 1828.8,1044.7" fill="#9dcdcc" stroke="#333" stroke-width="0.85"/>
<text x="1140" y="1043.6" font-size="6.5">Colour 6: Blue</text>
<text x="1140" y="1051.1" font-size="6.5">RAL: To be defined</text>
<text x="39.5" y="45" font-size="18.95">Facade Color Schemes</text>
<text x="40" y="68.6" font-size="13.2">立面颜色方案</text>
<text x="37.5" y="101.6" font-size="13.33">Tower Colour Scheme</text>
<text x="37.5" y="120.8" font-size="13.2">塔楼立面颜色方案</text>
<text x="42.4" y="802.6" font-size="13.25">Courtyard Colour Scheme</text>
<text x="42.4" y="821.3" font-size="13.2">中庭颜色方案</text>
<text x="42.4" y="1143" font-size="13.25">Podium Colour Scheme</text>
<text x="42.4" y="1161.5" font-size="13.2">裙房颜色方案</text>
<text x="1139" y="199" font-size="13.25">Facade Module Legend</text>
<text x="1139.8" y="224.8" font-size="13.2">立面模块图例</text>
<text x="1139" y="534" font-size="13.25">Facade Color Palette</text>
<text x="1139.8" y="561.2" font-size="13.2">立面色谱</text>
<text x="272.2" y="196" font-size="13.25" text-anchor="middle">Tower North <tspan font-weight="bold">(TN)</tspan></text>
<text x="644" y="196" font-size="13.25" text-anchor="middle">Tower South <tspan font-weight="bold">(TS)</tspan></text>
<text x="310.7" y="868.7" font-size="13.25" text-anchor="middle">Courtyard South <tspan font-weight="bold">(CS)</tspan></text>
<text x="590.9" y="868.7" font-size="13.25" text-anchor="middle">Courtyard West <tspan font-weight="bold">(CW)</tspan></text>
<text x="819.4" y="868.7" font-size="13.25" text-anchor="middle">Courtyard North <tspan font-weight="bold">(CN)</tspan></text>
<text x="1015.2" y="868.7" font-size="13.25" text-anchor="middle">Courtyard East <tspan font-weight="bold">(CE)</tspan></text>
<text x="375.6" y="1204.9" font-size="13.25" text-anchor="middle">Podium North <tspan font-weight="bold">(PN)</tspan></text>
<text x="869" y="1204.9" font-size="13.25" text-anchor="middle">Podium West <tspan font-weight="bold">(PW)</tspan></text>
<text x="1257" y="1204.9" font-size="13.25" text-anchor="middle">Podium South <tspan font-weight="bold">(PS)</tspan></text>
<text x="1664" y="1204.9" font-size="13.25" text-anchor="middle">Podium East <tspan font-weight="bold">(PE)</tspan></text>
<text x="857.5" y="326.5" font-size="9.2">Hotel</text>
<text x="857.5" y="487.8" font-size="9.2">Innovation &amp;</text>
<text x="857.5" y="498.4" font-size="9.2">Entrepreneurship</text>
<text x="857.5" y="509" font-size="9.2">Center</text>
<text x="857.5" y="519.6" font-size="9.2">Women's Federation</text>
<text x="857.5" y="530.2" font-size="9.2">Office</text>
<text x="857.5" y="616.1" font-size="9.2">Matchmaking Center</text>
<text x="857.5" y="626.7" font-size="9.2">Marriage School</text>
<text x="857.5" y="686.1" font-size="9.2">Exhibition Hall</text>
<text x="857.5" y="696.6" font-size="9.2">Auditorium</text>
<text x="857.5" y="343" font-size="9.2">酒店</text>
<text x="857.5" y="550.3" font-size="9.2">创新创业中心</text>
<text x="857.5" y="565.7" font-size="9.2">妇联办公</text>
<text x="857.5" y="647.3" font-size="9.2">婚姻 / 婚介中心</text>
<text x="857.5" y="713" font-size="9.2">展厅 / 国际交流阶梯</text>
<g font-weight="bold" text-anchor="middle" font-size="5.6">
<text x="89.85" y="225.2" font-size="5.6">A</text>
<text x="464.69" y="225.2" font-size="5.6">A</text>
<text x="112.35" y="225.2" font-size="5.6">B</text>
<text x="488.19" y="225.2" font-size="5.6">B</text>
<text x="135.83" y="225.2" font-size="5.6">C</text>
<text x="511.68" y="225.2" font-size="5.6">C</text>
<text x="159.32" y="225.2" font-size="5.6">D</text>
<text x="535.17" y="225.2" font-size="5.6">D</text>
<text x="182.81" y="225.2" font-size="5.6">E</text>
<text x="558.66" y="225.2" font-size="5.6">E</text>
<text x="206.31" y="225.2" font-size="5.6">F</text>
<text x="582.15" y="225.2" font-size="5.6">F</text>
<text x="229.79" y="225.2" font-size="5.6">G</text>
<text x="605.64" y="225.2" font-size="5.6">G</text>
<text x="253.28" y="225.2" font-size="5.6">H</text>
<text x="629.12" y="225.2" font-size="5.6">H</text>
<text x="276.77" y="225.2" font-size="5.6">I</text>
<text x="652.62" y="225.2" font-size="5.6">I</text>
<text x="300.26" y="225.2" font-size="5.6">J</text>
<text x="676.11" y="225.2" font-size="5.6">J</text>
<text x="323.75" y="225.2" font-size="5.6">K</text>
<text x="699.6" y="225.2" font-size="5.6">K</text>
<text x="347.24" y="225.2" font-size="5.6">L</text>
<text x="723.09" y="225.2" font-size="5.6">L</text>
<text x="370.73" y="225.2" font-size="5.6">M</text>
<text x="746.58" y="225.2" font-size="5.6">M</text>
<text x="394.22" y="225.2" font-size="5.6">N</text>
<text x="770.07" y="225.2" font-size="5.6">N</text>
<text x="417.71" y="225.2" font-size="5.6">O</text>
<text x="793.55" y="225.2" font-size="5.6">O</text>
<text x="441.2" y="225.2" font-size="5.6">P</text>
<text x="813.65" y="225.2" font-size="5.6">P</text>
</g><g font-weight="bold" text-anchor="middle">
<text x="69.2" y="247.2" font-size="5.9">29</text>
<text x="69.2" y="270.8" font-size="5.9">28</text>
<text x="69.2" y="291.9" font-size="5.9">27</text>
<text x="69.2" y="310.5" font-size="5.9">26</text>
<text x="69.2" y="329.1" font-size="5.9">25</text>
<text x="69.2" y="347.7" font-size="5.9">24</text>
<text x="69.2" y="366.3" font-size="5.9">23</text>
<text x="69.2" y="384.9" font-size="5.9">22</text>
<text x="69.2" y="403.5" font-size="5.9">21</text>
<text x="69.2" y="422.1" font-size="5.9">20</text>
<text x="69.2" y="440.7" font-size="5.9">19</text>
<text x="69.2" y="459.3" font-size="5.9">18</text>
<text x="69.2" y="477.9" font-size="5.9">17</text>
<text x="69.2" y="496.5" font-size="5.9">16</text>
<text x="69.2" y="515.1" font-size="5.9">15</text>
<text x="69.2" y="533.7" font-size="5.9">14</text>
<text x="69.2" y="552.3" font-size="5.9">13</text>
<text x="69.2" y="570.9" font-size="5.9">12</text>
<text x="69.2" y="589.5" font-size="5.9">11</text>
<text x="69.2" y="608.1" font-size="5.9">10</text>
<text x="69.2" y="626.7" font-size="5.9">9</text>
<text x="69.2" y="645.3" font-size="5.9">8</text>
<text x="69.2" y="663.9" font-size="5.9">7</text>
<text x="69.2" y="682.5" font-size="5.9">6</text>
<text x="69.2" y="705.1" font-size="5.9">5</text>
</g><g font-weight="bold" text-anchor="middle">
<text x="93.8" y="905" font-size="6.3">A</text>
<text x="129.03" y="905" font-size="6.3">B</text>
<text x="164.49" y="905" font-size="6.3">C</text>
<text x="199.95" y="905" font-size="6.3">D</text>
<text x="235.41" y="905" font-size="6.3">E</text>
<text x="270.87" y="905" font-size="6.3">F</text>
<text x="306.33" y="905" font-size="6.3">G</text>
<text x="341.79" y="905" font-size="6.3">H</text>
<text x="377.25" y="905" font-size="6.3">I</text>
<text x="412.71" y="905" font-size="6.3">J</text>
<text x="448.17" y="905" font-size="6.3">K</text>
<text x="483.63" y="905" font-size="6.3">L</text>
<text x="519.09" y="905" font-size="6.3">A</text>
<text x="554.55" y="905" font-size="6.3">B</text>
<text x="590.01" y="905" font-size="6.3">C</text>
<text x="625.47" y="905" font-size="6.3">D</text>
<text x="660.93" y="905" font-size="6.3">E</text>
<text x="696.39" y="905" font-size="6.3">A</text>
<text x="731.85" y="905" font-size="6.3">B</text>
<text x="767.31" y="905" font-size="6.3">C</text>
<text x="802.77" y="905" font-size="6.3">D</text>
<text x="838.23" y="905" font-size="6.3">E</text>
<text x="873.69" y="905" font-size="6.3">F</text>
<text x="909.15" y="905" font-size="6.3">G</text>
<text x="944.61" y="905" font-size="6.3">H</text>
<text x="980.07" y="905" font-size="6.3">A</text>
<text x="1015.53" y="905" font-size="6.3">B</text>
<text x="1050.99" y="905" font-size="6.3">C</text>
<text x="64" y="933.85" font-size="6.3">6</text>
<text x="64" y="958.15" font-size="6.3">5</text>
<text x="64" y="982.45" font-size="6.3">4</text>
<text x="64" y="1006.75" font-size="6.3">3</text>
<text x="64" y="1031.05" font-size="6.3">2</text>
<text x="64" y="1055.35" font-size="6.3">1</text>
<text x="98.03" y="1236" font-size="6">A</text>
<text x="133.49" y="1236" font-size="6">B</text>
<text x="168.95" y="1236" font-size="6">C</text>
<text x="204.41" y="1236" font-size="6">D</text>
<text x="239.87" y="1236" font-size="6">E</text>
<text x="275.33" y="1236" font-size="6">F</text>
<text x="310.79" y="1236" font-size="6">G</text>
<text x="346.25" y="1236" font-size="6">H</text>
<text x="381.71" y="1236" font-size="6">I</text>
<text x="417.17" y="1236" font-size="6">J</text>
<text x="452.63" y="1236" font-size="6">K</text>
<text x="488.09" y="1236" font-size="6">L</text>
<text x="523.55" y="1236" font-size="6">M</text>
<text x="559.01" y="1236" font-size="6">N</text>
<text x="594.47" y="1236" font-size="6">O</text>
<text x="629.93" y="1236" font-size="6">P</text>
<text x="665.39" y="1236" font-size="6">Q</text>
<text x="700.85" y="1236" font-size="6">A</text>
<text x="736.31" y="1236" font-size="6">B</text>
<text x="771.77" y="1236" font-size="6">C</text>
<text x="807.23" y="1236" font-size="6">D</text>
<text x="842.69" y="1236" font-size="6">E</text>
<text x="878.15" y="1236" font-size="6">F</text>
<text x="913.61" y="1236" font-size="6">G</text>
<text x="949.07" y="1236" font-size="6">H</text>
<text x="984.53" y="1236" font-size="6">I</text>
<text x="1019.99" y="1236" font-size="6">J</text>
<text x="1055.45" y="1236" font-size="6">A</text>
<text x="1090.91" y="1236" font-size="6">B</text>
<text x="1126.37" y="1236" font-size="6">C</text>
<text x="1161.83" y="1236" font-size="6">D</text>
<text x="1197.29" y="1236" font-size="6">E</text>
<text x="1232.75" y="1236" font-size="6">F</text>
<text x="1268.21" y="1236" font-size="6">G</text>
<text x="1303.67" y="1236" font-size="6">H</text>
<text x="1339.13" y="1236" font-size="6">I</text>
<text x="1374.59" y="1236" font-size="6">J</text>
<text x="1410.05" y="1236" font-size="6">K</text>
<text x="1445.51" y="1236" font-size="6">L</text>
<text x="1480.97" y="1236" font-size="6">A</text>
<text x="1516.43" y="1236" font-size="6">B</text>
<text x="1551.89" y="1236" font-size="6">C</text>
<text x="1587.35" y="1236" font-size="6">D</text>
<text x="1622.81" y="1236" font-size="6">E</text>
<text x="1658.27" y="1236" font-size="6">F</text>
<text x="1693.73" y="1236" font-size="6">G</text>
<text x="1729.19" y="1236" font-size="6">H</text>
<text x="1764.65" y="1236" font-size="6">I</text>
<text x="1800.11" y="1236" font-size="6">J</text>
<text x="1835.57" y="1236" font-size="6">K</text>
<text x="64" y="1264.93" font-size="6.3">6</text>
<text x="64" y="1289.4" font-size="6.3">5</text>
<text x="64" y="1313.88" font-size="6.3">4</text>
<text x="64" y="1338.35" font-size="6.3">3</text>
<text x="64" y="1362.82" font-size="6.3">2</text>
<text x="64" y="1387.28" font-size="6.3">1</text>
</g></svg></body></html>
